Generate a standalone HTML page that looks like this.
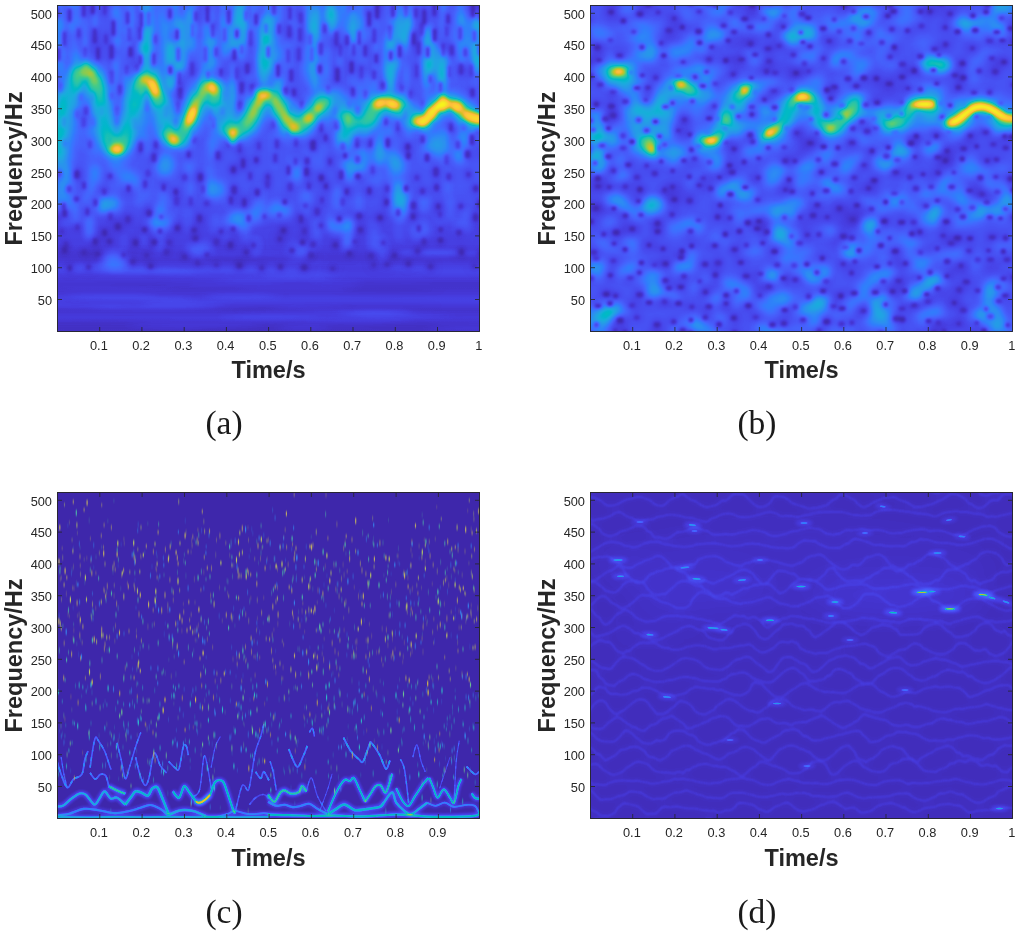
<!DOCTYPE html><html><head><meta charset="utf-8"><title>Time-frequency representations</title>
<style>html,body{margin:0;padding:0;background:#fff}svg{display:block}.tk{font-family:"Liberation Sans",Arial,Helvetica,sans-serif;font-size:12.8px;fill:#262626}.lb{font-family:"Liberation Sans",Arial,Helvetica,sans-serif;font-size:23.5px;font-weight:bold;fill:#262626}.cap{font-family:"Liberation Serif","Times New Roman",serif;font-size:33.5px;fill:#1a1a1a}</style></head><body>
<svg width="1025" height="933" viewBox="0 0 1025 933">
<defs><linearGradient id="gradA" x1="0" y1="0" x2="0" y2="1">
<stop offset="0" stop-color="#fff" stop-opacity="0.02"/><stop offset="0.55" stop-color="#fff" stop-opacity="0.015"/><stop offset="0.6" stop-color="#000" stop-opacity="0.0"/>
<stop offset="0.68" stop-color="#000" stop-opacity="0.3"/><stop offset="0.8" stop-color="#000" stop-opacity="0.45"/><stop offset="1" stop-color="#000" stop-opacity="0.62"/></linearGradient>
<filter id="cma" filterUnits="userSpaceOnUse" x="57.5" y="5.5" width="422" height="326" color-interpolation-filters="sRGB"><feComponentTransfer><feFuncR type="table" tableValues="0.242 0.250 0.258 0.265 0.271 0.275 0.278 0.280 0.281 0.281 0.280 0.276 0.270 0.260 0.244 0.221 0.196 0.183 0.179 0.176 0.169 0.154 0.146 0.138 0.125 0.111 0.095 0.069 0.030 0.004 0.007 0.043 0.096 0.141 0.172 0.194 0.216 0.247 0.291 0.341 0.391 0.446 0.504 0.562 0.617 0.672 0.724 0.774 0.820 0.863 0.903 0.939 0.973 0.996 0.997 0.995 0.989 0.979 0.968 0.961 0.960 0.963 0.969 0.977"/><feFuncG type="table" tableValues="0.150 0.165 0.182 0.198 0.215 0.234 0.256 0.278 0.301 0.323 0.345 0.367 0.389 0.412 0.436 0.460 0.485 0.507 0.529 0.550 0.570 0.590 0.609 0.628 0.646 0.663 0.680 0.695 0.708 0.720 0.731 0.741 0.750 0.758 0.767 0.776 0.784 0.792 0.797 0.801 0.803 0.802 0.799 0.794 0.788 0.779 0.770 0.760 0.750 0.741 0.733 0.729 0.730 0.743 0.766 0.789 0.814 0.839 0.864 0.889 0.913 0.937 0.961 0.984"/><feFuncB type="table" tableValues="0.660 0.708 0.751 0.795 0.836 0.871 0.899 0.922 0.941 0.958 0.972 0.983 0.991 0.995 0.999 0.997 0.989 0.980 0.968 0.952 0.936 0.922 0.908 0.897 0.888 0.876 0.860 0.839 0.816 0.792 0.766 0.739 0.712 0.684 0.655 0.625 0.592 0.557 0.519 0.479 0.435 0.391 0.348 0.304 0.261 0.223 0.191 0.165 0.153 0.160 0.177 0.210 0.239 0.237 0.220 0.203 0.189 0.177 0.164 0.154 0.142 0.127 0.106 0.081"/></feComponentTransfer></filter>
<filter id="cmb" filterUnits="userSpaceOnUse" x="590.5" y="5.5" width="422" height="326" color-interpolation-filters="sRGB"><feComponentTransfer><feFuncR type="table" tableValues="0.242 0.250 0.258 0.265 0.271 0.275 0.278 0.280 0.281 0.281 0.280 0.276 0.270 0.260 0.244 0.221 0.196 0.183 0.179 0.176 0.169 0.154 0.146 0.138 0.125 0.111 0.095 0.069 0.030 0.004 0.007 0.043 0.096 0.141 0.172 0.194 0.216 0.247 0.291 0.341 0.391 0.446 0.504 0.562 0.617 0.672 0.724 0.774 0.820 0.863 0.903 0.939 0.973 0.996 0.997 0.995 0.989 0.979 0.968 0.961 0.960 0.963 0.969 0.977"/><feFuncG type="table" tableValues="0.150 0.165 0.182 0.198 0.215 0.234 0.256 0.278 0.301 0.323 0.345 0.367 0.389 0.412 0.436 0.460 0.485 0.507 0.529 0.550 0.570 0.590 0.609 0.628 0.646 0.663 0.680 0.695 0.708 0.720 0.731 0.741 0.750 0.758 0.767 0.776 0.784 0.792 0.797 0.801 0.803 0.802 0.799 0.794 0.788 0.779 0.770 0.760 0.750 0.741 0.733 0.729 0.730 0.743 0.766 0.789 0.814 0.839 0.864 0.889 0.913 0.937 0.961 0.984"/><feFuncB type="table" tableValues="0.660 0.708 0.751 0.795 0.836 0.871 0.899 0.922 0.941 0.958 0.972 0.983 0.991 0.995 0.999 0.997 0.989 0.980 0.968 0.952 0.936 0.922 0.908 0.897 0.888 0.876 0.860 0.839 0.816 0.792 0.766 0.739 0.712 0.684 0.655 0.625 0.592 0.557 0.519 0.479 0.435 0.391 0.348 0.304 0.261 0.223 0.191 0.165 0.153 0.160 0.177 0.210 0.239 0.237 0.220 0.203 0.189 0.177 0.164 0.154 0.142 0.127 0.106 0.081"/></feComponentTransfer></filter>
<filter id="cmc" filterUnits="userSpaceOnUse" x="57.5" y="492.5" width="422" height="326" color-interpolation-filters="sRGB"><feComponentTransfer><feFuncR type="table" tableValues="0.242 0.250 0.258 0.265 0.271 0.275 0.278 0.280 0.281 0.281 0.280 0.276 0.270 0.260 0.244 0.221 0.196 0.183 0.179 0.176 0.169 0.154 0.146 0.138 0.125 0.111 0.095 0.069 0.030 0.004 0.007 0.043 0.096 0.141 0.172 0.194 0.216 0.247 0.291 0.341 0.391 0.446 0.504 0.562 0.617 0.672 0.724 0.774 0.820 0.863 0.903 0.939 0.973 0.996 0.997 0.995 0.989 0.979 0.968 0.961 0.960 0.963 0.969 0.977"/><feFuncG type="table" tableValues="0.150 0.165 0.182 0.198 0.215 0.234 0.256 0.278 0.301 0.323 0.345 0.367 0.389 0.412 0.436 0.460 0.485 0.507 0.529 0.550 0.570 0.590 0.609 0.628 0.646 0.663 0.680 0.695 0.708 0.720 0.731 0.741 0.750 0.758 0.767 0.776 0.784 0.792 0.797 0.801 0.803 0.802 0.799 0.794 0.788 0.779 0.770 0.760 0.750 0.741 0.733 0.729 0.730 0.743 0.766 0.789 0.814 0.839 0.864 0.889 0.913 0.937 0.961 0.984"/><feFuncB type="table" tableValues="0.660 0.708 0.751 0.795 0.836 0.871 0.899 0.922 0.941 0.958 0.972 0.983 0.991 0.995 0.999 0.997 0.989 0.980 0.968 0.952 0.936 0.922 0.908 0.897 0.888 0.876 0.860 0.839 0.816 0.792 0.766 0.739 0.712 0.684 0.655 0.625 0.592 0.557 0.519 0.479 0.435 0.391 0.348 0.304 0.261 0.223 0.191 0.165 0.153 0.160 0.177 0.210 0.239 0.237 0.220 0.203 0.189 0.177 0.164 0.154 0.142 0.127 0.106 0.081"/></feComponentTransfer></filter>
<filter id="cmd" filterUnits="userSpaceOnUse" x="590.5" y="492.5" width="422" height="326" color-interpolation-filters="sRGB"><feComponentTransfer><feFuncR type="table" tableValues="0.242 0.250 0.258 0.265 0.271 0.275 0.278 0.280 0.281 0.281 0.280 0.276 0.270 0.260 0.244 0.221 0.196 0.183 0.179 0.176 0.169 0.154 0.146 0.138 0.125 0.111 0.095 0.069 0.030 0.004 0.007 0.043 0.096 0.141 0.172 0.194 0.216 0.247 0.291 0.341 0.391 0.446 0.504 0.562 0.617 0.672 0.724 0.774 0.820 0.863 0.903 0.939 0.973 0.996 0.997 0.995 0.989 0.979 0.968 0.961 0.960 0.963 0.969 0.977"/><feFuncG type="table" tableValues="0.150 0.165 0.182 0.198 0.215 0.234 0.256 0.278 0.301 0.323 0.345 0.367 0.389 0.412 0.436 0.460 0.485 0.507 0.529 0.550 0.570 0.590 0.609 0.628 0.646 0.663 0.680 0.695 0.708 0.720 0.731 0.741 0.750 0.758 0.767 0.776 0.784 0.792 0.797 0.801 0.803 0.802 0.799 0.794 0.788 0.779 0.770 0.760 0.750 0.741 0.733 0.729 0.730 0.743 0.766 0.789 0.814 0.839 0.864 0.889 0.913 0.937 0.961 0.984"/><feFuncB type="table" tableValues="0.660 0.708 0.751 0.795 0.836 0.871 0.899 0.922 0.941 0.958 0.972 0.983 0.991 0.995 0.999 0.997 0.989 0.980 0.968 0.952 0.936 0.922 0.908 0.897 0.888 0.876 0.860 0.839 0.816 0.792 0.766 0.739 0.712 0.684 0.655 0.625 0.592 0.557 0.519 0.479 0.435 0.391 0.348 0.304 0.261 0.223 0.191 0.165 0.153 0.160 0.177 0.210 0.239 0.237 0.220 0.203 0.189 0.177 0.164 0.154 0.142 0.127 0.106 0.081"/></feComponentTransfer></filter>
<filter id="b0p7" filterUnits="userSpaceOnUse" x="0" y="0" width="1025" height="933" color-interpolation-filters="sRGB"><feGaussianBlur stdDeviation="0.7"/></filter>
<filter id="b1" filterUnits="userSpaceOnUse" x="0" y="0" width="1025" height="933" color-interpolation-filters="sRGB"><feGaussianBlur stdDeviation="1"/></filter>
<filter id="b1p5" filterUnits="userSpaceOnUse" x="0" y="0" width="1025" height="933" color-interpolation-filters="sRGB"><feGaussianBlur stdDeviation="1.5"/></filter>
<filter id="b2" filterUnits="userSpaceOnUse" x="0" y="0" width="1025" height="933" color-interpolation-filters="sRGB"><feGaussianBlur stdDeviation="2"/></filter>
<filter id="b3" filterUnits="userSpaceOnUse" x="0" y="0" width="1025" height="933" color-interpolation-filters="sRGB"><feGaussianBlur stdDeviation="3"/></filter>
<filter id="b4" filterUnits="userSpaceOnUse" x="0" y="0" width="1025" height="933" color-interpolation-filters="sRGB"><feGaussianBlur stdDeviation="4"/></filter>
<filter id="b5" filterUnits="userSpaceOnUse" x="0" y="0" width="1025" height="933" color-interpolation-filters="sRGB"><feGaussianBlur stdDeviation="5"/></filter>
<filter id="b6" filterUnits="userSpaceOnUse" x="0" y="0" width="1025" height="933" color-interpolation-filters="sRGB"><feGaussianBlur stdDeviation="6"/></filter>
<filter id="b8" filterUnits="userSpaceOnUse" x="0" y="0" width="1025" height="933" color-interpolation-filters="sRGB"><feGaussianBlur stdDeviation="8"/></filter>
<filter id="b10" filterUnits="userSpaceOnUse" x="0" y="0" width="1025" height="933" color-interpolation-filters="sRGB"><feGaussianBlur stdDeviation="10"/></filter>
<filter id="b12" filterUnits="userSpaceOnUse" x="0" y="0" width="1025" height="933" color-interpolation-filters="sRGB"><feGaussianBlur stdDeviation="12"/></filter>
<filter id="b16" filterUnits="userSpaceOnUse" x="0" y="0" width="1025" height="933" color-interpolation-filters="sRGB"><feGaussianBlur stdDeviation="16"/></filter>
<filter id="b3_1" filterUnits="userSpaceOnUse" x="0" y="0" width="1025" height="933" color-interpolation-filters="sRGB"><feGaussianBlur stdDeviation="3 1"/></filter>
<filter id="b6_2" filterUnits="userSpaceOnUse" x="0" y="0" width="1025" height="933" color-interpolation-filters="sRGB"><feGaussianBlur stdDeviation="6 2"/></filter>
<filter id="b10_2" filterUnits="userSpaceOnUse" x="0" y="0" width="1025" height="933" color-interpolation-filters="sRGB"><feGaussianBlur stdDeviation="10 2"/></filter>
<filter id="b2_5" filterUnits="userSpaceOnUse" x="0" y="0" width="1025" height="933" color-interpolation-filters="sRGB"><feGaussianBlur stdDeviation="2 5"/></filter>
<filter id="b3_8" filterUnits="userSpaceOnUse" x="0" y="0" width="1025" height="933" color-interpolation-filters="sRGB"><feGaussianBlur stdDeviation="3 8"/></filter>
<filter id="b1_3" filterUnits="userSpaceOnUse" x="0" y="0" width="1025" height="933" color-interpolation-filters="sRGB"><feGaussianBlur stdDeviation="1 3"/></filter>
<filter id="b0p5_1p5" filterUnits="userSpaceOnUse" x="0" y="0" width="1025" height="933" color-interpolation-filters="sRGB"><feGaussianBlur stdDeviation="0.5 1.5"/></filter>
<filter id="b0p4_1" filterUnits="userSpaceOnUse" x="0" y="0" width="1025" height="933" color-interpolation-filters="sRGB"><feGaussianBlur stdDeviation="0.4 1"/></filter>
<clipPath id="clipa"><rect x="57.5" y="5.5" width="422" height="326"/></clipPath>
<clipPath id="clipb"><rect x="590.5" y="5.5" width="422" height="326"/></clipPath>
<clipPath id="clipc"><rect x="57.5" y="492.5" width="422" height="326"/></clipPath>
<clipPath id="clipd"><rect x="590.5" y="492.5" width="422" height="326"/></clipPath>
</defs>
<rect width="1025" height="933" fill="#fff"/>
<g id="panel-a">
<g filter="url(#cma)">
<rect x="55.5" y="3.5" width="426" height="330" fill="#252525"/><rect x="55.5" y="3.5" width="426" height="330" fill="url(#gradA)"/><g filter="url(#b3)"><path d="M124 237v15.8M175.8 8.7v24.7M349.2 95v17.3M346.9 197v9.4M369.3 175.8v18.3M177.1 58.7v24.4M443.9 21.6v18.1M84.5 95.5v34.9" stroke="#fff" stroke-width="6" stroke-opacity="0.04" stroke-linecap="round" fill="none"/><path d="M141.6 122.3v16.9M319 211.9v21.5M380.4 133.2v29.5M143.4 227.6v16.2M377.8 16.7v26.8M475.4 74.7v21.6M92.3 168.9v25.6M359.3 145.8v27.2" stroke="#fff" stroke-width="6" stroke-opacity="0.06" stroke-linecap="round" fill="none"/><path d="M190.5 184.1v15.1M441.6 52.3v45M65.6 206.3v17.2M353.4 36v47.4M390.6 127.8v34.7" stroke="#fff" stroke-width="6" stroke-opacity="0.08" stroke-linecap="round" fill="none"/><path d="M223.9 17.6v38.2M471.9 129.6v13.6M283.7 109.3v29M446.1 132.2v20.6M461.4 120v17.9" stroke="#fff" stroke-width="6" stroke-opacity="0.10" stroke-linecap="round" fill="none"/><path d="M329.1 212.3v14.9M62.3 161.5v24.9M429 141.3v23.9M174.3 198.5v16.3M401.7 9.1v32.2M114 177.2v24.1M290.3 107.1v27.6M117.8 146.6v26.5M308.5 187.4v11.4" stroke="#fff" stroke-width="7.5" stroke-opacity="0.04" stroke-linecap="round" fill="none"/><path d="M147.5 171.9v25.2M198.9 43.3v19.7M447.2 172v19.8M139.4 181v22.5M408.7 128.4v31.3M450 200.4v17.2M242.3 37.2v24.4M451.9 14.8v23.8M210.8 140.6v19.9M167.4 5v47M188.9 166.5v10" stroke="#fff" stroke-width="7.5" stroke-opacity="0.06" stroke-linecap="round" fill="none"/><path d="M88.5 217.5v17.4M405.1 90.1v21.2M245.6 229.6v8.1M232.2 80v26.9M75 57.3v31.1M358.9 198.1v12.2M232 109.3v16M155.4 -5.6v39.9M183.6 47.7v17.1M372.2 77.4v20.4M103.4 197v11.8M145.4 100.4v26.9" stroke="#fff" stroke-width="7.5" stroke-opacity="0.08" stroke-linecap="round" fill="none"/><path d="M324.7 51.7v20.2M277.6 45.7v26.5" stroke="#fff" stroke-width="7.5" stroke-opacity="0.10" stroke-linecap="round" fill="none"/><path d="M458.5 12v35.6M321.2 142.7v22.1M374.1 233.8v14.9M416.5 -8.5v33.9M254.6 110.3v21M228.5 195.7v9.1M236.9 87.1v13.8M393.9 97.9v33.2M119.2 42.3v45M395.7 142.5v21.3M214.3 32.9v36.1M326.3 -10.3v25.2" stroke="#fff" stroke-width="9" stroke-opacity="0.04" stroke-linecap="round" fill="none"/><path d="M248.4 91.3v36.9M248.9 74v39M458 223v8.5M275.3 135.1v28.4M163.2 190.8v17.6M315.4 222.8v22.6M402.1 92.2v13.3M339.4 127.9v15.4M278.6 53.6v37.8" stroke="#fff" stroke-width="9" stroke-opacity="0.06" stroke-linecap="round" fill="none"/><path d="M159.6 234.9v12.6M214.4 118.9v34.5M277.1 79.2v34M428.6 28.7v44.6M326.9 100.7v33.1M353.3 29.1v20.1M209.1 170.2v22.1M88.9 208.7v20.5M333.3 -10.3v27.2M90.6 220.3v15.5" stroke="#fff" stroke-width="9" stroke-opacity="0.08" stroke-linecap="round" fill="none"/><path d="M57.7 183.5v26.1M349.1 224.8v15M75.6 198.9v21.8M278.4 -4.3v40.9" stroke="#fff" stroke-width="9" stroke-opacity="0.10" stroke-linecap="round" fill="none"/><path d="M225.2 223.1v14.7M94.3 151.5v29.3M161.5 221.6v3.8M293.5 131.4v12.4M73.8 -1.5v22.6M367.7 93.9v21.2M439.9 216.3v21.4M69.5 41.1v13.6M318.3 10.3v17.6M399.1 222.6v14.3M92 161.7v23.1M368.5 17.3v16.5M187.7 212.1v16.1" stroke="#fff" stroke-width="10.5" stroke-opacity="0.04" stroke-linecap="round" fill="none"/><path d="M276.6 77.2v25.3M327.3 -21.1v46.6M157.7 211.1v5.1M391.2 155.6v27.1M92.4 128.4v21.6M365.1 77.7v24.9M466.2 213.3v13.4M83.6 -2.4v30.1M309.8 151v14M94 67v27.8M147.5 136.7v13.4M377.2 162.1v18.3M123.7 163.2v11.3M255.3 -5.4v34.1" stroke="#fff" stroke-width="10.5" stroke-opacity="0.06" stroke-linecap="round" fill="none"/><path d="M305.4 194.9v15.8M97.2 169.7v7.3M75.2 -19.9v49.8M174.9 -24v50.3M86.5 183.7v16.5M288 45.9v39.8M425.1 131.8v26.8M144 50.9v37.3M434.4 32.5v34.4M166.5 3v39.1M228.7 4.2v44M255.4 241.5v9M158.1 209.8v21.1M259.5 190.4v11.9M287.1 89.3v37.2M341.2 114.8v22.8M443.6 132.4v28.7M382.6 240.2v16.1" stroke="#fff" stroke-width="10.5" stroke-opacity="0.08" stroke-linecap="round" fill="none"/><path d="M392.3 8.7v25.9M338.5 192.8v13.3M267 20.4v41.1M346.7 241.2v6" stroke="#fff" stroke-width="10.5" stroke-opacity="0.10" stroke-linecap="round" fill="none"/><path d="M467.2 38.8v21M162.8 192v19M261 57.7v19.5M352.2 113.4v23.8M189 140.6v27M143.6 17.9v44.7M373.3 226.1v20.1M439.6 133v18.2M143.7 136.6v13.3M83.8 123.8v22.1" stroke="#fff" stroke-width="12" stroke-opacity="0.04" stroke-linecap="round" fill="none"/><path d="M439.7 73.6v22.6M147.5 2.4v45.9M362.8 23.1v34.4M155.7 46.9v36M216 220.7v7" stroke="#fff" stroke-width="12" stroke-opacity="0.06" stroke-linecap="round" fill="none"/><path d="M226.5 26.6v24.2M423.2 200.1v6.3M113 145.2v27.1M323.3 69.5v33.2M228.2 88.6v22.6M297.9 107.5v17.8M271.8 -7.7v32.9M385.8 99.4v35.2M397.6 21.3v40.9" stroke="#fff" stroke-width="12" stroke-opacity="0.08" stroke-linecap="round" fill="none"/><path d="M190.4 10v19.4M356.8 90.3v34.2" stroke="#fff" stroke-width="12" stroke-opacity="0.10" stroke-linecap="round" fill="none"/></g><g filter="url(#b6_2)"><ellipse cx="252.4" cy="254.4" rx="62.3" ry="2.4" fill="#fff" fill-opacity="0.03"/><ellipse cx="357.1" cy="312.4" rx="50.4" ry="2" fill="#fff" fill-opacity="0.05"/><ellipse cx="394.9" cy="314.9" rx="52.7" ry="1.7" fill="#fff" fill-opacity="0.04"/><ellipse cx="183.3" cy="304.5" rx="42.6" ry="2.4" fill="#fff" fill-opacity="0.03"/><ellipse cx="366.2" cy="305.1" rx="67.5" ry="2.2" fill="#000" fill-opacity="0.17"/><ellipse cx="406.4" cy="324" rx="31.3" ry="1.4" fill="#000" fill-opacity="0.24"/><ellipse cx="133.4" cy="299.3" rx="62.7" ry="2.3" fill="#fff" fill-opacity="0.03"/><ellipse cx="123.8" cy="321.4" rx="43.3" ry="1.3" fill="#000" fill-opacity="0.19"/><ellipse cx="273.4" cy="279.8" rx="59.5" ry="2.7" fill="#fff" fill-opacity="0.03"/><ellipse cx="231.4" cy="330.1" rx="43" ry="2.5" fill="#000" fill-opacity="0.26"/><ellipse cx="336.1" cy="282.9" rx="25.8" ry="1.8" fill="#fff" fill-opacity="0.04"/><ellipse cx="102.3" cy="301.3" rx="47.9" ry="2.6" fill="#000" fill-opacity="0.22"/><ellipse cx="124.3" cy="270.4" rx="65.6" ry="2.2" fill="#fff" fill-opacity="0.04"/><ellipse cx="117.3" cy="274.6" rx="69.4" ry="2.1" fill="#000" fill-opacity="0.27"/><ellipse cx="140.7" cy="256.2" rx="53.2" ry="1.6" fill="#fff" fill-opacity="0.03"/><ellipse cx="300.8" cy="275.9" rx="39.8" ry="2.9" fill="#fff" fill-opacity="0.03"/><ellipse cx="109.8" cy="253.9" rx="31.1" ry="2.8" fill="#000" fill-opacity="0.21"/><ellipse cx="294" cy="310.3" rx="65.9" ry="3" fill="#000" fill-opacity="0.22"/><ellipse cx="109.3" cy="265.7" rx="38" ry="2.8" fill="#fff" fill-opacity="0.04"/><ellipse cx="408.1" cy="316.5" rx="49.7" ry="1.3" fill="#fff" fill-opacity="0.03"/><ellipse cx="474" cy="256.6" rx="54.6" ry="1.8" fill="#000" fill-opacity="0.25"/><ellipse cx="218.6" cy="284.2" rx="61.2" ry="1.2" fill="#fff" fill-opacity="0.03"/><ellipse cx="117.8" cy="300.6" rx="50.6" ry="1.5" fill="#000" fill-opacity="0.15"/><ellipse cx="297.2" cy="304.9" rx="53.9" ry="1.3" fill="#000" fill-opacity="0.13"/><ellipse cx="462.3" cy="283.6" rx="46.1" ry="1.9" fill="#000" fill-opacity="0.24"/><ellipse cx="377.4" cy="271.5" rx="46.9" ry="3" fill="#000" fill-opacity="0.27"/><ellipse cx="230.1" cy="296.8" rx="50.5" ry="2.8" fill="#000" fill-opacity="0.21"/><ellipse cx="239.9" cy="259.4" rx="39.4" ry="1.3" fill="#000" fill-opacity="0.28"/><ellipse cx="366.4" cy="283.8" rx="58.8" ry="1.7" fill="#000" fill-opacity="0.11"/><ellipse cx="110" cy="295.8" rx="47.6" ry="1.9" fill="#fff" fill-opacity="0.04"/><ellipse cx="279.6" cy="312.3" rx="38.8" ry="1.9" fill="#fff" fill-opacity="0.02"/><ellipse cx="442.1" cy="254.5" rx="55" ry="2.8" fill="#fff" fill-opacity="0.04"/><ellipse cx="151.1" cy="271.9" rx="50.5" ry="2.8" fill="#fff" fill-opacity="0.04"/><ellipse cx="109.7" cy="288.6" rx="67.8" ry="1.2" fill="#fff" fill-opacity="0.03"/><ellipse cx="194.6" cy="326.3" rx="65.3" ry="2.7" fill="#fff" fill-opacity="0.03"/><ellipse cx="304.6" cy="327.7" rx="26.4" ry="2.8" fill="#fff" fill-opacity="0.03"/><ellipse cx="451.6" cy="253.6" rx="46.3" ry="1.6" fill="#fff" fill-opacity="0.05"/><ellipse cx="435.9" cy="315.8" rx="62.7" ry="1.8" fill="#000" fill-opacity="0.13"/><ellipse cx="428.7" cy="252.2" rx="34.1" ry="2.3" fill="#fff" fill-opacity="0.05"/><ellipse cx="78.6" cy="322.9" rx="57.7" ry="1.8" fill="#000" fill-opacity="0.27"/><ellipse cx="358.4" cy="320.6" rx="56.3" ry="2.9" fill="#fff" fill-opacity="0.02"/><ellipse cx="151.7" cy="306.9" rx="57" ry="1.6" fill="#fff" fill-opacity="0.03"/><ellipse cx="338" cy="268.5" rx="41.8" ry="2.4" fill="#000" fill-opacity="0.22"/><ellipse cx="154.1" cy="307.4" rx="66.7" ry="2.4" fill="#fff" fill-opacity="0.04"/><ellipse cx="95.5" cy="253.1" rx="44.8" ry="2.2" fill="#000" fill-opacity="0.11"/><ellipse cx="310.6" cy="308.7" rx="36.3" ry="2.6" fill="#fff" fill-opacity="0.03"/><ellipse cx="376.4" cy="311.8" rx="37.6" ry="2.2" fill="#fff" fill-opacity="0.05"/><ellipse cx="474.3" cy="328.6" rx="45.8" ry="2.6" fill="#fff" fill-opacity="0.05"/><ellipse cx="268.5" cy="317" rx="50" ry="2.4" fill="#fff" fill-opacity="0.04"/><ellipse cx="387.9" cy="290.2" rx="47.8" ry="2.7" fill="#000" fill-opacity="0.20"/><ellipse cx="459" cy="317.5" rx="60.1" ry="1.5" fill="#000" fill-opacity="0.15"/><ellipse cx="243.4" cy="269.8" rx="60.4" ry="2.6" fill="#fff" fill-opacity="0.03"/><ellipse cx="150.9" cy="285.2" rx="47.5" ry="1.3" fill="#000" fill-opacity="0.24"/><ellipse cx="299.2" cy="261.9" rx="33.1" ry="1.5" fill="#fff" fill-opacity="0.03"/><ellipse cx="240.9" cy="296.2" rx="36.8" ry="2.6" fill="#fff" fill-opacity="0.05"/><ellipse cx="297.6" cy="288.1" rx="60.6" ry="1.6" fill="#fff" fill-opacity="0.03"/><ellipse cx="75.4" cy="306.3" rx="53" ry="2.1" fill="#fff" fill-opacity="0.04"/><ellipse cx="94.8" cy="266.1" rx="32.7" ry="1.7" fill="#fff" fill-opacity="0.04"/><ellipse cx="408.2" cy="268.8" rx="27.8" ry="1.9" fill="#fff" fill-opacity="0.03"/><ellipse cx="467.1" cy="328" rx="47" ry="2.6" fill="#000" fill-opacity="0.13"/></g><g filter="url(#b3)"><rect x="47.5" y="251.9" width="442" height="10" fill="#000" fill-opacity="0.22"/><rect x="47.5" y="280.8" width="442" height="12" fill="#000" fill-opacity="0.2"/><rect x="47.5" y="304" width="442" height="10" fill="#000" fill-opacity="0.2"/><rect x="47.5" y="323.8" width="442" height="10" fill="#000" fill-opacity="0.25"/><rect x="47.5" y="266.5" width="442" height="10" fill="#fff" fill-opacity="0.035"/><rect x="47.5" y="297.3" width="442" height="7" fill="#fff" fill-opacity="0.045"/><rect x="47.5" y="314.3" width="442" height="6" fill="#fff" fill-opacity="0.03"/></g><g filter="url(#b3)"><ellipse cx="59" cy="40" rx="5" ry="40" fill="#fff" fill-opacity="0.22"/><ellipse cx="60" cy="120" rx="6" ry="40" fill="#fff" fill-opacity="0.22"/><ellipse cx="116" cy="26" rx="5" ry="22" fill="#fff" fill-opacity="0.16"/><ellipse cx="128" cy="20" rx="5" ry="16" fill="#fff" fill-opacity="0.14"/><ellipse cx="146" cy="38" rx="6" ry="36" fill="#fff" fill-opacity="0.32"/><ellipse cx="171" cy="66" rx="7" ry="25" fill="#fff" fill-opacity="0.32"/><ellipse cx="180" cy="45" rx="5" ry="28" fill="#fff" fill-opacity="0.19"/><ellipse cx="189" cy="30" rx="5" ry="20" fill="#fff" fill-opacity="0.14"/><ellipse cx="209" cy="38" rx="5" ry="34" fill="#fff" fill-opacity="0.20"/><ellipse cx="239" cy="30" rx="7" ry="28" fill="#fff" fill-opacity="0.32"/><ellipse cx="264" cy="52" rx="6" ry="36" fill="#fff" fill-opacity="0.24"/><ellipse cx="270" cy="40" rx="5" ry="36" fill="#fff" fill-opacity="0.19"/><ellipse cx="314" cy="48" rx="6" ry="44" fill="#fff" fill-opacity="0.20"/><ellipse cx="332" cy="20" rx="6" ry="15" fill="#fff" fill-opacity="0.27"/><ellipse cx="353" cy="28" rx="6" ry="18" fill="#fff" fill-opacity="0.24"/><ellipse cx="390" cy="62" rx="6" ry="30" fill="#fff" fill-opacity="0.30"/><ellipse cx="404" cy="25" rx="7" ry="20" fill="#fff" fill-opacity="0.16"/><ellipse cx="428" cy="56" rx="6" ry="31" fill="#fff" fill-opacity="0.27"/><ellipse cx="442" cy="70" rx="5" ry="22" fill="#fff" fill-opacity="0.27"/><ellipse cx="462" cy="40" rx="6" ry="26" fill="#fff" fill-opacity="0.16"/><ellipse cx="477" cy="42" rx="5" ry="32" fill="#fff" fill-opacity="0.41"/></g><g filter="url(#b4)"><ellipse cx="66" cy="190" rx="7" ry="23" fill="#fff" fill-opacity="0.21"/><ellipse cx="107" cy="205" rx="13" ry="8" fill="#fff" fill-opacity="0.24"/><ellipse cx="115" cy="260" rx="13" ry="8" fill="#fff" fill-opacity="0.18"/><ellipse cx="160" cy="222" rx="13" ry="8" fill="#fff" fill-opacity="0.18"/><ellipse cx="165" cy="165" rx="9" ry="11" fill="#fff" fill-opacity="0.21"/><ellipse cx="215" cy="190" rx="11" ry="9" fill="#fff" fill-opacity="0.18"/><ellipse cx="240" cy="220" rx="13" ry="9" fill="#fff" fill-opacity="0.24"/><ellipse cx="258" cy="214" rx="11" ry="8" fill="#fff" fill-opacity="0.18"/><ellipse cx="280" cy="210" rx="11" ry="8" fill="#fff" fill-opacity="0.21"/><ellipse cx="295" cy="170" rx="9" ry="11" fill="#fff" fill-opacity="0.18"/><ellipse cx="345" cy="140" rx="7" ry="13" fill="#fff" fill-opacity="0.30"/><ellipse cx="350" cy="168" rx="8" ry="13" fill="#fff" fill-opacity="0.24"/><ellipse cx="340" cy="225" rx="13" ry="8" fill="#fff" fill-opacity="0.21"/><ellipse cx="362" cy="160" rx="7" ry="13" fill="#fff" fill-opacity="0.21"/><ellipse cx="380" cy="150" rx="7" ry="13" fill="#fff" fill-opacity="0.24"/><ellipse cx="400" cy="200" rx="8" ry="19" fill="#fff" fill-opacity="0.33"/><ellipse cx="398" cy="165" rx="7" ry="11" fill="#fff" fill-opacity="0.21"/><ellipse cx="435" cy="145" rx="7" ry="11" fill="#fff" fill-opacity="0.21"/><ellipse cx="460" cy="150" rx="7" ry="13" fill="#fff" fill-opacity="0.24"/><ellipse cx="468" cy="138" rx="6" ry="9" fill="#fff" fill-opacity="0.21"/><ellipse cx="300" cy="250" rx="13" ry="7" fill="#fff" fill-opacity="0.12"/><ellipse cx="200" cy="250" rx="13" ry="7" fill="#fff" fill-opacity="0.12"/><ellipse cx="130" cy="180" rx="9" ry="9" fill="#fff" fill-opacity="0.15"/><ellipse cx="420" cy="230" rx="9" ry="9" fill="#fff" fill-opacity="0.15"/></g><g filter="url(#b2_5)"><path d="M455 61.1v18.5" stroke="#fff" stroke-width="4.8" stroke-opacity="0.04" stroke-linecap="round" fill="none"/><path d="M436.1 41v24.1" stroke="#fff" stroke-width="4.8" stroke-opacity="0.06" stroke-linecap="round" fill="none"/><path d="M223.5 1.3v30.5" stroke="#fff" stroke-width="4.8" stroke-opacity="0.08" stroke-linecap="round" fill="none"/><path d="M219.8 65.8v31.5M95 -10.8v42.4" stroke="#fff" stroke-width="4.8" stroke-opacity="0.10" stroke-linecap="round" fill="none"/><path d="M182.4 58.9v18.5M317.5 14.1v29.7M84 65.2v26.7M450.3 63.2v14.8M315.1 49.1v36.4" stroke="#fff" stroke-width="5.4" stroke-opacity="0.04" stroke-linecap="round" fill="none"/><path d="M186.4 37.5v31.4M307 50.4v30.5M390.5 70.7v22.1" stroke="#fff" stroke-width="5.4" stroke-opacity="0.06" stroke-linecap="round" fill="none"/><path d="M339.9 54.3v22.8M406.6 32.8v15.5M398.2 1.8v15M253.3 8.7v34.9M243.7 -5.5v29.8" stroke="#fff" stroke-width="5.4" stroke-opacity="0.08" stroke-linecap="round" fill="none"/><path d="M233.3 64.6v40.8M85.1 33.8v26.4M132.3 9.5v29" stroke="#fff" stroke-width="5.4" stroke-opacity="0.10" stroke-linecap="round" fill="none"/><path d="M476.3 36.4v33.5M263.6 26.7v29.2M205 8.9v19.2M429.9 -11.3v31.5M166.1 21.3v17.2" stroke="#fff" stroke-width="6" stroke-opacity="0.04" stroke-linecap="round" fill="none"/><path d="M153 68.7v39.2M265.8 30.6v40.5M243.8 -3.5v37.2M303.2 44.8v29.8" stroke="#fff" stroke-width="6" stroke-opacity="0.06" stroke-linecap="round" fill="none"/><path d="M361.8 7.1v35.6M206.7 72.2v19.6M406.4 67.9v18.1M390.5 28.2v17.8M343.8 -13v40.7M342.3 4.3v40.9" stroke="#fff" stroke-width="6" stroke-opacity="0.08" stroke-linecap="round" fill="none"/><path d="M232 30v22.2M409 13.2v18.6M441.5 75.8v15.3M77.8 52.5v37.3M376 44.4v40M127.7 33.2v18.6" stroke="#fff" stroke-width="6" stroke-opacity="0.10" stroke-linecap="round" fill="none"/><path d="M369.5 -2.1v26" stroke="#fff" stroke-width="6.6" stroke-opacity="0.04" stroke-linecap="round" fill="none"/><path d="M443.9 -2.9v14.8M181.2 23.5v26.2M310.8 16.7v30.7M468.8 15.4v34.9M246.7 21.7v18.2" stroke="#fff" stroke-width="6.6" stroke-opacity="0.06" stroke-linecap="round" fill="none"/><path d="M402.9 36.6v14.4M260.8 55.7v15.8M396.6 25.3v16.8M343.1 -7v17.6M174.1 -3.5v31.3M409.7 -20.5v39.4M139.1 73.1v18.2M460.1 -21.6v41.4M317.4 0.2v34.5" stroke="#fff" stroke-width="6.6" stroke-opacity="0.08" stroke-linecap="round" fill="none"/><path d="M296.8 23.6v17M126.4 69.8v30.6M115.3 61.7v31.2M157.1 59v38.5M290.8 5.4v22.3" stroke="#fff" stroke-width="6.6" stroke-opacity="0.10" stroke-linecap="round" fill="none"/><path d="M308.5 2.6v14.3M328.4 0.4v19.1M325.1 24.7v28.7" stroke="#fff" stroke-width="7.2" stroke-opacity="0.04" stroke-linecap="round" fill="none"/><path d="M359.1 -7.4v19.2M442.4 -4.9v35.1M214.7 33.3v32.9" stroke="#fff" stroke-width="7.2" stroke-opacity="0.06" stroke-linecap="round" fill="none"/><path d="M307.9 -9.2v40.4M204.9 46.3v34.1M446.4 58.8v15M426.5 75.3v19.4M69.5 -8.2v35.6M313.1 24.3v28.6" stroke="#fff" stroke-width="7.2" stroke-opacity="0.08" stroke-linecap="round" fill="none"/><path d="M210.8 74.2v30M280 82.3v14.3M203.2 71.4v26M313.5 52.9v19.9" stroke="#fff" stroke-width="7.2" stroke-opacity="0.10" stroke-linecap="round" fill="none"/><path d="M272.9 53.4v22.8M74 25.5v31.2M464.1 6v28.5" stroke="#fff" stroke-width="7.8" stroke-opacity="0.04" stroke-linecap="round" fill="none"/><path d="M373.1 -4.7v33.7M406.6 19.4v27.9M161.5 16.4v33.2" stroke="#fff" stroke-width="7.8" stroke-opacity="0.06" stroke-linecap="round" fill="none"/><path d="M396 49.5v17.5M212.3 35.7v27.8" stroke="#fff" stroke-width="7.8" stroke-opacity="0.08" stroke-linecap="round" fill="none"/><path d="M192.5 8.3v40M89.4 72.6v15.7M429.3 45.3v16.8M179.7 30.1v39.5" stroke="#fff" stroke-width="7.8" stroke-opacity="0.10" stroke-linecap="round" fill="none"/></g><g filter="url(#b3)"><path d="M236.6 68.4v10M361.4 66.9v10.9M416.5 65.2v11.3M449.4 66.2v10.6M85.2 48.1v8.3M288.2 50.1v11.6M311.8 48.2v12.3M340.3 45.4v10.2M479.1 44.7v9.5M155.3 35.5v7.3M192.4 24.6v11.3M224.6 28.7v11.7M266.1 24.6v8M310.4 35.2v9M446.7 27v8.5M245.6 11.5v8.5" stroke="#000" stroke-width="8.4" stroke-opacity="0.20" stroke-linecap="round" fill="none"/><path d="M270.7 99.4v9.5M404.8 108.7v9.2M481.6 102.8v10.3M110.6 93.7v5.4M410.4 91.6v6.4M440.6 83.3v9.2M137.1 65.2v7.4M179.3 72.7v11.4M208.1 73.1v7.1M430.1 75.9v6M153.9 54.1v10.3M216 48.1v7.5M268.2 47.2v9.4M353.8 44.5v10.2M365.3 46.3v9.1M52.8 25.3v11.9M64.4 32.5v12.6M78.7 29.3v7.1M359.2 31.9v12.1M460.2 28.2v10.7M484 32.9v7.3M57.7 8.7v8.7M104.8 2.3v11.6M228.8 10.8v11.9M256 14.7v9.2M290 7.5v11.4M416 8.9v7.8" stroke="#000" stroke-width="8.4" stroke-opacity="0.30" stroke-linecap="round" fill="none"/><path d="M422.9 102.3v9.7M93.6 92.3v7.5M98.1 69.6v6.2M98 48.3v10.6M234.4 50.3v8.7M376.2 54.8v7.5M427.8 47.9v8.5M413.8 33.9v9.8M141.3 13.4v12.8M169.9 9.6v8.2M377.2 3.4v14M424.3 10.8v12.3" stroke="#000" stroke-width="8.4" stroke-opacity="0.40" stroke-linecap="round" fill="none"/><path d="M211.1 110.2v8.4M440.2 102.4v9.5M146.9 90.6v6M209.7 86.4v9.5M365.6 91.9v5.6M401.7 86.8v4.6M86.2 70.5v8M111.5 71.8v10.7M126.7 66.7v6.8M192.2 63.6v11.1M471.5 65.4v9.8M490.7 73.6v6M50.8 47.1v12.1M205.4 47.8v12.8M241.6 45.9v6.9M299.1 49.1v10.5M443.3 44.6v10.5M465.3 49.4v5.8M105.9 35.7v6.9M129.4 29v10.8M250.6 32v12.7M374.3 29.8v12.1M390.1 26.6v12.4M421.7 24.3v9.7M148.6 12.8v12M300.7 14v7.8M406 5.4v10.2" stroke="#000" stroke-width="9.6" stroke-opacity="0.20" stroke-linecap="round" fill="none"/><path d="M101.8 107.3v6.8M116.8 108.3v6.1M165.6 106.9v9M178.1 103.1v9.1M257.4 103.9v5.5M289.7 108.2v6.9M302 102.3v5.6M335.5 108.8v4M348.4 102.8v6M357.6 108.3v4.6M52 84.2v5.6M61.2 84.6v5.5M120 86.5v6.3M137.1 90v6.4M196.6 88v7.2M222.3 92.9v7.6M241.8 83.5v8.7M293.9 90.2v5M328.4 87.7v5.6M352.8 88.8v6.6M382.9 83.8v5.4M472.4 90.1v5.6M54.9 70.7v10.9M220.9 69.5v6.4M247.3 64.8v7.8M291.2 70.7v9.7M374.2 72v6.2M461 65.4v7.3M58.4 49.5v9.9M111.5 46.2v11.5M130.4 48.3v7.1M140.4 56.1v7.5M178.3 48.9v11.2M320.7 44.2v9.5M399.7 46.6v9.9M418.7 43.1v10.6M451.9 46.7v7.3M94.8 29.9v11.9M140 28.4v11M177.1 30.3v8.4M212.8 25.1v11.2M279.1 25.2v7.6M289.5 26.7v9.2M299.8 29v11.2M324.8 25.4v6.3M336.3 32.5v12.1M347.1 36.4v7.5M474.5 31.6v9.1M69.6 10.2v10.4M83.8 5.3v10.4M92.8 5.7v7.1M127.6 12.9v10.2M195.8 12.5v7.6M273.9 1.4v12M392.9 6.4v9.7M434.4 2.3v12.6M448.1 15.4v7.1M480.4 5.2v13.4" stroke="#000" stroke-width="9.6" stroke-opacity="0.30" stroke-linecap="round" fill="none"/><path d="M76.2 110.5v5.6M312.9 104.5v7.2M80.2 94.3v4.5M486.4 82.9v7M170.3 67.5v5.3M278.1 65.7v10.1M319.8 66.2v5.7M337.5 69.2v11.1M351.6 62.8v9.1M390.7 52v7.2M113.4 21.5v13M236.9 30.5v6.4M434.7 30.1v9.9M207.5 7.2v14M369.2 12.5v12.7M473 3.1v12.7" stroke="#000" stroke-width="9.6" stroke-opacity="0.40" stroke-linecap="round" fill="none"/><path d="M52.9 101.2v6.4M86.2 107.9v4.8M147 101.1v7.9M240.5 102.9v5.8M451.9 106.5v6.8M180.4 89.4v8.4M264.1 90.9v7" stroke="#000" stroke-width="10.8" stroke-opacity="0.30" stroke-linecap="round" fill="none"/><path d="M221.9 108.2v4.3M252.3 86v10M285.5 89.2v4.3" stroke="#000" stroke-width="10.8" stroke-opacity="0.40" stroke-linecap="round" fill="none"/></g><g filter="url(#b1p5)"><path d="M192.4 25.1v10.3M245.6 12v7.5" stroke="#000" stroke-width="3" stroke-opacity="0.50" stroke-linecap="round" fill="none"/><path d="M104.8 2.8v10.6" stroke="#000" stroke-width="3" stroke-opacity="0.60" stroke-linecap="round" fill="none"/><path d="M57.7 9.2v7.7" stroke="#000" stroke-width="3" stroke-opacity="0.80" stroke-linecap="round" fill="none"/><path d="M236.6 68.9v9M361.4 67.4v9.9M416.5 65.7v10.3M449.4 66.7v9.6M85.2 48.6v7.3M288.2 50.6v10.6M340.3 45.9v9.2M155.3 36v6.3M224.6 29.2v10.7M266.1 25.1v7M446.7 27.5v7.5" stroke="#000" stroke-width="3.6" stroke-opacity="0.50" stroke-linecap="round" fill="none"/><path d="M410.4 92.1v5.4M137.1 65.7v6.4M179.3 73.2v10.4M430.1 76.4v5M216 48.6v6.5M353.8 45v9.2M78.7 29.8v6.1M484 33.4v6.3M416 9.4v6.8" stroke="#000" stroke-width="3.6" stroke-opacity="0.60" stroke-linecap="round" fill="none"/><path d="M110.6 94.2v4.4M208.1 73.6v6.1M153.9 54.6v9.3M268.2 47.7v8.4M64.4 33v11.6M359.2 32.4v11.1M290 8v10.4" stroke="#000" stroke-width="3.6" stroke-opacity="0.70" stroke-linecap="round" fill="none"/><path d="M422.9 102.8v8.7M93.6 92.8v6.5M98.1 70.1v5.2M98 48.8v9.6M376.2 55.3v6.5M52.8 25.8v10.9M413.8 34.4v8.8M141.3 13.9v11.8M169.9 10.1v7.2M256 15.2v8.2M424.3 11.3v11.3" stroke="#000" stroke-width="3.6" stroke-opacity="0.80" stroke-linecap="round" fill="none"/><path d="M440.2 102.9v8.5M126.7 67.2v5.8M471.5 65.9v8.8M205.4 48.3v11.8M241.6 46.4v5.9M311.8 48.7v11.3M479.1 45.2v8.5M105.9 36.2v5.9M310.4 35.7v8M148.6 13.3v11M406 5.9v9.2" stroke="#000" stroke-width="4.2" stroke-opacity="0.50" stroke-linecap="round" fill="none"/><path d="M270.7 99.9v8.5M348.4 103.3v5M481.6 103.3v9.3M137.1 90.5v5.4M178.3 49.4v10.2M418.7 43.6v9.6M443.3 45.1v9.5M212.8 25.6v10.2M279.1 25.7v6.6M299.8 29.5v10.2M336.3 33v11.1M374.3 30.3v11.1M460.2 28.7v9.7M474.5 32.1v8.1M195.8 13v6.6" stroke="#000" stroke-width="4.2" stroke-opacity="0.60" stroke-linecap="round" fill="none"/><path d="M178.1 103.6v8.1M404.8 109.2v8.2M196.6 88.5v6.2M440.6 83.8v8.2M54.9 71.2v9.9M220.9 70v5.4M140.4 56.6v6.5M365.3 46.8v8.1M140 28.9v10M83.8 5.8v9.4M127.6 13.4v9.2M228.8 11.3v10.9M392.9 6.9v8.7M434.4 2.8v11.6M448.1 15.9v6.1M480.4 5.7v12.4" stroke="#000" stroke-width="4.2" stroke-opacity="0.70" stroke-linecap="round" fill="none"/><path d="M76.2 111v4.6M486.4 83.4v6M278.1 66.2v9.1M234.4 50.8v7.7M390.7 52.5v6.2M399.7 47.1v8.9M427.8 48.4v7.5M113.4 22v12M177.1 30.8v7.4M236.9 31v5.4M69.6 10.7v9.4M207.5 7.7v13M369.2 13v11.7M377.2 3.9v13" stroke="#000" stroke-width="4.2" stroke-opacity="0.80" stroke-linecap="round" fill="none"/><path d="M146.9 91.1v5M209.7 86.9v8.5M365.6 92.4v4.6M401.7 87.3v3.6M86.2 71v7M111.5 72.3v9.7M192.2 64.1v10.1M490.7 74.1v5M50.8 47.6v11.1M299.1 49.6v9.5M129.4 29.5v9.8M250.6 32.5v11.7M390.1 27.1v11.4M421.7 24.8v8.7M300.7 14.5v6.8" stroke="#000" stroke-width="4.8" stroke-opacity="0.50" stroke-linecap="round" fill="none"/><path d="M101.8 107.8v5.8M211.1 110.7v7.4M289.7 108.7v5.9M357.6 108.8v3.6M52 84.7v4.6M120 87v5.3M328.4 88.2v4.6M374.2 72.5v5.2M320.7 44.7v8.5M451.9 47.2v6.3M465.3 49.9v4.8M289.5 27.2v8.2M324.8 25.9v5.3M273.9 1.9v11" stroke="#000" stroke-width="4.8" stroke-opacity="0.60" stroke-linecap="round" fill="none"/><path d="M165.6 107.4v8M257.4 104.4v4.5M241.8 84v7.7M293.9 90.7v4M352.8 89.3v5.6M382.9 84.3v4.4M247.3 65.3v6.8M291.2 71.2v8.7M58.4 50v8.9M111.5 46.7v10.5M94.8 30.4v10.9M347.1 36.9v6.5" stroke="#000" stroke-width="4.8" stroke-opacity="0.70" stroke-linecap="round" fill="none"/><path d="M302 102.8v4.6M312.9 105v6.2M80.2 94.8v3.5M170.3 68v4.3M319.8 66.7v4.7M337.5 69.7v10.1M351.6 63.3v8.1M130.4 48.8v6.1M434.7 30.6v8.9M92.8 6.2v6.1M473 3.6v11.7" stroke="#000" stroke-width="4.8" stroke-opacity="0.80" stroke-linecap="round" fill="none"/><path d="M116.8 108.8v5.1M147 101.6v6.9M335.5 109.3v3M61.2 85.1v4.5M222.3 93.4v6.6M461 65.9v6.3" stroke="#000" stroke-width="5.4" stroke-opacity="0.60" stroke-linecap="round" fill="none"/><path d="M52.9 101.7v5.4M240.5 103.4v4.8M451.9 107v5.8M180.4 89.9v7.4M264.1 91.4v6M472.4 90.6v4.6" stroke="#000" stroke-width="5.4" stroke-opacity="0.70" stroke-linecap="round" fill="none"/><path d="M86.2 108.4v3.8M221.9 108.7v3.3M252.3 86.5v9M285.5 89.7v3.3" stroke="#000" stroke-width="5.4" stroke-opacity="0.80" stroke-linecap="round" fill="none"/></g><g filter="url(#b3)"><path d="M250.2 173.8v4.4M446.5 156.3v6.7M90.1 142v4.4M228.6 141.9v3.7M258.8 143.7v4.4" stroke="#000" stroke-width="9.6" stroke-opacity="0.20" stroke-linecap="round" fill="none"/><path d="M64.1 118.8v6.4M288.1 128.1v5.2M451 124.2v5.5" stroke="#000" stroke-width="9.6" stroke-opacity="0.30" stroke-linecap="round" fill="none"/><path d="M128.5 186.8v3.3M188.6 152.6v3.2M243.2 160.3v6" stroke="#000" stroke-width="9.6" stroke-opacity="0.40" stroke-linecap="round" fill="none"/><path d="M216.4 264.8v0M332.7 268.5v0M373.7 264.9v0.3M474.6 266.2v0M66.1 243.8v2M354.7 241.6v0.1M61.8 231.1v0.9M77.4 226.2v1.6M304.4 230.2v1.9M440 213.6v1.9M190.7 198.7v4.8M322 198.9v2.4M342.7 200.1v3.7M460.8 206v0.5M203.2 187.3v3.9M148 171.9v2.5M372.7 167.8v4.6M162.1 126v2.9M240.3 126.1v5.1M464.2 122v5.6M477.5 129.6v2.6" stroke="#000" stroke-width="10.8" stroke-opacity="0.20" stroke-linecap="round" fill="none"/><path d="M69.7 267.1v1.9M387.1 264.4v0.1M408.4 263.3v0.8M123.6 254.9v0.5M146.6 255.2v0.4M207 254.8v0M246.3 252v0.7M47.8 243.4v0M279.9 238.6v0.8M383.3 242.7v0.4M424 240.7v1.7M160 230.7v0.8M221.1 231.2v0.6M233.1 228.6v0.6M321 225.2v0.5M418.8 226.9v3.1M440.7 229.4v0.3M87.4 209.9v4.1M161.1 216.7v0.7M199.6 217v3M264.5 215.5v2M301 217v3.9M398.2 211v2.9M63.7 205v1.8M95.5 201.1v3.2M231 198.4v4M284.8 201.8v0.5M52.2 183.7v2.2M69.1 187.9v2.1M84 183.5v3.9M104.3 190.8v2.1M145.1 182.5v3.6M163.7 186v3.1M175.9 190.9v2.1M308.9 184.7v2.8M387.2 186.9v3.4M436.5 186.4v2.2M267.8 176v2.2M448.8 175.4v2.5M468.5 173.8v1.4M489.2 171.6v3.2M153.9 155.6v4.2M218 153.5v3.8M256.3 159.2v1.9M275.3 155.7v5.1M295.6 159.9v3.4M307.1 159.8v2.4M329.9 159.8v3.4M345.1 154.8v1.9M483.1 152.8v3M64.6 141.8v2.9M110.1 139.4v5.8M156.2 142.7v3.3M239.7 144.3v6.4M276.9 141.4v5.2M296.1 139.5v5M325.6 136.2v3.5M357.2 138.8v6.8M370.3 140.1v5.4M422.6 136.6v4.4M52.6 121.6v3.1M116.9 119.8v3.2M133.8 120.2v6.9M175.6 121.8v5.9M214.1 118v8.3M273.6 121.7v4.2M336.9 121.9v5.1M385.8 119.4v3.7M398 122.4v6.9M419.9 122.5v4.7" stroke="#000" stroke-width="10.8" stroke-opacity="0.30" stroke-linecap="round" fill="none"/><path d="M64.6 249.5v1.2M349.4 253.5v0.1M95.3 240.4v2.5M135.5 241.9v1.7M230.5 244.1v1.6M177.4 227.6v0.6M413.1 215.7v1.8M244.3 200.4v4.6M386.5 200.8v2.8M438.3 205.4v2M480.5 202.5v2.7M325.9 185.3v2M346.8 190.4v2.6M369.3 189.4v3M59.3 172.1v1.9M76.9 172.7v3.3M288.4 167.4v5.8M306.6 169.6v4.1M140.3 143.9v6.1M193.8 137.7v3.2M387.8 140.1v5.3M191.9 126.6v5.8M320.8 124.5v5.6" stroke="#000" stroke-width="10.8" stroke-opacity="0.40" stroke-linecap="round" fill="none"/><path d="M197.7 262.4v0.8M166.5 251.8v0.6M371.1 255.5v0M169.2 242.4v0M216.4 241.7v1.1M110.4 214.9v2.9M279.4 215.1v0M176.6 199.3v3.8M206.7 203.3v0M305.5 205.4v0.4M267.5 183.2v2.7M290.2 185v3.6M184.7 176.7v1.3M416.9 177.3v0.9M342.9 144.9v2.5M83.6 119.4v5.4M94.7 119.5v3.7M433 120.5v2.3" stroke="#000" stroke-width="12" stroke-opacity="0.20" stroke-linecap="round" fill="none"/><path d="M88.6 266.9v0M132.7 261.8v0M150.6 266.2v0.1M261.7 268.1v0M280.5 266.3v1M430.6 266.7v0M97.5 254.1v0M184.7 256.7v0M292.1 250.4v0M311 255v0.4M394.5 255.2v0.4M481.2 253.6v0M109.4 241.4v0M195.3 238.2v0M253.6 244.9v0.3M302.5 242.2v0.2M313.1 244.4v0M335.4 245.1v0M104.6 231.8v1.9M194.1 230.3v0M360.4 229.9v0M458.9 232.4v0.4M483.9 230.3v2.7M127.9 218.2v2.4M248.7 217v2.6M317.3 210.8v2.3M359.3 215.9v0.1M475.7 216.2v2.2M76.4 199.1v0M413.4 204.2v2.3M234.1 188.3v3.2M406.1 187.5v1.9M422.5 190.7v1.2M475.9 188v1M110.1 175.7v0.9M321.3 177v1.7M341.2 172.5v4.8M435.9 170.1v4M357.6 158.2v2.3M408.3 154.4v2.7M427.1 156v3.4M458 142.9v3.9" stroke="#000" stroke-width="12" stroke-opacity="0.30" stroke-linecap="round" fill="none"/><path d="M461.4 251.6v1.1M154.2 241.9v0.5M440.5 240.3v0M117.9 225.9v1.4M144.5 229.7v0M283.5 230.4v0M54.1 216.7v0M64.7 211.7v3.1M149.2 212.4v1.3M339.3 218.4v0.9M380.2 217.7v0M257.3 191.1v2.5M200.4 175.7v3M233.4 168.6v2.1M357.9 175.9v0.6M467.6 152.9v2.5M313 142.7v5.4M407.9 145.6v2.5M472 136.2v6.6" stroke="#000" stroke-width="12" stroke-opacity="0.40" stroke-linecap="round" fill="none"/><path d="M84.1 252.2v0.2" stroke="#000" stroke-width="13.2" stroke-opacity="0.20" stroke-linecap="round" fill="none"/><path d="M43.3 267v0M304.2 267.6v0M417.6 251.2v0" stroke="#000" stroke-width="13.2" stroke-opacity="0.30" stroke-linecap="round" fill="none"/><path d="M239.4 265.5v0" stroke="#000" stroke-width="13.2" stroke-opacity="0.40" stroke-linecap="round" fill="none"/></g><g filter="url(#b1p5)"><path d="M64.1 118.8v6.4" stroke="#000" stroke-width="3.6" stroke-opacity="0.60" stroke-linecap="round" fill="none"/><path d="M61.8 231.1v0.9M372.7 167.8v4.6M446.5 156.3v6.7M90.1 142v4.4M228.6 141.9v3.7M258.8 143.7v4.4M162.1 126v2.9" stroke="#000" stroke-width="4.2" stroke-opacity="0.50" stroke-linecap="round" fill="none"/><path d="M264.5 215.5v2M387.2 186.9v3.4M250.2 173.8v4.4M489.2 171.6v3.2M295.6 159.9v3.4M329.9 159.8v3.4M239.7 144.3v6.4" stroke="#000" stroke-width="4.2" stroke-opacity="0.60" stroke-linecap="round" fill="none"/><path d="M87.4 209.9v4.1M84 183.5v3.9M483.1 152.8v3M325.6 136.2v3.5M370.3 140.1v5.4M214.1 118v8.3M273.6 121.7v4.2M288.1 128.1v5.2M398 122.4v6.9M451 124.2v5.5" stroke="#000" stroke-width="4.2" stroke-opacity="0.70" stroke-linecap="round" fill="none"/><path d="M244.3 200.4v4.6M438.3 205.4v2M128.5 186.8v3.3M325.9 185.3v2M346.8 190.4v2.6M288.4 167.4v5.8M188.6 152.6v3.2M243.2 160.3v6M320.8 124.5v5.6" stroke="#000" stroke-width="4.2" stroke-opacity="0.80" stroke-linecap="round" fill="none"/><path d="M216.4 264.8v0M373.7 264.9v0.3M474.6 266.2v0M66.1 243.8v2M77.4 226.2v1.6M440 213.6v1.9M190.7 198.7v4.8M322 198.9v2.4M203.2 187.3v3.9M240.3 126.1v5.1M477.5 129.6v2.6" stroke="#000" stroke-width="4.8" stroke-opacity="0.50" stroke-linecap="round" fill="none"/><path d="M387.1 264.4v0.1M123.6 254.9v0.5M146.6 255.2v0.4M383.3 242.7v0.4M221.1 231.2v0.6M321 225.2v0.5M161.1 216.7v0.7M104.3 190.8v2.1M145.1 182.5v3.6M308.9 184.7v2.8M267.8 176v2.2M468.5 173.8v1.4M275.3 155.7v5.1M64.6 141.8v2.9M276.9 141.4v5.2M296.1 139.5v5" stroke="#000" stroke-width="4.8" stroke-opacity="0.60" stroke-linecap="round" fill="none"/><path d="M246.3 252v0.7M279.9 238.6v0.8M418.8 226.9v3.1M301 217v3.9M63.7 205v1.8M95.5 201.1v3.2M231 198.4v4M52.2 183.7v2.2M163.7 186v3.1M110.1 139.4v5.8M357.2 138.8v6.8M422.6 136.6v4.4M116.9 119.8v3.2" stroke="#000" stroke-width="4.8" stroke-opacity="0.70" stroke-linecap="round" fill="none"/><path d="M69.7 267.1v1.9M95.3 240.4v2.5M413.1 215.7v1.8M386.5 200.8v2.8M175.9 190.9v2.1M369.3 189.4v3M59.3 172.1v1.9M256.3 159.2v1.9M345.1 154.8v1.9M140.3 143.9v6.1M156.2 142.7v3.3M193.8 137.7v3.2M387.8 140.1v5.3M191.9 126.6v5.8M385.8 119.4v3.7" stroke="#000" stroke-width="4.8" stroke-opacity="0.80" stroke-linecap="round" fill="none"/><path d="M197.7 262.4v0.8M332.7 268.5v0M354.7 241.6v0.1M304.4 230.2v1.9M110.4 214.9v2.9M305.5 205.4v0.4M342.7 200.1v3.7M267.5 183.2v2.7M148 171.9v2.5M416.9 177.3v0.9M83.6 119.4v5.4M94.7 119.5v3.7M433 120.5v2.3M464.2 122v5.6" stroke="#000" stroke-width="5.4" stroke-opacity="0.50" stroke-linecap="round" fill="none"/><path d="M97.5 254.1v0M184.7 256.7v0M207 254.8v0M253.6 244.9v0.3M424 240.7v1.7M127.9 218.2v2.4M460.8 206v0.5M69.1 187.9v2.1M422.5 190.7v1.2M110.1 175.7v0.9M448.8 175.4v2.5M458 142.9v3.9M419.9 122.5v4.7" stroke="#000" stroke-width="5.4" stroke-opacity="0.60" stroke-linecap="round" fill="none"/><path d="M280.5 266.3v1M408.4 263.3v0.8M394.5 255.2v0.4M47.8 243.4v0M160 230.7v0.8M233.1 228.6v0.6M440.7 229.4v0.3M483.9 230.3v2.7M199.6 217v3M248.7 217v2.6M398.2 211v2.9M436.5 186.4v2.2M341.2 172.5v4.8M153.9 155.6v4.2M218 153.5v3.8M307.1 159.8v2.4M133.8 120.2v6.9M175.6 121.8v5.9M336.9 121.9v5.1" stroke="#000" stroke-width="5.4" stroke-opacity="0.70" stroke-linecap="round" fill="none"/><path d="M64.6 249.5v1.2M349.4 253.5v0.1M135.5 241.9v1.7M230.5 244.1v1.6M104.6 231.8v1.9M177.4 227.6v0.6M64.7 211.7v3.1M339.3 218.4v0.9M284.8 201.8v0.5M480.5 202.5v2.7M257.3 191.1v2.5M406.1 187.5v1.9M76.9 172.7v3.3M200.4 175.7v3M233.4 168.6v2.1M306.6 169.6v4.1M408.3 154.4v2.7M427.1 156v3.4M407.9 145.6v2.5M472 136.2v6.6M52.6 121.6v3.1" stroke="#000" stroke-width="5.4" stroke-opacity="0.80" stroke-linecap="round" fill="none"/><path d="M166.5 251.8v0.6M371.1 255.5v0M169.2 242.4v0M279.4 215.1v0M176.6 199.3v3.8M206.7 203.3v0M290.2 185v3.6M184.7 176.7v1.3M342.9 144.9v2.5" stroke="#000" stroke-width="6" stroke-opacity="0.50" stroke-linecap="round" fill="none"/><path d="M88.6 266.9v0M132.7 261.8v0M261.7 268.1v0M430.6 266.7v0M481.2 253.6v0M317.3 210.8v2.3M357.6 158.2v2.3" stroke="#000" stroke-width="6" stroke-opacity="0.60" stroke-linecap="round" fill="none"/><path d="M150.6 266.2v0.1M292.1 250.4v0M109.4 241.4v0M335.4 245.1v0M194.1 230.3v0M360.4 229.9v0M458.9 232.4v0.4M475.7 216.2v2.2M76.4 199.1v0M413.4 204.2v2.3M234.1 188.3v3.2M475.9 188v1M435.9 170.1v4" stroke="#000" stroke-width="6" stroke-opacity="0.70" stroke-linecap="round" fill="none"/><path d="M461.4 251.6v1.1M154.2 241.9v0.5M302.5 242.2v0.2M440.5 240.3v0M117.9 225.9v1.4M144.5 229.7v0M283.5 230.4v0M54.1 216.7v0M149.2 212.4v1.3M380.2 217.7v0M321.3 177v1.7M357.9 175.9v0.6M467.6 152.9v2.5M313 142.7v5.4" stroke="#000" stroke-width="6" stroke-opacity="0.80" stroke-linecap="round" fill="none"/><path d="M84.1 252.2v0.2M216.4 241.7v1.1" stroke="#000" stroke-width="6.6" stroke-opacity="0.50" stroke-linecap="round" fill="none"/><path d="M43.3 267v0M311 255v0.4M417.6 251.2v0M313.1 244.4v0" stroke="#000" stroke-width="6.6" stroke-opacity="0.60" stroke-linecap="round" fill="none"/><path d="M195.3 238.2v0M359.3 215.9v0.1" stroke="#000" stroke-width="6.6" stroke-opacity="0.70" stroke-linecap="round" fill="none"/><path d="M239.4 265.5v0M304.2 267.6v0" stroke="#000" stroke-width="6.6" stroke-opacity="0.80" stroke-linecap="round" fill="none"/></g><g filter="url(#b5)" fill="none" stroke-linecap="butt"><path d="M56 172.2L56.3 170.4M56.2 170.8L56.5 168.6M56.4 169.1L56.8 166.5M56.7 167.1L57.2 164.1M57.1 164.8L57.6 161.6M57.5 162.3L58 158.9M57.9 159.7L58.4 156.1M58.3 156.9L58.8 153.2M58.7 154L59.3 150.3M59.2 151.2L59.7 147.5M59.6 148.3L60.2 144.7M60.1 145.5L60.6 142.1M60.5 142.9L61.1 139.6M60.9 140.4L61.5 137M61.4 137.8L62 134.5M61.8 135.2L62.5 131.9M62.3 132.6L62.9 129.3M62.8 130.1L63.4 126.8M63.3 127.5L63.9 124.2M63.7 125L64.4 121.7M64.2 122.5L64.9 119.3M64.7 120L65.4 116.8M65.3 117.5L66 114.4M65.8 115.1L66.5 112M66.3 112.7L67.1 109.6M66.9 110.4L67.8 107.1M67.6 107.8L68.5 104.5M68.2 105.3L69.2 101.9M69 102.7L69.9 99.4M69.7 100.1L70.7 96.9M70.5 97.6L71.4 94.4M71.2 95.1L72.2 92M72 92.7L73 89.8M72.7 90.4L73.7 87.6M73.5 88.2L74.4 85.6M74.2 86.2L75.1 83.7M74.8 84.5L76.4 80.3M76.1 81.2L77.6 77.4M77.3 78.2L78.8 74.9M78.5 75.6L79.9 72.7M79.6 73.3L81 71M80.7 71.5L81.9 69.8M81.5 70L84.3 70.2M83.7 69.9L86.3 72.3M85.6 72.1L88.9 70.9M88.1 71.1L91.4 71M90.8 70.8L92.2 72.7M91.9 72.1L93.3 75M93 74.3L94.2 77.7M93.9 76.9L95.1 80.4M94.9 79.7L95.8 82.4M95.6 81.8L96.5 84.5M96.3 83.8L97.1 86.8M96.9 86.1L97.8 89.4M97.6 88.6L98.5 92.4M98.3 91.7L99 94.5M98.8 93.8L99.5 96.9M99.3 96.1L100 99.4M99.8 98.7L100.5 102.1M100.3 101.3L101 104.8M100.9 104L101.5 107.6M101.4 106.8L102.1 110.3M101.9 109.5L102.6 112.9M102.4 112.1L103.1 115.5M102.9 114.7L103.5 118.2M103.4 117.4L104 120.8M103.9 120L104.5 123.5M104.3 122.7L105 126.1M104.8 125.4L105.5 128.7M105.3 127.9L106.1 131.1M105.9 130.4L106.7 133.3M106.5 132.6L107.7 136.4M107.4 135.5L108.7 139.2M108.4 138.4L109.9 141.8M109.5 141.1L111 144.2M110.6 143.6L112 146.3M111.7 145.7L112.9 148M112.5 147.3L115.4 150.9M114.7 150.4L117.3 150.8M116.7 151.1L119.3 148.9M118.7 149.6L121.3 145.5M120.8 146.2L122.2 144.2M121.9 144.7L123.2 142.4M122.9 143L124.2 140.2M123.9 141L125.5 136.9M125.2 137.7L126 135.4M125.8 135.9L126.6 133.4M126.4 134L127.3 131.1M127.1 131.8L128 128.8M127.8 129.5L128.7 126.3M128.5 127.1L129.5 123.8M129.3 124.6L130.2 121.3M130 122.1L130.9 118.8M130.7 119.5L131.6 116.3M131.4 117.1L132.3 113.8M132.1 114.6L133 111.2M132.8 112L133.8 108.5M133.5 109.3L134.5 105.8M134.3 106.7L135.2 103.2M135 104L135.9 100.6M135.7 101.3L136.6 98.1M136.4 98.8L137.2 95.7M137 96.4L137.8 93.6M137.6 94.4L138.7 90.4M138.4 91.3L139.4 87.6M139.2 88.4L140.1 85M139.9 85.8L140.8 82.7M140.6 83.4L141.3 80.8M141.2 81.3L141.9 79.3M141.5 79.8L144.2 77.1M143.6 77.3L146.1 77.8M145.5 77.6L148.3 79.2M147.7 78.7L150.4 81.2M149.8 80.5L152.4 84M152 83.3L153 85.8M152.8 85.2L153.7 88M153.5 87.4L154.4 90.3M154.2 89.7L155.1 92.3M154.8 91.7L156.2 94.4M155.9 93.8L157.3 96.1M156.9 95.5L158.5 98.4M158.1 97.8L159.5 100.5M159.1 99.9L160.6 102.9M160.2 102.1L161.6 105.6M161.3 104.7L162.7 108.9M162.4 108.1L163.1 111M163 110.2L163.7 113.6M163.5 112.8L164.2 116.4M164 115.6L164.7 119.2M164.5 118.4L165.2 121.9M165 121.1L165.6 124.3M165.5 123.7L166.1 126.3M165.9 125.5L167.1 129.7M166.8 128.9L167.9 131.6M167.6 131L168.8 133.5M168.5 132.9L169.9 135.7M169.6 135.1L171.1 137.7M170.7 137.1L172.2 139.2M171.8 138.7L173.6 141.1M173.2 140.7L175.1 141.6M174.6 141.7L177.2 140M176.5 140.5L179.3 137.7M178.8 138.2L180.5 136.6M180.1 137L181.8 135.2M181.4 135.7L183.4 132.9M183.1 133.5L184.3 131.3M184 131.8L185.4 129.2M185.1 129.8L186.5 126.9M186.2 127.6L187.7 124.6M187.3 125.2L188.7 122.4M188.4 123L189.5 120.5M189.3 121.1L190.5 118.2M190.2 118.8L191.1 116.4M190.9 116.9L191.8 114.5M191.5 115.1L192.6 112.2M192.4 112.8L193.5 109.9M193.2 110.6L194.4 107.5M194.1 108.2L195.4 104.9M195.1 105.6L196.5 102.3M196.2 103L197.8 99.7M197.4 100.4L199 97.6M198.6 98.3L200.4 95.2M200 95.9L201.9 92.9M201.5 93.6L203.4 90.7M203 91.3L204.8 88.9M204.4 89.4L206.1 87.5M205.5 88L208.6 85.7M207.9 86L210.7 85.3M210.1 85.3L212.4 85.7M211.9 85.5L213.6 87.2M213.3 86.7L214.6 89.6M214.3 88.8L215.3 92.3M215.2 91.6L215.6 94.4M215.5 93.7L215.6 96.8M215.6 96L215.8 99.5M215.7 98.7L216.4 102.7M216.2 101.9L216.9 104.5M216.8 103.9L217.7 106.8M217.4 106.1L218.5 109.3M218.2 108.5L219.4 111.7M219.1 111L220.3 114.1M220 113.4L221.2 116.3M220.9 115.7L222.1 118.3M221.8 117.6L223.6 120.8M223.2 120.1L225.1 123M224.7 122.4L226.7 124.9M226.2 124.4L228.1 126.7M227.7 126.2L229.2 128.2M228.8 127.5L230.7 131.9M230.3 131.1L232 133.5M231.4 133.3L234.6 132.6M233.8 132.9L237.4 130.7M236.7 131.1L239.2 129.9M238.6 130.2L241.2 128.7M240.5 129.1L243.4 126.7M242.9 127.2L244.9 125.2M244.4 125.7L246.6 123.3M246 123.9L248.3 121.1M247.8 121.8L250 118.8M249.5 119.5L251.6 116.3M251.2 117L252.9 114.1M252.5 114.8L254.2 111.6M253.8 112.3L255.4 108.9M255.1 109.7L256.6 106.3M256.3 107.1L257.8 103.9M257.5 104.6L258.9 101.9M258.5 102.6L260.4 99M260 99.8L261.6 96.6M261.3 97.3L262.8 94.8M262.5 95.3L264 93.7M263.5 93.9L266.2 94.2M265.6 93.9L268.3 96.3M267.8 95.8L269.8 97.3M269.3 96.9L271.5 98.6M271 98.2L273.3 100.2M272.7 99.7L275 102.2M274.5 101.6L276.8 104.4M276.3 103.8L278.6 106.6M278.1 106L280.1 108.8M279.6 108.1L281.6 111M281.1 110.3L283.2 113.3M282.8 112.7L284.6 115.1M284.1 114.6L286 117.1M285.6 116.5L287.5 119.1M287.1 118.5L288.9 121.1M288.5 120.5L290.2 123.5M289.8 122.7L291.5 126M291.1 125.3L292.7 128.1M292.3 127.6L294.1 129.3M293.6 129.1L296.2 129M295.6 129.2L298.2 127.4M297.6 127.9L300.3 125.8M299.7 126.2L302.4 124.3M301.8 124.7L304.6 122.5M303.9 123L306.6 120.5M306.1 121L308 118.9M307.6 119.4L309.5 117.2M309 117.7L310.9 115.4M310.5 115.9L312.2 113.8M311.8 114.3L313.8 111.8M313.4 112.3L315.3 110M314.8 110.6L316.8 108.1M316.3 108.7L318.7 105.9M318.1 106.6L320.6 103.6M320 104.3L322.3 101.7M321.8 102.4L323.9 98.9M323.3 99.5L326.2 97.9M325.7 98L327.8 98.7M327.2 98.5L329.8 99.8M329.2 99.4L332.1 101.1M331.4 100.7L334.3 102.7M333.6 102.2L336.3 104.2M335.7 103.7L338.3 105.9M337.7 105.4L340.3 107.9M339.7 107.3L342.3 109.9M341.7 109.4L343.9 111.8M343.5 111.3L345.2 113.2M344.8 112.7L346.3 115.3M346 114.8L346.7 117M346.4 116.4L347.8 118.9M347.5 118.3L349.2 121.2M348.7 120.5L351 123.2M350.5 122.7L352.5 124.6M352 124.2L354.4 126.2M353.9 125.8L356.4 127.4M355.8 127.1L358.3 128.1M357.6 128L360.9 127.9M360.2 128L363.4 126.9M362.7 127.2L365.3 125.8M364.8 126.1L366.4 125M366 125.4L367.5 122.6M367.2 123.1L368.2 121.1M368 121.6L369.2 119M368.9 119.6L370.3 116.7M370 117.4L371.5 114.3M371.1 115L372.6 112.1M372.3 112.7L373.7 110.2M373.3 110.9L375.3 107.6M374.8 108.3L376.8 105.2M376.4 105.9L378.4 103.3M377.9 103.8L379.9 102M379.4 102.3L382.1 101.4M381.5 101.5L384.2 101.7M383.6 101.6L386.3 102.1M385.5 101.9L389.5 102.5M388.6 102.3L392.6 103.3M391.8 103.1L394.5 104.2M393.9 103.9L396.7 105.3M396 105L398.6 106.5M397.9 106L401.1 108.2M400.4 107.7L403.3 110.3M402.8 109.7L404.7 112.1M404.3 111.5L406.3 114.3M405.7 113.7L408.3 116.3M407.7 115.8L410.5 117.6M409.7 117.2L413.1 119M412.3 118.6L415.5 120.2M414.9 119.8L417.3 121.2M416.7 120.7L419.3 123.2M418.7 122.9L421.1 122.7M420.5 122.9L423.3 121.9M422.7 122.2L425.3 120.7M424.7 121.2L427.6 118.5M427.1 119.1L428.9 116.8M428.4 117.4L430.4 114.5M429.9 115.2L432 112.2M431.5 112.9L433.8 110.2M433.2 110.8L435.7 108.4M435.1 108.9L437.9 106.6M437.3 107.1L440.1 105.2M439.4 105.5L442 104.1M441.4 104.4L444.2 103.6M443.6 103.7L446.1 103.7M445.5 103.6L448.3 104M447.6 103.9L451.1 104.6M450.3 104.4L454.1 105.5M453.3 105.2L456.6 106.4M455.8 106L459.1 108.3M458.4 107.7L461.3 110.3M460.7 109.8L463 111.7M462.4 111.2L464.8 113.3M464.2 112.8L466.9 114.8M466.3 114.4L468.7 115.9M468.2 115.6L470.8 117.1M470.2 116.8L473 118.1M472.4 117.8L475.1 118.9M474.3 118.7L478.3 119.6M477.4 119.4L481.3 119.8M480.6 119.8L483.3 120" stroke="#fff" stroke-width="25" stroke-opacity="0.20"/></g><g filter="url(#b3)" fill="none" stroke-linecap="butt"><path d="M57.9 159.7L58.4 156.1M58.3 156.9L58.8 153.2M58.7 154L59.3 150.3M59.2 151.2L59.7 147.5M59.6 148.3L60.2 144.7M60.1 145.5L60.6 142.1M60.5 142.9L61.1 139.6M60.9 140.4L61.5 137M61.4 137.8L62 134.5M61.8 135.2L62.5 131.9M62.3 132.6L62.9 129.3M220 113.4L221.2 116.3M221.8 117.6L223.6 120.8M331.4 100.7L334.3 102.7M337.7 105.4L340.3 107.9M355.8 127.1L358.3 128.1M357.6 128L360.9 127.9M405.7 113.7L408.3 116.3M407.7 115.8L410.5 117.6" stroke="#fff" stroke-width="14.5" stroke-opacity="0.04"/><path d="M62.8 130.1L63.4 126.8M63.3 127.5L63.9 124.2M63.7 125L64.4 121.7M64.2 122.5L64.9 119.3M64.7 120L65.4 116.8M65.3 117.5L66 114.4M65.8 115.1L66.5 112M66.3 112.7L67.1 109.6M66.9 110.4L67.8 107.1M219.1 111L220.3 114.1M223.2 120.1L225.1 123M329.2 99.4L332.1 101.1M339.7 107.3L342.3 109.9M360.2 128L363.4 126.9M404.3 111.5L406.3 114.3" stroke="#fff" stroke-width="14.5" stroke-opacity="0.08"/><path d="M67.6 107.8L68.5 104.5M68.2 105.3L69.2 101.9M69 102.7L69.9 99.4M69.7 100.1L70.7 96.9M70.5 97.6L71.4 94.4M218.2 108.5L219.4 111.7M327.2 98.5L329.8 99.8M341.7 109.4L343.9 111.8M353.9 125.8L356.4 127.4M402.8 109.7L404.7 112.1" stroke="#fff" stroke-width="14.5" stroke-opacity="0.12"/><path d="M71.2 95.1L72.2 92M72 92.7L73 89.8M72.7 90.4L73.7 87.6M73.5 88.2L74.4 85.6M74.2 86.2L75.1 83.7M161.3 104.7L162.7 108.9M162.4 108.1L163.1 111M163 110.2L163.7 113.6M163.5 112.8L164.2 116.4M164 115.6L164.7 119.2M164.5 118.4L165.2 121.9M165 121.1L165.6 124.3M165.5 123.7L166.1 126.3M216.8 103.9L217.7 106.8M217.4 106.1L218.5 109.3M224.7 122.4L226.7 124.9M325.7 98L327.8 98.7M343.5 111.3L345.2 113.2M352 124.2L354.4 126.2M362.7 127.2L365.3 125.8M409.7 117.2L413.1 119" stroke="#fff" stroke-width="14.5" stroke-opacity="0.16"/><path d="M74.8 84.5L76.4 80.3M100.9 104L101.5 107.6M101.4 106.8L102.1 110.3M101.9 109.5L102.6 112.9M102.4 112.1L103.1 115.5M102.9 114.7L103.5 118.2M103.4 117.4L104 120.8M103.9 120L104.5 123.5M104.3 122.7L105 126.1M104.8 125.4L105.5 128.7M105.3 127.9L106.1 131.1M128.5 127.1L129.5 123.8M129.3 124.6L130.2 121.3M130 122.1L130.9 118.8M130.7 119.5L131.6 116.3M131.4 117.1L132.3 113.8M132.1 114.6L133 111.2M132.8 112L133.8 108.5M133.5 109.3L134.5 105.8M165.9 125.5L167.1 129.7M216.2 101.9L216.9 104.5M226.2 124.4L228.1 126.7M323.3 99.5L326.2 97.9M344.8 112.7L346.3 115.3M364.8 126.1L366.4 125" stroke="#fff" stroke-width="14.5" stroke-opacity="0.20"/><path d="M76.1 81.2L77.6 77.4M99.8 98.7L100.5 102.1M100.3 101.3L101 104.8M105.9 130.4L106.7 133.3M106.5 132.6L107.7 136.4M125.8 135.9L126.6 133.4M126.4 134L127.3 131.1M127.1 131.8L128 128.8M127.8 129.5L128.7 126.3M134.3 106.7L135.2 103.2M135 104L135.9 100.6M135.7 101.3L136.6 98.1M136.4 98.8L137.2 95.7M160.2 102.1L161.6 105.6M350.5 122.7L352.5 124.6M400.4 107.7L403.3 110.3" stroke="#fff" stroke-width="14.5" stroke-opacity="0.24"/><path d="M77.3 78.2L78.8 74.9M98.3 91.7L99 94.5M98.8 93.8L99.5 96.9M99.3 96.1L100 99.4M107.4 135.5L108.7 139.2M123.9 141L125.5 136.9M125.2 137.7L126 135.4M137 96.4L137.8 93.6M137.6 94.4L138.7 90.4M159.1 99.9L160.6 102.9M215.7 98.7L216.4 102.7M227.7 126.2L229.2 128.2M321.8 102.4L323.9 98.9M346 114.8L346.7 117M346.4 116.4L347.8 118.9M347.5 118.3L349.2 121.2M348.7 120.5L351 123.2M366 125.4L367.5 122.6M412.3 118.6L415.5 120.2" stroke="#fff" stroke-width="14.5" stroke-opacity="0.28"/><path d="M97.6 88.6L98.5 92.4M108.4 138.4L109.9 141.8M138.4 91.3L139.4 87.6M166.8 128.9L167.9 131.6M178.8 138.2L180.5 136.6M180.1 137L181.8 135.2M181.4 135.7L183.4 132.9M183.1 133.5L184.3 131.3M297.6 127.9L300.3 125.8M299.7 126.2L302.4 124.3M320 104.3L322.3 101.7M367.2 123.1L368.2 121.1M368 121.6L369.2 119M368.9 119.6L370.3 116.7" stroke="#fff" stroke-width="14.5" stroke-opacity="0.32"/><path d="M78.5 75.6L79.9 72.7M79.6 73.3L81 71M80.7 71.5L81.9 69.8M81.5 70L84.3 70.2M83.7 69.9L86.3 72.3M85.6 72.1L88.9 70.9M88.1 71.1L91.4 71M90.8 70.8L92.2 72.7M91.9 72.1L93.3 75M93 74.3L94.2 77.7M93.9 76.9L95.1 80.4M94.9 79.7L95.8 82.4M95.6 81.8L96.5 84.5M96.3 83.8L97.1 86.8M96.9 86.1L97.8 89.4M109.5 141.1L111 144.2M110.6 143.6L112 146.3M111.7 145.7L112.9 148M112.5 147.3L115.4 150.9M114.7 150.4L117.3 150.8M116.7 151.1L119.3 148.9M118.7 149.6L121.3 145.5M120.8 146.2L122.2 144.2M121.9 144.7L123.2 142.4M122.9 143L124.2 140.2M139.2 88.4L140.1 85M139.9 85.8L140.8 82.7M140.6 83.4L141.3 80.8M141.2 81.3L141.9 79.3M141.5 79.8L144.2 77.1M143.6 77.3L146.1 77.8M145.5 77.6L148.3 79.2M147.7 78.7L150.4 81.2M149.8 80.5L152.4 84M152 83.3L153 85.8M152.8 85.2L153.7 88M153.5 87.4L154.4 90.3M154.2 89.7L155.1 92.3M154.8 91.7L156.2 94.4M155.9 93.8L157.3 96.1M156.9 95.5L158.5 98.4M158.1 97.8L159.5 100.5M167.6 131L168.8 133.5M168.5 132.9L169.9 135.7M169.6 135.1L171.1 137.7M170.7 137.1L172.2 139.2M171.8 138.7L173.6 141.1M173.2 140.7L175.1 141.6M174.6 141.7L177.2 140M176.5 140.5L179.3 137.7M184 131.8L185.4 129.2M185.1 129.8L186.5 126.9M186.2 127.6L187.7 124.6M187.3 125.2L188.7 122.4M188.4 123L189.5 120.5M189.3 121.1L190.5 118.2M190.2 118.8L191.1 116.4M190.9 116.9L191.8 114.5M191.5 115.1L192.6 112.2M192.4 112.8L193.5 109.9M193.2 110.6L194.4 107.5M194.1 108.2L195.4 104.9M195.1 105.6L196.5 102.3M196.2 103L197.8 99.7M197.4 100.4L199 97.6M198.6 98.3L200.4 95.2M200 95.9L201.9 92.9M201.5 93.6L203.4 90.7M203 91.3L204.8 88.9M204.4 89.4L206.1 87.5M205.5 88L208.6 85.7M207.9 86L210.7 85.3M210.1 85.3L212.4 85.7M211.9 85.5L213.6 87.2M213.3 86.7L214.6 89.6M214.3 88.8L215.3 92.3M215.2 91.6L215.6 94.4M215.5 93.7L215.6 96.8M215.6 96L215.8 99.5M228.8 127.5L230.7 131.9M230.3 131.1L232 133.5M231.4 133.3L234.6 132.6M233.8 132.9L237.4 130.7M236.7 131.1L239.2 129.9M238.6 130.2L241.2 128.7M240.5 129.1L243.4 126.7M242.9 127.2L244.9 125.2M244.4 125.7L246.6 123.3M246 123.9L248.3 121.1M247.8 121.8L250 118.8M249.5 119.5L251.6 116.3M251.2 117L252.9 114.1M252.5 114.8L254.2 111.6M253.8 112.3L255.4 108.9M255.1 109.7L256.6 106.3M256.3 107.1L257.8 103.9M257.5 104.6L258.9 101.9M258.5 102.6L260.4 99M260 99.8L261.6 96.6M261.3 97.3L262.8 94.8M262.5 95.3L264 93.7M263.5 93.9L266.2 94.2M265.6 93.9L268.3 96.3M267.8 95.8L269.8 97.3M269.3 96.9L271.5 98.6M271 98.2L273.3 100.2M272.7 99.7L275 102.2M274.5 101.6L276.8 104.4M276.3 103.8L278.6 106.6M278.1 106L280.1 108.8M279.6 108.1L281.6 111M281.1 110.3L283.2 113.3M282.8 112.7L284.6 115.1M284.1 114.6L286 117.1M285.6 116.5L287.5 119.1M287.1 118.5L288.9 121.1M288.5 120.5L290.2 123.5M289.8 122.7L291.5 126M291.1 125.3L292.7 128.1M292.3 127.6L294.1 129.3M293.6 129.1L296.2 129M295.6 129.2L298.2 127.4M301.8 124.7L304.6 122.5M303.9 123L306.6 120.5M306.1 121L308 118.9M307.6 119.4L309.5 117.2M309 117.7L310.9 115.4M310.5 115.9L312.2 113.8M311.8 114.3L313.8 111.8M313.4 112.3L315.3 110M314.8 110.6L316.8 108.1M316.3 108.7L318.7 105.9M318.1 106.6L320.6 103.6M370 117.4L371.5 114.3M371.1 115L372.6 112.1M372.3 112.7L373.7 110.2M373.3 110.9L375.3 107.6M374.8 108.3L376.8 105.2M376.4 105.9L378.4 103.3M377.9 103.8L379.9 102M379.4 102.3L382.1 101.4M381.5 101.5L384.2 101.7M383.6 101.6L386.3 102.1M385.5 101.9L389.5 102.5M388.6 102.3L392.6 103.3M391.8 103.1L394.5 104.2M393.9 103.9L396.7 105.3M396 105L398.6 106.5M397.9 106L401.1 108.2M414.9 119.8L417.3 121.2M416.7 120.7L419.3 123.2M418.7 122.9L421.1 122.7M420.5 122.9L423.3 121.9M422.7 122.2L425.3 120.7M424.7 121.2L427.6 118.5M427.1 119.1L428.9 116.8M428.4 117.4L430.4 114.5M429.9 115.2L432 112.2M431.5 112.9L433.8 110.2M433.2 110.8L435.7 108.4M435.1 108.9L437.9 106.6M437.3 107.1L440.1 105.2M439.4 105.5L442 104.1M441.4 104.4L444.2 103.6M443.6 103.7L446.1 103.7M445.5 103.6L448.3 104M447.6 103.9L451.1 104.6M450.3 104.4L454.1 105.5M453.3 105.2L456.6 106.4M455.8 106L459.1 108.3M458.4 107.7L461.3 110.3M460.7 109.8L463 111.7M462.4 111.2L464.8 113.3M464.2 112.8L466.9 114.8M466.3 114.4L468.7 115.9M468.2 115.6L470.8 117.1M470.2 116.8L473 118.1M472.4 117.8L475.1 118.9M474.3 118.7L478.3 119.6M477.4 119.4L481.3 119.8M480.6 119.8L483.3 120" stroke="#fff" stroke-width="14.5" stroke-opacity="0.36"/></g><g filter="url(#b2)" fill="none" stroke-linecap="butt"><path d="M79.6 73.3L81 71M96.3 83.8L97.1 86.8M121.9 144.7L123.2 142.4M139.9 85.8L140.8 82.7M184 131.8L185.4 129.2M240.5 129.1L243.4 126.7M242.9 127.2L244.9 125.2M301.8 124.7L304.6 122.5" stroke="#fff" stroke-width="8" stroke-opacity="0.04"/><path d="M95.6 81.8L96.5 84.5M110.6 143.6L112 146.3M140.6 83.4L141.3 80.8M167.6 131L168.8 133.5M228.8 127.5L230.7 131.9M244.4 125.7L246.6 123.3M295.6 129.2L298.2 127.4M318.1 106.6L320.6 103.6M373.3 110.9L375.3 107.6M414.9 119.8L417.3 121.2" stroke="#fff" stroke-width="8" stroke-opacity="0.08"/><path d="M80.7 71.5L81.9 69.8M81.5 70L84.3 70.2M120.8 146.2L122.2 144.2M156.9 95.5L158.5 98.4M185.1 129.8L186.5 126.9M215.5 93.7L215.6 96.8M238.6 130.2L241.2 128.7M246 123.9L248.3 121.1M247.8 121.8L250 118.8M303.9 123L306.6 120.5" stroke="#fff" stroke-width="8" stroke-opacity="0.12"/><path d="M88.1 71.1L91.4 71M94.9 79.7L95.8 82.4M111.7 145.7L112.9 148M141.2 81.3L141.9 79.3M236.7 131.1L239.2 129.9M249.5 119.5L251.6 116.3M397.9 106L401.1 108.2" stroke="#fff" stroke-width="8" stroke-opacity="0.16"/><path d="M93 74.3L94.2 77.7M93.9 76.9L95.1 80.4M141.5 79.8L144.2 77.1M145.5 77.6L148.3 79.2M197.4 100.4L199 97.6M198.6 98.3L200.4 95.2M200 95.9L201.9 92.9M201.5 93.6L203.4 90.7M203 91.3L204.8 88.9M204.4 89.4L206.1 87.5M251.2 117L252.9 114.1M274.5 101.6L276.8 104.4M276.3 103.8L278.6 106.6M278.1 106L280.1 108.8M279.6 108.1L281.6 111M281.1 110.3L283.2 113.3M282.8 112.7L284.6 115.1M293.6 129.1L296.2 129M306.1 121L308 118.9M307.6 119.4L309.5 117.2M316.3 108.7L318.7 105.9" stroke="#fff" stroke-width="8" stroke-opacity="0.20"/><path d="M90.8 70.8L92.2 72.7M91.9 72.1L93.3 75M143.6 77.3L146.1 77.8M168.5 132.9L169.9 135.7M174.6 141.7L177.2 140M186.2 127.6L187.7 124.6M196.2 103L197.8 99.7M205.5 88L208.6 85.7M252.5 114.8L254.2 111.6M267.8 95.8L269.8 97.3M269.3 96.9L271.5 98.6M271 98.2L273.3 100.2M272.7 99.7L275 102.2M284.1 114.6L286 117.1M292.3 127.6L294.1 129.3M309 117.7L310.9 115.4M310.5 115.9L312.2 113.8M311.8 114.3L313.8 111.8M313.4 112.3L315.3 110M314.8 110.6L316.8 108.1M374.8 108.3L376.8 105.2" stroke="#fff" stroke-width="8" stroke-opacity="0.24"/><path d="M147.7 78.7L150.4 81.2M155.9 93.8L157.3 96.1M215.2 91.6L215.6 94.4M253.8 112.3L255.4 108.9M285.6 116.5L287.5 119.1M291.1 125.3L292.7 128.1" stroke="#fff" stroke-width="8" stroke-opacity="0.28"/><path d="M112.5 147.3L115.4 150.9M118.7 149.6L121.3 145.5M169.6 135.1L171.1 137.7M187.3 125.2L188.7 122.4M195.1 105.6L196.5 102.3M207.9 86L210.7 85.3M233.8 132.9L237.4 130.7M255.1 109.7L256.6 106.3M265.6 93.9L268.3 96.3M287.1 118.5L288.9 121.1M288.5 120.5L290.2 123.5M289.8 122.7L291.5 126" stroke="#fff" stroke-width="8" stroke-opacity="0.32"/><path d="M173.2 140.7L175.1 141.6M214.3 88.8L215.3 92.3M256.3 107.1L257.8 103.9M376.4 105.9L378.4 103.3" stroke="#fff" stroke-width="8" stroke-opacity="0.36"/><path d="M154.8 91.7L156.2 94.4M194.1 108.2L195.4 104.9M213.3 86.7L214.6 89.6M257.5 104.6L258.9 101.9M396 105L398.6 106.5" stroke="#fff" stroke-width="8" stroke-opacity="0.40"/><path d="M170.7 137.1L172.2 139.2M171.8 138.7L173.6 141.1M188.4 123L189.5 120.5M210.1 85.3L212.4 85.7M230.3 131.1L232 133.5M258.5 102.6L260.4 99M260 99.8L261.6 96.6M263.5 93.9L266.2 94.2" stroke="#fff" stroke-width="8" stroke-opacity="0.44"/><path d="M149.8 80.5L152.4 84M211.9 85.5L213.6 87.2M261.3 97.3L262.8 94.8M262.5 95.3L264 93.7M377.9 103.8L379.9 102M393.9 103.9L396.7 105.3M416.7 120.7L419.3 123.2" stroke="#fff" stroke-width="8" stroke-opacity="0.48"/><path d="M152.8 85.2L153.7 88M153.5 87.4L154.4 90.3M154.2 89.7L155.1 92.3M189.3 121.1L190.5 118.2M193.2 110.6L194.4 107.5M231.4 133.3L234.6 132.6M458.4 107.7L461.3 110.3M460.7 109.8L463 111.7M462.4 111.2L464.8 113.3M480.6 119.8L483.3 120" stroke="#fff" stroke-width="8" stroke-opacity="0.52"/><path d="M114.7 150.4L117.3 150.8M116.7 151.1L119.3 148.9M152 83.3L153 85.8M190.2 118.8L191.1 116.4M379.4 102.3L382.1 101.4M381.5 101.5L384.2 101.7M383.6 101.6L386.3 102.1M385.5 101.9L389.5 102.5M464.2 112.8L466.9 114.8M466.3 114.4L468.7 115.9M477.4 119.4L481.3 119.8" stroke="#fff" stroke-width="8" stroke-opacity="0.56"/><path d="M190.9 116.9L191.8 114.5M192.4 112.8L193.5 109.9M391.8 103.1L394.5 104.2M455.8 106L459.1 108.3M468.2 115.6L470.8 117.1M470.2 116.8L473 118.1" stroke="#fff" stroke-width="8" stroke-opacity="0.60"/><path d="M191.5 115.1L192.6 112.2M388.6 102.3L392.6 103.3M447.6 103.9L451.1 104.6M450.3 104.4L454.1 105.5M453.3 105.2L456.6 106.4M472.4 117.8L475.1 118.9M474.3 118.7L478.3 119.6" stroke="#fff" stroke-width="8" stroke-opacity="0.64"/><path d="M445.5 103.6L448.3 104" stroke="#fff" stroke-width="8" stroke-opacity="0.72"/><path d="M418.7 122.9L421.1 122.7M424.7 121.2L427.6 118.5M427.1 119.1L428.9 116.8M428.4 117.4L430.4 114.5M429.9 115.2L432 112.2" stroke="#fff" stroke-width="8" stroke-opacity="0.76"/><path d="M420.5 122.9L423.3 121.9M422.7 122.2L425.3 120.7M431.5 112.9L433.8 110.2" stroke="#fff" stroke-width="8" stroke-opacity="0.80"/><path d="M433.2 110.8L435.7 108.4" stroke="#fff" stroke-width="8" stroke-opacity="0.84"/><path d="M443.6 103.7L446.1 103.7" stroke="#fff" stroke-width="8" stroke-opacity="0.92"/><path d="M435.1 108.9L437.9 106.6" stroke="#fff" stroke-width="8" stroke-opacity="0.96"/><path d="M437.3 107.1L440.1 105.2M439.4 105.5L442 104.1M441.4 104.4L444.2 103.6" stroke="#fff" stroke-width="8" stroke-opacity="1.00"/></g><g filter="url(#b2)"><ellipse cx="85.9" cy="71" rx="4.5" ry="8" fill="#fff" fill-opacity="0.31"/><ellipse cx="116.8" cy="149.4" rx="7" ry="4.5" fill="#fff" fill-opacity="0.39"/><ellipse cx="154" cy="87.5" rx="3.8" ry="8.5" fill="#fff" fill-opacity="0.43" transform="rotate(-25 154 87.5)"/><ellipse cx="145.7" cy="79.2" rx="4" ry="5" fill="#fff" fill-opacity="0.27"/><ellipse cx="174.6" cy="141" rx="5" ry="5.5" fill="#fff" fill-opacity="0.39"/><ellipse cx="191" cy="116.4" rx="3.8" ry="9" fill="#fff" fill-opacity="0.47" transform="rotate(25 191 116.4)"/><ellipse cx="211.8" cy="87.5" rx="5" ry="6.5" fill="#fff" fill-opacity="0.39"/><ellipse cx="232.4" cy="137" rx="4" ry="7" fill="#fff" fill-opacity="0.47"/><ellipse cx="263.4" cy="93.7" rx="7" ry="5.5" fill="#fff" fill-opacity="0.39"/><ellipse cx="294.3" cy="128.7" rx="6" ry="4.5" fill="#fff" fill-opacity="0.31"/><ellipse cx="308.8" cy="118.4" rx="5" ry="4.5" fill="#fff" fill-opacity="0.35"/><ellipse cx="319" cy="108" rx="4.5" ry="4.5" fill="#fff" fill-opacity="0.27"/><ellipse cx="348" cy="118.4" rx="3.5" ry="6.5" fill="#fff" fill-opacity="0.23"/><ellipse cx="379" cy="104" rx="6" ry="4.5" fill="#fff" fill-opacity="0.43"/><ellipse cx="393.4" cy="105.2" rx="6" ry="4.5" fill="#fff" fill-opacity="0.43"/><ellipse cx="420.2" cy="120.5" rx="8" ry="5.5" fill="#fff" fill-opacity="0.47"/><ellipse cx="430.5" cy="114.3" rx="6" ry="6" fill="#fff" fill-opacity="0.43"/><ellipse cx="442.9" cy="103" rx="4.5" ry="9" fill="#fff" fill-opacity="0.62"/><ellipse cx="457.3" cy="106" rx="6" ry="5.5" fill="#fff" fill-opacity="0.43"/><ellipse cx="471.8" cy="116.3" rx="8" ry="5.5" fill="#fff" fill-opacity="0.43"/><ellipse cx="479" cy="119" rx="4" ry="5" fill="#fff" fill-opacity="0.39"/></g>
</g>
<rect x="57.5" y="5.5" width="422" height="326" fill="none" stroke="#262626" stroke-width="0.9"/><path d="M99.7 331.5v-4.5 M99.7 5.5v4.5M141.9 331.5v-4.5 M141.9 5.5v4.5M184.2 331.5v-4.5 M184.2 5.5v4.5M226.4 331.5v-4.5 M226.4 5.5v4.5M268.6 331.5v-4.5 M268.6 5.5v4.5M310.8 331.5v-4.5 M310.8 5.5v4.5M353 331.5v-4.5 M353 5.5v4.5M395.3 331.5v-4.5 M395.3 5.5v4.5M437.5 331.5v-4.5 M437.5 5.5v4.5M57.5 299.5h4.5 M479.5 299.5h-4.5M57.5 267.7h4.5 M479.5 267.7h-4.5M57.5 235.9h4.5 M479.5 235.9h-4.5M57.5 204.1h4.5 M479.5 204.1h-4.5M57.5 172.3h4.5 M479.5 172.3h-4.5M57.5 140.5h4.5 M479.5 140.5h-4.5M57.5 108.7h4.5 M479.5 108.7h-4.5M57.5 76.9h4.5 M479.5 76.9h-4.5M57.5 45.1h4.5 M479.5 45.1h-4.5M57.5 13.3h4.5 M479.5 13.3h-4.5" stroke="#262626" stroke-width="0.8" fill="none"/><text x="98.9" y="349.9" text-anchor="middle" class="tk">0.1</text><text x="141.1" y="349.9" text-anchor="middle" class="tk">0.2</text><text x="183.4" y="349.9" text-anchor="middle" class="tk">0.3</text><text x="225.6" y="349.9" text-anchor="middle" class="tk">0.4</text><text x="267.8" y="349.9" text-anchor="middle" class="tk">0.5</text><text x="310" y="349.9" text-anchor="middle" class="tk">0.6</text><text x="352.2" y="349.9" text-anchor="middle" class="tk">0.7</text><text x="394.5" y="349.9" text-anchor="middle" class="tk">0.8</text><text x="436.7" y="349.9" text-anchor="middle" class="tk">0.9</text><text x="478.9" y="349.9" text-anchor="middle" class="tk">1</text><text x="52" y="304.7" text-anchor="end" class="tk">50</text><text x="52" y="272.9" text-anchor="end" class="tk">100</text><text x="52" y="241.1" text-anchor="end" class="tk">150</text><text x="52" y="209.3" text-anchor="end" class="tk">200</text><text x="52" y="177.5" text-anchor="end" class="tk">250</text><text x="52" y="145.7" text-anchor="end" class="tk">300</text><text x="52" y="113.9" text-anchor="end" class="tk">350</text><text x="52" y="82.1" text-anchor="end" class="tk">400</text><text x="52" y="50.3" text-anchor="end" class="tk">450</text><text x="52" y="18.5" text-anchor="end" class="tk">500</text><text x="268.5" y="377.9" text-anchor="middle" class="lb">Time/s</text><text x="22.1" y="168.5" text-anchor="middle" class="lb" transform="rotate(-90 22.1 168.5)">Frequency/Hz</text><text x="224" y="434" text-anchor="middle" class="cap">(a)</text>
</g>
<g id="panel-b">
<g filter="url(#cmb)">
<rect x="588.5" y="3.5" width="426" height="330" fill="#262626"/><g filter="url(#b4)"><ellipse cx="980.8" cy="314.7" rx="16.9" ry="5.4" fill="#fff" fill-opacity="0.14" transform="rotate(-6.1 980.8 314.7)"/><ellipse cx="814.2" cy="48" rx="9.9" ry="7.2" fill="#fff" fill-opacity="0.09" transform="rotate(-3.6 814.2 48)"/><ellipse cx="601" cy="33.5" rx="15.1" ry="7.1" fill="#fff" fill-opacity="0.13" transform="rotate(18.7 601 33.5)"/><ellipse cx="742" cy="24.3" rx="15.8" ry="7.9" fill="#fff" fill-opacity="0.15" transform="rotate(9.7 742 24.3)"/><ellipse cx="1000.2" cy="123.8" rx="15.6" ry="6.8" fill="#fff" fill-opacity="0.14" transform="rotate(12.8 1000.2 123.8)"/><ellipse cx="723.2" cy="33.4" rx="12.7" ry="8.6" fill="#fff" fill-opacity="0.14" transform="rotate(-4.2 723.2 33.4)"/><ellipse cx="861.6" cy="64.8" rx="9.8" ry="6.6" fill="#fff" fill-opacity="0.17" transform="rotate(-24.4 861.6 64.8)"/><ellipse cx="638.7" cy="37.6" rx="8.4" ry="6.4" fill="#fff" fill-opacity="0.14" transform="rotate(25.7 638.7 37.6)"/><ellipse cx="730.1" cy="126" rx="10.9" ry="6.5" fill="#fff" fill-opacity="0.17" transform="rotate(3.9 730.1 126)"/><ellipse cx="699.6" cy="40.4" rx="15.8" ry="8.5" fill="#fff" fill-opacity="0.18" transform="rotate(-21 699.6 40.4)"/><ellipse cx="820.7" cy="305" rx="13.9" ry="9.7" fill="#fff" fill-opacity="0.08" transform="rotate(38 820.7 305)"/><ellipse cx="614.1" cy="141.2" rx="8.2" ry="9" fill="#fff" fill-opacity="0.16" transform="rotate(37.9 614.1 141.2)"/><ellipse cx="930.2" cy="314.8" rx="13.4" ry="9.9" fill="#fff" fill-opacity="0.16" transform="rotate(-12.3 930.2 314.8)"/><ellipse cx="1001.7" cy="128.4" rx="9.9" ry="5.4" fill="#fff" fill-opacity="0.13" transform="rotate(-24.3 1001.7 128.4)"/><ellipse cx="984.5" cy="315.3" rx="10.2" ry="5.5" fill="#fff" fill-opacity="0.13" transform="rotate(-26.4 984.5 315.3)"/><ellipse cx="819.9" cy="270.5" rx="10.5" ry="7.1" fill="#fff" fill-opacity="0.19" transform="rotate(-4.4 819.9 270.5)"/><ellipse cx="735.2" cy="296.4" rx="16.1" ry="9.5" fill="#fff" fill-opacity="0.16" transform="rotate(-7 735.2 296.4)"/><ellipse cx="883" cy="276" rx="14.4" ry="6.2" fill="#fff" fill-opacity="0.10" transform="rotate(-7.2 883 276)"/><ellipse cx="916.1" cy="187.1" rx="13.5" ry="9.1" fill="#fff" fill-opacity="0.08" transform="rotate(10.5 916.1 187.1)"/><ellipse cx="730.8" cy="187.8" rx="16.4" ry="6.2" fill="#fff" fill-opacity="0.19" transform="rotate(-33.7 730.8 187.8)"/><ellipse cx="827.7" cy="182.1" rx="10.4" ry="7.8" fill="#fff" fill-opacity="0.13" transform="rotate(-4 827.7 182.1)"/><ellipse cx="893.7" cy="6.8" rx="11.8" ry="8.9" fill="#fff" fill-opacity="0.08" transform="rotate(29.4 893.7 6.8)"/><ellipse cx="676.4" cy="227.5" rx="9.7" ry="7.2" fill="#fff" fill-opacity="0.12" transform="rotate(-33.5 676.4 227.5)"/><ellipse cx="885.7" cy="162" rx="14.9" ry="7.7" fill="#fff" fill-opacity="0.14" transform="rotate(2.1 885.7 162)"/><ellipse cx="716.2" cy="298.5" rx="8.9" ry="9.4" fill="#fff" fill-opacity="0.18" transform="rotate(-0.2 716.2 298.5)"/><ellipse cx="918.4" cy="225" rx="14.1" ry="6.5" fill="#fff" fill-opacity="0.10" transform="rotate(-12 918.4 225)"/><ellipse cx="718" cy="318.4" rx="11.4" ry="6.9" fill="#fff" fill-opacity="0.12" transform="rotate(25.3 718 318.4)"/><ellipse cx="792.1" cy="186" rx="10.6" ry="6.4" fill="#fff" fill-opacity="0.07" transform="rotate(-22.6 792.1 186)"/><ellipse cx="701.9" cy="283.3" rx="13" ry="5.6" fill="#fff" fill-opacity="0.12" transform="rotate(-30.3 701.9 283.3)"/><ellipse cx="829.4" cy="149.6" rx="16.6" ry="6.3" fill="#fff" fill-opacity="0.18" transform="rotate(-20.2 829.4 149.6)"/><ellipse cx="1005.2" cy="212.2" rx="8.4" ry="9" fill="#fff" fill-opacity="0.10" transform="rotate(-11 1005.2 212.2)"/><ellipse cx="652.4" cy="278.5" rx="8.9" ry="8.7" fill="#fff" fill-opacity="0.12" transform="rotate(14.4 652.4 278.5)"/><ellipse cx="714.2" cy="31" rx="17.2" ry="8.3" fill="#fff" fill-opacity="0.08" transform="rotate(38.1 714.2 31)"/><ellipse cx="975.3" cy="65" rx="8.2" ry="8.1" fill="#fff" fill-opacity="0.08" transform="rotate(18.6 975.3 65)"/><ellipse cx="788.4" cy="236.7" rx="13.7" ry="8.9" fill="#fff" fill-opacity="0.18" transform="rotate(8.2 788.4 236.7)"/><ellipse cx="840.1" cy="112.1" rx="9.3" ry="5.5" fill="#fff" fill-opacity="0.18" transform="rotate(-23.5 840.1 112.1)"/><ellipse cx="770.5" cy="108.8" rx="14.2" ry="7.7" fill="#fff" fill-opacity="0.18" transform="rotate(-5.1 770.5 108.8)"/><ellipse cx="743.2" cy="217.8" rx="15.4" ry="9.6" fill="#fff" fill-opacity="0.10" transform="rotate(30.9 743.2 217.8)"/><ellipse cx="1004.7" cy="325.8" rx="9.3" ry="6.9" fill="#fff" fill-opacity="0.17" transform="rotate(26.5 1004.7 325.8)"/><ellipse cx="607.2" cy="134.3" rx="15.2" ry="8.8" fill="#fff" fill-opacity="0.13" transform="rotate(-23.2 607.2 134.3)"/><ellipse cx="762.2" cy="24.6" rx="11.2" ry="7.1" fill="#fff" fill-opacity="0.18" transform="rotate(7.1 762.2 24.6)"/><ellipse cx="765.4" cy="85.7" rx="11.2" ry="8.4" fill="#fff" fill-opacity="0.12" transform="rotate(-26.2 765.4 85.7)"/><ellipse cx="937.3" cy="193.2" rx="17.7" ry="7.7" fill="#fff" fill-opacity="0.15" transform="rotate(-5.8 937.3 193.2)"/><ellipse cx="847.2" cy="305" rx="17.8" ry="8.3" fill="#fff" fill-opacity="0.12" transform="rotate(-35 847.2 305)"/><ellipse cx="945.1" cy="133.1" rx="11.8" ry="5.3" fill="#fff" fill-opacity="0.06" transform="rotate(-8.8 945.1 133.1)"/><ellipse cx="1001.8" cy="246.9" rx="15.1" ry="8.3" fill="#fff" fill-opacity="0.10" transform="rotate(-26.5 1001.8 246.9)"/><ellipse cx="844.7" cy="26.2" rx="13.9" ry="7.6" fill="#fff" fill-opacity="0.14" transform="rotate(-30.3 844.7 26.2)"/><ellipse cx="619" cy="159.8" rx="9.5" ry="8.2" fill="#fff" fill-opacity="0.10" transform="rotate(9.7 619 159.8)"/><ellipse cx="907.1" cy="203.2" rx="13.3" ry="6" fill="#fff" fill-opacity="0.11" transform="rotate(38.2 907.1 203.2)"/><ellipse cx="703.8" cy="98.2" rx="12.9" ry="7.7" fill="#fff" fill-opacity="0.17" transform="rotate(-16.4 703.8 98.2)"/><ellipse cx="996.8" cy="12.7" rx="15.9" ry="7.8" fill="#fff" fill-opacity="0.19" transform="rotate(-27.8 996.8 12.7)"/><ellipse cx="881.4" cy="314.3" rx="14.7" ry="5.6" fill="#fff" fill-opacity="0.19" transform="rotate(37.6 881.4 314.3)"/><ellipse cx="637.3" cy="275.2" rx="8.8" ry="5.4" fill="#fff" fill-opacity="0.17" transform="rotate(17.6 637.3 275.2)"/><ellipse cx="994.4" cy="211.5" rx="13.1" ry="6.4" fill="#fff" fill-opacity="0.14" transform="rotate(39.4 994.4 211.5)"/><ellipse cx="863.4" cy="290.9" rx="10" ry="8.7" fill="#fff" fill-opacity="0.16" transform="rotate(-34.3 863.4 290.9)"/><ellipse cx="936.6" cy="62.9" rx="10.2" ry="5.3" fill="#fff" fill-opacity="0.15" transform="rotate(-28.6 936.6 62.9)"/><ellipse cx="1002.2" cy="5.5" rx="16.1" ry="8.8" fill="#fff" fill-opacity="0.14" transform="rotate(5.8 1002.2 5.5)"/><ellipse cx="927.2" cy="213" rx="9.4" ry="9" fill="#fff" fill-opacity="0.11" transform="rotate(6.7 927.2 213)"/><ellipse cx="806.7" cy="300.2" rx="12.1" ry="9.3" fill="#fff" fill-opacity="0.07" transform="rotate(-13.9 806.7 300.2)"/><ellipse cx="873.5" cy="205" rx="16.3" ry="6" fill="#fff" fill-opacity="0.17" transform="rotate(23.6 873.5 205)"/><ellipse cx="650.8" cy="51.1" rx="13.8" ry="9.9" fill="#fff" fill-opacity="0.15" transform="rotate(-5.8 650.8 51.1)"/><ellipse cx="804.4" cy="269.4" rx="13.2" ry="7.7" fill="#fff" fill-opacity="0.14" transform="rotate(34.6 804.4 269.4)"/><ellipse cx="928.3" cy="279.1" rx="10.7" ry="8" fill="#fff" fill-opacity="0.18" transform="rotate(17.5 928.3 279.1)"/><ellipse cx="992.2" cy="303.9" rx="9.3" ry="7.5" fill="#fff" fill-opacity="0.11" transform="rotate(-23.6 992.2 303.9)"/><ellipse cx="801.8" cy="326.2" rx="15.7" ry="5.5" fill="#fff" fill-opacity="0.09" transform="rotate(-10.4 801.8 326.2)"/><ellipse cx="964" cy="155.3" rx="9.6" ry="7.8" fill="#fff" fill-opacity="0.09" transform="rotate(-36.9 964 155.3)"/><ellipse cx="840.6" cy="328.5" rx="15.8" ry="8.7" fill="#fff" fill-opacity="0.08" transform="rotate(4.9 840.6 328.5)"/><ellipse cx="859.3" cy="253" rx="12.5" ry="5.3" fill="#fff" fill-opacity="0.19" transform="rotate(-18.8 859.3 253)"/><ellipse cx="902.1" cy="156.8" rx="15.8" ry="6.7" fill="#fff" fill-opacity="0.07" transform="rotate(-5.8 902.1 156.8)"/><ellipse cx="793.1" cy="263.9" rx="12" ry="8.3" fill="#fff" fill-opacity="0.11" transform="rotate(18.6 793.1 263.9)"/><ellipse cx="664" cy="292.4" rx="17.4" ry="5.1" fill="#fff" fill-opacity="0.18" transform="rotate(22.2 664 292.4)"/><ellipse cx="882.9" cy="40" rx="15.3" ry="8.9" fill="#fff" fill-opacity="0.15" transform="rotate(37.1 882.9 40)"/><ellipse cx="990.1" cy="212.1" rx="17.3" ry="5.7" fill="#fff" fill-opacity="0.10" transform="rotate(2.4 990.1 212.1)"/><ellipse cx="811.1" cy="316.1" rx="14.4" ry="8.1" fill="#fff" fill-opacity="0.15" transform="rotate(35.6 811.1 316.1)"/><ellipse cx="759.5" cy="246.6" rx="14" ry="7" fill="#fff" fill-opacity="0.11" transform="rotate(-27.7 759.5 246.6)"/><ellipse cx="595.1" cy="115" rx="11" ry="5.4" fill="#fff" fill-opacity="0.13" transform="rotate(-11.9 595.1 115)"/><ellipse cx="981.3" cy="259.9" rx="14.7" ry="9.2" fill="#fff" fill-opacity="0.10" transform="rotate(-30.7 981.3 259.9)"/><ellipse cx="847.8" cy="79.7" rx="17.9" ry="7.1" fill="#fff" fill-opacity="0.18" transform="rotate(-20.3 847.8 79.7)"/><ellipse cx="630.1" cy="209.9" rx="14.9" ry="6.3" fill="#fff" fill-opacity="0.19" transform="rotate(37.9 630.1 209.9)"/><ellipse cx="880.5" cy="325.4" rx="17.8" ry="5.7" fill="#fff" fill-opacity="0.16" transform="rotate(19.7 880.5 325.4)"/><ellipse cx="899.4" cy="116.2" rx="13.4" ry="7.9" fill="#fff" fill-opacity="0.18" transform="rotate(-35.9 899.4 116.2)"/><ellipse cx="748.8" cy="108.1" rx="15.9" ry="5.6" fill="#fff" fill-opacity="0.07" transform="rotate(-30.8 748.8 108.1)"/><ellipse cx="639.5" cy="147.4" rx="16.7" ry="6.8" fill="#fff" fill-opacity="0.07" transform="rotate(13.6 639.5 147.4)"/><ellipse cx="730.9" cy="191.7" rx="15.5" ry="7.3" fill="#fff" fill-opacity="0.16" transform="rotate(9.6 730.9 191.7)"/><ellipse cx="950" cy="254" rx="17" ry="8.7" fill="#fff" fill-opacity="0.10" transform="rotate(0.4 950 254)"/><ellipse cx="916.4" cy="261.3" rx="15.3" ry="9.2" fill="#fff" fill-opacity="0.18" transform="rotate(3.3 916.4 261.3)"/><ellipse cx="860.8" cy="19.8" rx="12.8" ry="8.6" fill="#fff" fill-opacity="0.19" transform="rotate(27.9 860.8 19.8)"/><ellipse cx="775.9" cy="80.4" rx="16.9" ry="8.3" fill="#fff" fill-opacity="0.09" transform="rotate(-37 775.9 80.4)"/><ellipse cx="961" cy="193.5" rx="9.1" ry="9.9" fill="#fff" fill-opacity="0.14" transform="rotate(20.7 961 193.5)"/><ellipse cx="930.8" cy="88.9" rx="13.2" ry="5.9" fill="#fff" fill-opacity="0.15" transform="rotate(-5.2 930.8 88.9)"/><ellipse cx="923.9" cy="43.3" rx="10.1" ry="6.9" fill="#fff" fill-opacity="0.06" transform="rotate(-7.5 923.9 43.3)"/><ellipse cx="996.7" cy="287.7" rx="9.8" ry="9.2" fill="#fff" fill-opacity="0.09" transform="rotate(-20.8 996.7 287.7)"/><ellipse cx="859.6" cy="101.4" rx="10" ry="5.4" fill="#fff" fill-opacity="0.08" transform="rotate(-24.6 859.6 101.4)"/><ellipse cx="975.3" cy="19.2" rx="13.4" ry="6.1" fill="#fff" fill-opacity="0.16" transform="rotate(-39.8 975.3 19.2)"/><ellipse cx="747.2" cy="246" rx="8.3" ry="7.1" fill="#fff" fill-opacity="0.11" transform="rotate(-1.3 747.2 246)"/><ellipse cx="855.8" cy="31.6" rx="16.7" ry="6.4" fill="#fff" fill-opacity="0.17" transform="rotate(-29.4 855.8 31.6)"/><ellipse cx="630.1" cy="68.6" rx="8.8" ry="6.2" fill="#fff" fill-opacity="0.08" transform="rotate(-33.1 630.1 68.6)"/><ellipse cx="950" cy="177.8" rx="13" ry="7.5" fill="#fff" fill-opacity="0.17" transform="rotate(-36.3 950 177.8)"/><ellipse cx="609.6" cy="222.7" rx="8.1" ry="7.5" fill="#fff" fill-opacity="0.15" transform="rotate(28 609.6 222.7)"/><ellipse cx="590.8" cy="136.5" rx="11.1" ry="7.9" fill="#fff" fill-opacity="0.06" transform="rotate(20.3 590.8 136.5)"/><ellipse cx="994.3" cy="184.4" rx="14.7" ry="9.2" fill="#fff" fill-opacity="0.18" transform="rotate(25.5 994.3 184.4)"/><ellipse cx="796.1" cy="34.1" rx="15.9" ry="9.2" fill="#fff" fill-opacity="0.16" transform="rotate(-14.8 796.1 34.1)"/><ellipse cx="1001.9" cy="208.5" rx="11.1" ry="8.9" fill="#fff" fill-opacity="0.09" transform="rotate(-20.7 1001.9 208.5)"/><ellipse cx="972.5" cy="23.5" rx="16.7" ry="7" fill="#fff" fill-opacity="0.14" transform="rotate(15.3 972.5 23.5)"/><ellipse cx="971.4" cy="77.2" rx="8.9" ry="7.6" fill="#fff" fill-opacity="0.09" transform="rotate(-6.1 971.4 77.2)"/><ellipse cx="637" cy="34.8" rx="13.7" ry="5.3" fill="#fff" fill-opacity="0.10" transform="rotate(-8.9 637 34.8)"/><ellipse cx="630.6" cy="268.1" rx="17" ry="5.2" fill="#fff" fill-opacity="0.17" transform="rotate(-25.9 630.6 268.1)"/><ellipse cx="898.4" cy="25.3" rx="15.5" ry="9.7" fill="#fff" fill-opacity="0.10" transform="rotate(-26.8 898.4 25.3)"/><ellipse cx="734.2" cy="285.8" rx="15.8" ry="5.8" fill="#fff" fill-opacity="0.19" transform="rotate(19.1 734.2 285.8)"/><ellipse cx="994.4" cy="322.6" rx="9.6" ry="8.6" fill="#fff" fill-opacity="0.06" transform="rotate(-24.7 994.4 322.6)"/><ellipse cx="816.9" cy="81.5" rx="10.2" ry="6.8" fill="#fff" fill-opacity="0.12" transform="rotate(33.4 816.9 81.5)"/><ellipse cx="835.8" cy="186.8" rx="15.2" ry="5.9" fill="#fff" fill-opacity="0.17" transform="rotate(21 835.8 186.8)"/><ellipse cx="934.1" cy="152.3" rx="13.4" ry="5.4" fill="#fff" fill-opacity="0.12" transform="rotate(11.5 934.1 152.3)"/><ellipse cx="991.4" cy="297.6" rx="11.4" ry="8.8" fill="#fff" fill-opacity="0.18" transform="rotate(36.9 991.4 297.6)"/><ellipse cx="877.7" cy="112.9" rx="16.7" ry="5.1" fill="#fff" fill-opacity="0.14" transform="rotate(-3.4 877.7 112.9)"/><ellipse cx="963" cy="208" rx="10" ry="5.8" fill="#fff" fill-opacity="0.07" transform="rotate(20.2 963 208)"/><ellipse cx="921" cy="127.2" rx="10.2" ry="7.8" fill="#fff" fill-opacity="0.09" transform="rotate(2.1 921 127.2)"/><ellipse cx="735.5" cy="109.5" rx="14.9" ry="6.2" fill="#fff" fill-opacity="0.11" transform="rotate(5.1 735.5 109.5)"/><ellipse cx="988" cy="54.5" rx="11.1" ry="6.4" fill="#fff" fill-opacity="0.10" transform="rotate(-1 988 54.5)"/><ellipse cx="936.7" cy="64.6" rx="15.2" ry="7.2" fill="#fff" fill-opacity="0.14" transform="rotate(0.2 936.7 64.6)"/><ellipse cx="844.9" cy="64" rx="14.2" ry="7" fill="#fff" fill-opacity="0.17" transform="rotate(7.7 844.9 64)"/><ellipse cx="762.6" cy="327.3" rx="9.8" ry="5.1" fill="#fff" fill-opacity="0.08" transform="rotate(15.2 762.6 327.3)"/><ellipse cx="629.3" cy="245.2" rx="8.9" ry="6.5" fill="#fff" fill-opacity="0.15" transform="rotate(-38.3 629.3 245.2)"/><ellipse cx="773.2" cy="331.3" rx="15.3" ry="6.9" fill="#fff" fill-opacity="0.19" transform="rotate(5.5 773.2 331.3)"/><ellipse cx="932.7" cy="117.6" rx="11.8" ry="8.5" fill="#fff" fill-opacity="0.17" transform="rotate(15.4 932.7 117.6)"/><ellipse cx="653.9" cy="142.9" rx="11.2" ry="6.2" fill="#fff" fill-opacity="0.08" transform="rotate(19.9 653.9 142.9)"/><ellipse cx="650.2" cy="120.8" rx="8.2" ry="8.5" fill="#fff" fill-opacity="0.15" transform="rotate(-33.8 650.2 120.8)"/><ellipse cx="991.5" cy="329.9" rx="15.5" ry="9" fill="#fff" fill-opacity="0.16" transform="rotate(-38.2 991.5 329.9)"/><ellipse cx="705.8" cy="82.7" rx="8.2" ry="8.2" fill="#fff" fill-opacity="0.14" transform="rotate(-11 705.8 82.7)"/><ellipse cx="906.3" cy="81.9" rx="10.8" ry="5.6" fill="#fff" fill-opacity="0.09" transform="rotate(28.1 906.3 81.9)"/><ellipse cx="797.3" cy="245.7" rx="16.7" ry="8.3" fill="#fff" fill-opacity="0.11" transform="rotate(37.4 797.3 245.7)"/><ellipse cx="624.3" cy="140.2" rx="16.9" ry="8.4" fill="#fff" fill-opacity="0.11" transform="rotate(26.2 624.3 140.2)"/><ellipse cx="910.3" cy="241.3" rx="10.7" ry="8.4" fill="#fff" fill-opacity="0.15" transform="rotate(27.2 910.3 241.3)"/><ellipse cx="806.9" cy="308.5" rx="15.2" ry="6" fill="#fff" fill-opacity="0.14" transform="rotate(-24.3 806.9 308.5)"/><ellipse cx="851.1" cy="111.7" rx="18" ry="6.7" fill="#fff" fill-opacity="0.17" transform="rotate(26.9 851.1 111.7)"/><ellipse cx="748.1" cy="197.5" rx="10.3" ry="6.9" fill="#fff" fill-opacity="0.12" transform="rotate(16.9 748.1 197.5)"/><ellipse cx="805" cy="57.9" rx="14.5" ry="7.6" fill="#fff" fill-opacity="0.13" transform="rotate(-4.4 805 57.9)"/><ellipse cx="956.3" cy="218.8" rx="14.6" ry="7.5" fill="#fff" fill-opacity="0.12" transform="rotate(-5.8 956.3 218.8)"/><ellipse cx="877" cy="148.3" rx="8.7" ry="6.1" fill="#fff" fill-opacity="0.07" transform="rotate(-36.1 877 148.3)"/><ellipse cx="742.1" cy="128.7" rx="12.6" ry="6" fill="#fff" fill-opacity="0.09" transform="rotate(-4.2 742.1 128.7)"/><ellipse cx="713.1" cy="90.6" rx="12.9" ry="8.8" fill="#fff" fill-opacity="0.07" transform="rotate(-38.9 713.1 90.6)"/><ellipse cx="779.5" cy="297" rx="14.3" ry="6.8" fill="#fff" fill-opacity="0.20" transform="rotate(14.3 779.5 297)"/><ellipse cx="938.8" cy="280.1" rx="8.4" ry="6" fill="#fff" fill-opacity="0.17" transform="rotate(-8.7 938.8 280.1)"/><ellipse cx="970.4" cy="28.7" rx="17.4" ry="8.1" fill="#fff" fill-opacity="0.12" transform="rotate(26.4 970.4 28.7)"/><ellipse cx="816.5" cy="155.3" rx="9.8" ry="8.9" fill="#fff" fill-opacity="0.08" transform="rotate(-16 816.5 155.3)"/><ellipse cx="627.7" cy="10.6" rx="11" ry="5.2" fill="#fff" fill-opacity="0.13" transform="rotate(-12.2 627.7 10.6)"/><ellipse cx="598.1" cy="156.7" rx="10.9" ry="6.2" fill="#fff" fill-opacity="0.14" transform="rotate(-13.4 598.1 156.7)"/><ellipse cx="613.5" cy="309" rx="17.7" ry="6.2" fill="#fff" fill-opacity="0.15" transform="rotate(6.8 613.5 309)"/><ellipse cx="695.4" cy="181" rx="10.7" ry="6.4" fill="#fff" fill-opacity="0.12" transform="rotate(-36.4 695.4 181)"/><ellipse cx="687.6" cy="326.2" rx="15.7" ry="6.7" fill="#fff" fill-opacity="0.20" transform="rotate(-13.7 687.6 326.2)"/><ellipse cx="949.7" cy="110.6" rx="16.9" ry="7.3" fill="#fff" fill-opacity="0.18" transform="rotate(-29 949.7 110.6)"/><ellipse cx="756.9" cy="117.8" rx="15.8" ry="9.3" fill="#fff" fill-opacity="0.08" transform="rotate(-7.2 756.9 117.8)"/><ellipse cx="663.3" cy="27" rx="9.3" ry="5.4" fill="#fff" fill-opacity="0.10" transform="rotate(-5.5 663.3 27)"/><ellipse cx="972.2" cy="218" rx="15.6" ry="6.7" fill="#fff" fill-opacity="0.11" transform="rotate(-7 972.2 218)"/><ellipse cx="688.7" cy="12" rx="10.8" ry="9.6" fill="#fff" fill-opacity="0.07" transform="rotate(0.3 688.7 12)"/><ellipse cx="688.4" cy="254.1" rx="8.4" ry="7.6" fill="#fff" fill-opacity="0.16" transform="rotate(-3 688.4 254.1)"/><ellipse cx="651.1" cy="295.3" rx="8.2" ry="9.6" fill="#fff" fill-opacity="0.17" transform="rotate(30.7 651.1 295.3)"/><ellipse cx="955.7" cy="126" rx="14.3" ry="7.4" fill="#fff" fill-opacity="0.14" transform="rotate(-9.6 955.7 126)"/><ellipse cx="951.2" cy="105.9" rx="13.6" ry="5.3" fill="#fff" fill-opacity="0.07" transform="rotate(30.8 951.2 105.9)"/><ellipse cx="741" cy="127.6" rx="17.9" ry="8.6" fill="#fff" fill-opacity="0.08" transform="rotate(3.4 741 127.6)"/><ellipse cx="794.4" cy="202.6" rx="10.7" ry="6.4" fill="#fff" fill-opacity="0.19" transform="rotate(7.7 794.4 202.6)"/><ellipse cx="822.9" cy="231" rx="15.5" ry="5.9" fill="#fff" fill-opacity="0.17" transform="rotate(-1.4 822.9 231)"/><ellipse cx="654" cy="108.7" rx="17.9" ry="9.2" fill="#fff" fill-opacity="0.19" transform="rotate(0 654 108.7)"/><ellipse cx="859" cy="134.7" rx="15.3" ry="7.7" fill="#fff" fill-opacity="0.11" transform="rotate(38.2 859 134.7)"/><ellipse cx="801.9" cy="18.7" rx="16.1" ry="5.5" fill="#fff" fill-opacity="0.10" transform="rotate(-3.8 801.9 18.7)"/><ellipse cx="679.8" cy="152" rx="12.4" ry="7.7" fill="#fff" fill-opacity="0.15" transform="rotate(14.8 679.8 152)"/><ellipse cx="611.8" cy="82.8" rx="9.2" ry="6.7" fill="#fff" fill-opacity="0.12" transform="rotate(28.1 611.8 82.8)"/><ellipse cx="596.5" cy="269.6" rx="9.6" ry="8.7" fill="#fff" fill-opacity="0.18" transform="rotate(38.9 596.5 269.6)"/><ellipse cx="833.4" cy="23.6" rx="10.9" ry="7.2" fill="#fff" fill-opacity="0.15" transform="rotate(37.5 833.4 23.6)"/><ellipse cx="960.4" cy="26.1" rx="9.3" ry="8.3" fill="#fff" fill-opacity="0.09" transform="rotate(6.7 960.4 26.1)"/><ellipse cx="805.4" cy="183.2" rx="11.5" ry="9.6" fill="#fff" fill-opacity="0.10" transform="rotate(-11.1 805.4 183.2)"/><ellipse cx="658.7" cy="100" rx="9.3" ry="8.2" fill="#fff" fill-opacity="0.06" transform="rotate(-20.6 658.7 100)"/><ellipse cx="931.5" cy="283.2" rx="11.4" ry="8.7" fill="#fff" fill-opacity="0.17" transform="rotate(12 931.5 283.2)"/><ellipse cx="852.6" cy="251.2" rx="11.2" ry="6.7" fill="#fff" fill-opacity="0.10" transform="rotate(-21.5 852.6 251.2)"/><ellipse cx="807.1" cy="181.3" rx="9.9" ry="5.4" fill="#fff" fill-opacity="0.06" transform="rotate(-22.9 807.1 181.3)"/><ellipse cx="656.4" cy="208" rx="16.1" ry="7.7" fill="#fff" fill-opacity="0.15" transform="rotate(-6.3 656.4 208)"/><ellipse cx="621.9" cy="249.1" rx="15.7" ry="5.7" fill="#fff" fill-opacity="0.10" transform="rotate(14.6 621.9 249.1)"/><ellipse cx="888.3" cy="59" rx="11.9" ry="6.9" fill="#fff" fill-opacity="0.14" transform="rotate(25.6 888.3 59)"/><ellipse cx="652.3" cy="128.1" rx="17.2" ry="5.9" fill="#fff" fill-opacity="0.08" transform="rotate(22.9 652.3 128.1)"/><ellipse cx="853.8" cy="160.7" rx="12.6" ry="5.3" fill="#fff" fill-opacity="0.15" transform="rotate(-18.8 853.8 160.7)"/><ellipse cx="776.8" cy="308.3" rx="13" ry="7" fill="#fff" fill-opacity="0.11" transform="rotate(-17.2 776.8 308.3)"/><ellipse cx="851.3" cy="239" rx="9.2" ry="5" fill="#fff" fill-opacity="0.12" transform="rotate(-26.8 851.3 239)"/><ellipse cx="843.2" cy="58" rx="13" ry="7.4" fill="#fff" fill-opacity="0.20" transform="rotate(-14.4 843.2 58)"/><ellipse cx="701.1" cy="115.5" rx="14.6" ry="6.2" fill="#fff" fill-opacity="0.09" transform="rotate(16.9 701.1 115.5)"/><ellipse cx="814" cy="28.8" rx="16.5" ry="5.6" fill="#fff" fill-opacity="0.10" transform="rotate(3.7 814 28.8)"/><ellipse cx="783.2" cy="255.1" rx="9.5" ry="8.3" fill="#fff" fill-opacity="0.09" transform="rotate(-30.7 783.2 255.1)"/><ellipse cx="885.4" cy="258.5" rx="9.1" ry="5.2" fill="#fff" fill-opacity="0.09" transform="rotate(6 885.4 258.5)"/><ellipse cx="603.9" cy="315.4" rx="8.2" ry="8.7" fill="#fff" fill-opacity="0.17" transform="rotate(-9.3 603.9 315.4)"/><ellipse cx="934.4" cy="62.7" rx="15.7" ry="7.9" fill="#fff" fill-opacity="0.18" transform="rotate(23.5 934.4 62.7)"/><ellipse cx="922.6" cy="287.1" rx="10.5" ry="5.2" fill="#fff" fill-opacity="0.08" transform="rotate(19.8 922.6 287.1)"/><ellipse cx="809" cy="166.4" rx="12.7" ry="5.1" fill="#fff" fill-opacity="0.19" transform="rotate(5.5 809 166.4)"/><ellipse cx="837.5" cy="166.6" rx="16.8" ry="7.4" fill="#fff" fill-opacity="0.14" transform="rotate(23.9 837.5 166.6)"/><ellipse cx="653.1" cy="274.7" rx="14.2" ry="6.7" fill="#fff" fill-opacity="0.08" transform="rotate(1.2 653.1 274.7)"/><ellipse cx="714.4" cy="6.1" rx="16.2" ry="8.7" fill="#fff" fill-opacity="0.19" transform="rotate(21 714.4 6.1)"/><ellipse cx="761.8" cy="303.5" rx="10.4" ry="6.3" fill="#fff" fill-opacity="0.13" transform="rotate(14.2 761.8 303.5)"/><ellipse cx="632.4" cy="24.3" rx="17.3" ry="5.1" fill="#fff" fill-opacity="0.16" transform="rotate(-2.5 632.4 24.3)"/><ellipse cx="995.6" cy="285.6" rx="12.6" ry="7.7" fill="#fff" fill-opacity="0.16" transform="rotate(-19.1 995.6 285.6)"/><ellipse cx="598.7" cy="328.6" rx="13.4" ry="9" fill="#fff" fill-opacity="0.14" transform="rotate(-33.9 598.7 328.6)"/><ellipse cx="633.9" cy="82" rx="17.7" ry="9.1" fill="#fff" fill-opacity="0.10" transform="rotate(-4.3 633.9 82)"/><ellipse cx="999.1" cy="170.3" rx="11.2" ry="7.6" fill="#fff" fill-opacity="0.08" transform="rotate(5.6 999.1 170.3)"/><ellipse cx="620.8" cy="175.1" rx="9.1" ry="5.2" fill="#fff" fill-opacity="0.17" transform="rotate(0.4 620.8 175.1)"/><ellipse cx="657.9" cy="135.5" rx="16.9" ry="6.8" fill="#fff" fill-opacity="0.10" transform="rotate(-1.6 657.9 135.5)"/><ellipse cx="968.3" cy="206.3" rx="12.7" ry="8.1" fill="#fff" fill-opacity="0.11" transform="rotate(34.8 968.3 206.3)"/><ellipse cx="705.4" cy="76.8" rx="12.9" ry="9" fill="#fff" fill-opacity="0.17" transform="rotate(12.8 705.4 76.8)"/><ellipse cx="591.4" cy="266.1" rx="17.1" ry="5.6" fill="#fff" fill-opacity="0.09" transform="rotate(-22.5 591.4 266.1)"/><ellipse cx="645.4" cy="53" rx="13" ry="8.5" fill="#fff" fill-opacity="0.13" transform="rotate(3.2 645.4 53)"/><ellipse cx="880.4" cy="274.4" rx="17.7" ry="8.5" fill="#fff" fill-opacity="0.13" transform="rotate(-35.5 880.4 274.4)"/><ellipse cx="714.7" cy="68.3" rx="17.6" ry="8.6" fill="#fff" fill-opacity="0.08" transform="rotate(-13 714.7 68.3)"/><ellipse cx="768.5" cy="210.3" rx="17.7" ry="6.7" fill="#fff" fill-opacity="0.16" transform="rotate(-7 768.5 210.3)"/><ellipse cx="972.1" cy="168.9" rx="15.7" ry="7.9" fill="#fff" fill-opacity="0.16" transform="rotate(20.4 972.1 168.9)"/><ellipse cx="755.2" cy="151" rx="14.2" ry="8.6" fill="#fff" fill-opacity="0.14" transform="rotate(-11.2 755.2 151)"/><ellipse cx="796.8" cy="171.7" rx="11.8" ry="6.6" fill="#fff" fill-opacity="0.07" transform="rotate(-34.7 796.8 171.7)"/><ellipse cx="656.2" cy="34" rx="11.7" ry="9.8" fill="#fff" fill-opacity="0.12" transform="rotate(33 656.2 34)"/><ellipse cx="881.1" cy="308.9" rx="14.5" ry="9.8" fill="#fff" fill-opacity="0.17" transform="rotate(-33.7 881.1 308.9)"/><ellipse cx="591.6" cy="318.9" rx="11.4" ry="8.3" fill="#fff" fill-opacity="0.19" transform="rotate(38.9 591.6 318.9)"/><ellipse cx="812" cy="112.6" rx="13.9" ry="8.5" fill="#fff" fill-opacity="0.07" transform="rotate(24.3 812 112.6)"/><ellipse cx="592.1" cy="132" rx="16.4" ry="9.4" fill="#fff" fill-opacity="0.18" transform="rotate(29.2 592.1 132)"/><ellipse cx="782.5" cy="144" rx="12.8" ry="7.6" fill="#fff" fill-opacity="0.09" transform="rotate(-10.3 782.5 144)"/><ellipse cx="792.7" cy="11.6" rx="13.7" ry="5.3" fill="#fff" fill-opacity="0.14" transform="rotate(-35.3 792.7 11.6)"/><ellipse cx="668.5" cy="154.8" rx="15.6" ry="9.9" fill="#fff" fill-opacity="0.17" transform="rotate(25.5 668.5 154.8)"/><ellipse cx="774.2" cy="174.3" rx="13.5" ry="9.8" fill="#fff" fill-opacity="0.18" transform="rotate(-39 774.2 174.3)"/><ellipse cx="881.7" cy="240.1" rx="16.9" ry="9.7" fill="#fff" fill-opacity="0.12" transform="rotate(-6.8 881.7 240.1)"/><ellipse cx="689.9" cy="68.2" rx="16.8" ry="8.7" fill="#fff" fill-opacity="0.18" transform="rotate(-14.1 689.9 68.2)"/><ellipse cx="912.8" cy="10.8" rx="13" ry="6.6" fill="#fff" fill-opacity="0.10" transform="rotate(39.1 912.8 10.8)"/><ellipse cx="591.8" cy="316.8" rx="14.7" ry="10" fill="#fff" fill-opacity="0.12" transform="rotate(32 591.8 316.8)"/><ellipse cx="823.3" cy="193.3" rx="14.3" ry="6.3" fill="#fff" fill-opacity="0.14" transform="rotate(-25.9 823.3 193.3)"/><ellipse cx="604.2" cy="240.6" rx="8.3" ry="9.6" fill="#fff" fill-opacity="0.09" transform="rotate(32.9 604.2 240.6)"/><ellipse cx="720.3" cy="238.8" rx="11.4" ry="8.5" fill="#fff" fill-opacity="0.09" transform="rotate(-21.7 720.3 238.8)"/><ellipse cx="703.1" cy="325.8" rx="17" ry="6.9" fill="#fff" fill-opacity="0.19" transform="rotate(34.8 703.1 325.8)"/><ellipse cx="650.6" cy="207.2" rx="10.1" ry="6.7" fill="#fff" fill-opacity="0.10" transform="rotate(-22.1 650.6 207.2)"/></g><g filter="url(#b5)"><ellipse cx="838" cy="76.3" rx="11.3" ry="6.6" fill="#000" fill-opacity="0.22" transform="rotate(16.5 838 76.3)"/><ellipse cx="711.6" cy="321.5" rx="9.1" ry="6.1" fill="#000" fill-opacity="0.21" transform="rotate(0.9 711.6 321.5)"/><ellipse cx="721.5" cy="136" rx="15.5" ry="8.7" fill="#000" fill-opacity="0.21" transform="rotate(22.8 721.5 136)"/><ellipse cx="742.7" cy="191.6" rx="11.6" ry="9" fill="#000" fill-opacity="0.29" transform="rotate(-0.1 742.7 191.6)"/><ellipse cx="663.3" cy="30.6" rx="10.6" ry="9.4" fill="#000" fill-opacity="0.38" transform="rotate(-5.7 663.3 30.6)"/><ellipse cx="621.1" cy="70.3" rx="17.4" ry="6.5" fill="#000" fill-opacity="0.25" transform="rotate(-25.7 621.1 70.3)"/><ellipse cx="799.9" cy="117.9" rx="17.8" ry="9.9" fill="#000" fill-opacity="0.28" transform="rotate(20.1 799.9 117.9)"/><ellipse cx="874.9" cy="156.3" rx="15.7" ry="6.1" fill="#000" fill-opacity="0.19" transform="rotate(19.5 874.9 156.3)"/><ellipse cx="808.9" cy="228.3" rx="14" ry="9.4" fill="#000" fill-opacity="0.21" transform="rotate(-19.4 808.9 228.3)"/><ellipse cx="712.5" cy="288.5" rx="13" ry="9.1" fill="#000" fill-opacity="0.34" transform="rotate(-9.4 712.5 288.5)"/><ellipse cx="901.5" cy="262.1" rx="13.1" ry="8.1" fill="#000" fill-opacity="0.27" transform="rotate(-2.7 901.5 262.1)"/><ellipse cx="679.4" cy="192.5" rx="16.6" ry="7" fill="#000" fill-opacity="0.25" transform="rotate(-7.6 679.4 192.5)"/><ellipse cx="715.5" cy="307.5" rx="15.3" ry="6.3" fill="#000" fill-opacity="0.28" transform="rotate(-9 715.5 307.5)"/><ellipse cx="744.7" cy="41.5" rx="14" ry="7.4" fill="#000" fill-opacity="0.32" transform="rotate(-22.8 744.7 41.5)"/><ellipse cx="809" cy="150.1" rx="14.4" ry="6.3" fill="#000" fill-opacity="0.35" transform="rotate(1.5 809 150.1)"/><ellipse cx="696.7" cy="59.9" rx="16.1" ry="6.1" fill="#000" fill-opacity="0.30" transform="rotate(-11.6 696.7 59.9)"/><ellipse cx="735.3" cy="320.5" rx="9.4" ry="6.7" fill="#000" fill-opacity="0.15" transform="rotate(-8.1 735.3 320.5)"/><ellipse cx="622.5" cy="19.9" rx="14.8" ry="9.8" fill="#000" fill-opacity="0.19" transform="rotate(6.1 622.5 19.9)"/><ellipse cx="997" cy="63.2" rx="9.5" ry="8" fill="#000" fill-opacity="0.16" transform="rotate(4.8 997 63.2)"/><ellipse cx="942.4" cy="292.4" rx="9.1" ry="8.2" fill="#000" fill-opacity="0.28" transform="rotate(-2.9 942.4 292.4)"/><ellipse cx="668.1" cy="203" rx="9.5" ry="8.7" fill="#000" fill-opacity="0.17" transform="rotate(-29.9 668.1 203)"/><ellipse cx="951.3" cy="115.3" rx="12.1" ry="8.1" fill="#000" fill-opacity="0.27" transform="rotate(-28.9 951.3 115.3)"/><ellipse cx="936" cy="324.4" rx="11" ry="7.1" fill="#000" fill-opacity="0.22" transform="rotate(9.6 936 324.4)"/><ellipse cx="813" cy="187.7" rx="14.1" ry="7" fill="#000" fill-opacity="0.28" transform="rotate(1.9 813 187.7)"/><ellipse cx="854.7" cy="214.1" rx="17.8" ry="6.5" fill="#000" fill-opacity="0.28" transform="rotate(5.6 854.7 214.1)"/><ellipse cx="658.5" cy="126.3" rx="10.5" ry="8.2" fill="#000" fill-opacity="0.33" transform="rotate(-14.1 658.5 126.3)"/><ellipse cx="785.7" cy="72.9" rx="12.1" ry="10" fill="#000" fill-opacity="0.37" transform="rotate(-8.3 785.7 72.9)"/><ellipse cx="734.3" cy="64.8" rx="16.8" ry="9.7" fill="#000" fill-opacity="0.16" transform="rotate(-3.1 734.3 64.8)"/><ellipse cx="759.3" cy="83.5" rx="14.6" ry="9.3" fill="#000" fill-opacity="0.24" transform="rotate(28.9 759.3 83.5)"/><ellipse cx="847.4" cy="84.4" rx="14.8" ry="6.5" fill="#000" fill-opacity="0.25" transform="rotate(4.8 847.4 84.4)"/><ellipse cx="668.4" cy="40.3" rx="11.8" ry="9.4" fill="#000" fill-opacity="0.20" transform="rotate(-1.7 668.4 40.3)"/><ellipse cx="848" cy="66.1" rx="11.7" ry="9.5" fill="#000" fill-opacity="0.35" transform="rotate(3.5 848 66.1)"/><ellipse cx="854.8" cy="7.6" rx="10.4" ry="7.4" fill="#000" fill-opacity="0.16" transform="rotate(-3 854.8 7.6)"/><ellipse cx="849.4" cy="222.4" rx="14.1" ry="8" fill="#000" fill-opacity="0.36" transform="rotate(-15.5 849.4 222.4)"/><ellipse cx="716.1" cy="83" rx="11" ry="9.5" fill="#000" fill-opacity="0.26" transform="rotate(24.7 716.1 83)"/><ellipse cx="795.5" cy="131.8" rx="14.2" ry="6.1" fill="#000" fill-opacity="0.27" transform="rotate(-8.9 795.5 131.8)"/><ellipse cx="794.4" cy="138.2" rx="14.6" ry="8.6" fill="#000" fill-opacity="0.15" transform="rotate(1.4 794.4 138.2)"/><ellipse cx="765.8" cy="126.8" rx="9.9" ry="9.2" fill="#000" fill-opacity="0.19" transform="rotate(-14.5 765.8 126.8)"/><ellipse cx="728.6" cy="303.2" rx="12.8" ry="6.6" fill="#000" fill-opacity="0.20" transform="rotate(-11.6 728.6 303.2)"/><ellipse cx="937.4" cy="6.7" rx="10.4" ry="8.9" fill="#000" fill-opacity="0.17" transform="rotate(5.1 937.4 6.7)"/><ellipse cx="944.6" cy="155.5" rx="15" ry="8.2" fill="#000" fill-opacity="0.37" transform="rotate(28.2 944.6 155.5)"/><ellipse cx="840.3" cy="241.5" rx="15" ry="9.3" fill="#000" fill-opacity="0.25" transform="rotate(8.9 840.3 241.5)"/><ellipse cx="765.5" cy="285" rx="16.2" ry="7.3" fill="#000" fill-opacity="0.29" transform="rotate(29.2 765.5 285)"/><ellipse cx="900.3" cy="78.3" rx="12.8" ry="6.3" fill="#000" fill-opacity="0.22" transform="rotate(18.3 900.3 78.3)"/><ellipse cx="665.8" cy="206.2" rx="15.6" ry="9.8" fill="#000" fill-opacity="0.26" transform="rotate(-26.6 665.8 206.2)"/><ellipse cx="768.3" cy="217.8" rx="15.6" ry="9.4" fill="#000" fill-opacity="0.17" transform="rotate(-4 768.3 217.8)"/><ellipse cx="898.5" cy="94.4" rx="16.1" ry="9.9" fill="#000" fill-opacity="0.23" transform="rotate(6.5 898.5 94.4)"/><ellipse cx="610.2" cy="224" rx="17.5" ry="9.1" fill="#000" fill-opacity="0.23" transform="rotate(25.6 610.2 224)"/><ellipse cx="591.8" cy="189" rx="8.6" ry="7.6" fill="#000" fill-opacity="0.22" transform="rotate(-22.5 591.8 189)"/><ellipse cx="960.7" cy="270.3" rx="13.3" ry="6.7" fill="#000" fill-opacity="0.28" transform="rotate(-16.5 960.7 270.3)"/><ellipse cx="822" cy="224.8" rx="17.4" ry="7" fill="#000" fill-opacity="0.22" transform="rotate(-18.8 822 224.8)"/><ellipse cx="988.6" cy="267.4" rx="11.5" ry="7.7" fill="#000" fill-opacity="0.36" transform="rotate(5 988.6 267.4)"/><ellipse cx="838.3" cy="138.9" rx="13.9" ry="6" fill="#000" fill-opacity="0.19" transform="rotate(20.4 838.3 138.9)"/><ellipse cx="980" cy="188.6" rx="14.6" ry="7.7" fill="#000" fill-opacity="0.24" transform="rotate(5 980 188.6)"/><ellipse cx="920.3" cy="301.6" rx="10.5" ry="7.8" fill="#000" fill-opacity="0.26" transform="rotate(14.9 920.3 301.6)"/><ellipse cx="958.5" cy="322.6" rx="14.7" ry="8.4" fill="#000" fill-opacity="0.18" transform="rotate(-26.4 958.5 322.6)"/><ellipse cx="599.6" cy="207.6" rx="13.8" ry="6.2" fill="#000" fill-opacity="0.37" transform="rotate(11.4 599.6 207.6)"/><ellipse cx="881.1" cy="86.5" rx="11" ry="8.2" fill="#000" fill-opacity="0.23" transform="rotate(2.5 881.1 86.5)"/><ellipse cx="866.3" cy="201.3" rx="11.2" ry="10" fill="#000" fill-opacity="0.21" transform="rotate(3.5 866.3 201.3)"/><ellipse cx="751.9" cy="17.3" rx="11.5" ry="8.6" fill="#000" fill-opacity="0.37" transform="rotate(-6.2 751.9 17.3)"/></g><g filter="url(#b4)"><ellipse cx="596" cy="129" rx="8" ry="15" fill="#fff" fill-opacity="0.27"/><ellipse cx="597" cy="160" rx="9" ry="13" fill="#fff" fill-opacity="0.35"/><ellipse cx="652" cy="204" rx="11" ry="7" fill="#fff" fill-opacity="0.27"/><ellipse cx="693" cy="226" rx="10" ry="7" fill="#fff" fill-opacity="0.24"/><ellipse cx="743" cy="191" rx="12" ry="7" fill="#fff" fill-opacity="0.27"/><ellipse cx="784" cy="214" rx="13" ry="7" fill="#fff" fill-opacity="0.27"/><ellipse cx="778" cy="232" rx="8" ry="9" fill="#fff" fill-opacity="0.24"/><ellipse cx="714" cy="162" rx="9" ry="8" fill="#fff" fill-opacity="0.24"/><ellipse cx="772" cy="276" rx="11" ry="7" fill="#fff" fill-opacity="0.27"/><ellipse cx="817" cy="276" rx="11" ry="7" fill="#fff" fill-opacity="0.27"/><ellipse cx="850" cy="249" rx="9" ry="8" fill="#fff" fill-opacity="0.27"/><ellipse cx="871" cy="226" rx="9" ry="8" fill="#fff" fill-opacity="0.32"/><ellipse cx="893" cy="200" rx="11" ry="7" fill="#fff" fill-opacity="0.27"/><ellipse cx="935" cy="212" rx="7" ry="13" fill="#fff" fill-opacity="0.27"/><ellipse cx="887" cy="160" rx="10" ry="10" fill="#fff" fill-opacity="0.20"/><ellipse cx="916" cy="294" rx="11" ry="7" fill="#fff" fill-opacity="0.30"/><ellipse cx="609" cy="309" rx="9" ry="11" fill="#fff" fill-opacity="0.30"/><ellipse cx="990" cy="315" rx="11" ry="9" fill="#fff" fill-opacity="0.30"/><ellipse cx="978" cy="208" rx="9" ry="7" fill="#fff" fill-opacity="0.24"/><ellipse cx="615" cy="200" rx="9" ry="7" fill="#fff" fill-opacity="0.22"/><ellipse cx="683" cy="266" rx="11" ry="7" fill="#fff" fill-opacity="0.22"/><ellipse cx="821" cy="303" rx="9" ry="7" fill="#fff" fill-opacity="0.24"/><ellipse cx="879" cy="299" rx="9" ry="7" fill="#fff" fill-opacity="0.24"/><ellipse cx="1007" cy="200" rx="7" ry="9" fill="#fff" fill-opacity="0.24"/><ellipse cx="772" cy="11" rx="11" ry="7" fill="#fff" fill-opacity="0.30"/><ellipse cx="797" cy="36" rx="11" ry="8" fill="#fff" fill-opacity="0.30"/><ellipse cx="677" cy="53" rx="15" ry="8" fill="#fff" fill-opacity="0.19"/><ellipse cx="706" cy="48" rx="9" ry="7" fill="#fff" fill-opacity="0.16"/><ellipse cx="753" cy="57" rx="9" ry="7" fill="#fff" fill-opacity="0.16"/><ellipse cx="865" cy="14" rx="13" ry="7" fill="#fff" fill-opacity="0.27"/><ellipse cx="807" cy="35" rx="9" ry="7" fill="#fff" fill-opacity="0.27"/><ellipse cx="999" cy="29" rx="9" ry="9" fill="#fff" fill-opacity="0.32"/><ellipse cx="935" cy="65" rx="15" ry="7" fill="#fff" fill-opacity="0.27"/><ellipse cx="859" cy="42" rx="9" ry="7" fill="#fff" fill-opacity="0.16"/><ellipse cx="900" cy="150" rx="13" ry="8" fill="#fff" fill-opacity="0.27"/><ellipse cx="933" cy="146" rx="9" ry="7" fill="#fff" fill-opacity="0.22"/><ellipse cx="693" cy="152" rx="9" ry="7" fill="#fff" fill-opacity="0.19"/><ellipse cx="636" cy="110" rx="7" ry="21" fill="#fff" fill-opacity="0.16"/><ellipse cx="664" cy="115" rx="7" ry="21" fill="#fff" fill-opacity="0.14"/><ellipse cx="600" cy="70" rx="7" ry="9" fill="#fff" fill-opacity="0.14"/></g><g filter="url(#b6)" fill="none" stroke-linecap="butt"><path d="M603.6 74.1L606.8 73.2M605.9 73.4L610.5 72.4M609.7 72.5L612.4 72.2M611.7 72.2L614.7 71.9M614 72L617.1 71.7M616.4 71.7L619.3 71.6M618.6 71.6L622.2 71.6M621.4 71.6L624.8 71.7M624.1 71.7L627.4 72M626.6 71.9L630.1 72.7M629.3 72.5L632.6 73.5M632 73.3L634.3 74.1" stroke="#fff" stroke-width="26" stroke-opacity="0.24"/><path d="M629.6 84.1L630.5 87.7M630.3 86.9L631.1 90.4M630.9 89.7L631.4 92.5M631.3 91.8L631.7 94.6M631.6 93.9L631.9 96.8M631.8 96.1L632.2 99.1M632.1 98.4L632.6 101.6M632.4 100.8L633.1 104.4M632.9 103.7L633.5 106.4" stroke="#fff" stroke-width="26" stroke-opacity="0.12"/><path d="M627.9 77.8L628.5 79.8M628.3 79.3L629.1 82.2M628.9 81.4L629.8 84.9M633.3 105.7L634 108.7M633.8 108L634.5 111.1M634.3 110.4L635 113.7M634.9 112.9L635.6 116.2M635.5 115.5L636.2 118.7M636.1 118L636.9 121.1M636.7 120.4L637.5 123.3M637.3 122.7L638.1 125.3M637.9 124.6L639.1 128.1" stroke="#fff" stroke-width="26" stroke-opacity="0.16"/><path d="M638.8 127.3L640.1 130.5" stroke="#fff" stroke-width="26" stroke-opacity="0.20"/><path d="M639.8 129.8L641.2 132.6M640.8 132L642.2 134.6M641.9 134.1L643.2 136.5M642.9 135.9L644.1 138.3M643.8 137.6L645.6 140.8M645.2 140.1L646.9 142.9M646.5 142.3L648.1 144.7M647.8 144.2L649.2 146.2M648.8 145.6L650.8 148.8M650.3 148.2L652.2 150.2M651.7 149.9L654.5 150.9M653.9 150.7L656.3 151" stroke="#fff" stroke-width="26" stroke-opacity="0.24"/><path d="M658.9 128.6L659.8 125.3M659.6 126.1L660.6 122.7M660.4 123.5L661.3 120.1M661.1 120.9L662.1 117.6M661.9 118.3L662.8 115.4M662.6 116.1L663.6 113.1M663.3 113.8L664.3 110.7M664.1 111.4L665.1 108.3M664.9 109L665.9 106M665.7 106.7L666.7 103.8M666.4 104.4L667.4 101.6M667.2 102.3L668.1 99.7" stroke="#fff" stroke-width="26" stroke-opacity="0.16"/><path d="M656.9 135.3L657.8 132.6M657.6 133.2L658.4 130.3M658.2 131L659.1 127.8M667.8 100.4L669.2 96.7" stroke="#fff" stroke-width="26" stroke-opacity="0.20"/><path d="M652.9 146.2L653.6 144.4M653.4 144.9L654.4 142.4M654.1 143L655.3 140M655 140.7L656.2 137.4M655.9 138.2L657.1 134.6M668.9 97.5L670.1 94M669.8 94.8L671 91.6M670.8 92.3L672 89.5M671.7 90.1L673.2 87.7M672.7 88.4L675.5 85.3M674.8 85.9L678 83.9M677.2 84.2L680.4 83.5M679.6 83.5L682.7 84.5M682 84.1L685.1 86.4M684.4 85.9L687.3 88.3M686.7 87.8L689.5 89.9M688.9 89.4L691.6 91.6M691 91.1L693.7 93.1M693 92.7L696.2 94.7M695.5 94.3L698.6 96.2M698 95.8L700.3 97.2" stroke="#fff" stroke-width="26" stroke-opacity="0.24"/><path d="M694.8 147.2L696.9 145.6M696.3 146.1L699.4 143.8M698.7 144.3L702.1 142M701.3 142.4L704.3 140.8M703.6 141.1L706.9 140.4M706.1 140.5L709.1 140.5M708.4 140.5L711.3 140.5M710.6 140.5L713.8 140.4M713.1 140.5L716.3 140.2M715.6 140.4L718.3 138.8M717.9 139.2L719.1 137.1M718.9 137.7L720 134.8M719.7 135.5L720.7 132.3M720.5 133L721.4 129.8M721.2 130.5L722.1 127.7M721.9 128.3L723 125.5M722.7 126.1L723.8 123.5M723.5 124.1L724.6 121.6M724.3 122.2L725.7 119.5M725.3 120.1L726.9 117.2M726.5 117.9L728.3 114.8M727.9 115.5L729.8 112.3M729.3 113L731.2 109.6M730.8 110.3L732.3 107.3M732 108.1L733.5 104.8M733.1 105.6L734.7 102.3M734.3 103L735.9 99.8M735.5 100.5L737.2 97.7M736.8 98.4L738.9 95.1M738.4 95.8L740.6 92.8M740.1 93.4L742.4 90.9M741.9 91.4L744.3 89.6M743.6 89.9L747.1 89.1M746.2 89.1L749.9 89.5M749.1 89.4L752.4 90.1M751.6 89.9L754.7 90.7M754 90.5L756.8 91.5M756.3 91.3L758.2 92.1" stroke="#fff" stroke-width="26" stroke-opacity="0.24"/><path d="M757.6 135.1L761.1 134.5M760.2 134.6L764.5 133.9M763.6 134L766.8 133.8M766.1 133.9L769.4 133.1M768.7 133.3L771.5 132M770.8 132.4L773.8 130.6M773.1 131.1L776.4 128.7M775.8 129.2L777.9 127.5M777.4 127.9L779.7 125.9M779.1 126.4L781.4 124.2M780.9 124.7L783.1 122.4M782.6 123L784.6 120.5M784.2 121.1L785.9 118.5M785.5 119.1L787 116.3M786.7 117L788.1 114.1M787.8 114.7L789.1 111.8M788.8 112.5L790.2 109.7M789.8 110.4L791.5 106.9M791.1 107.7L792.7 104.1M792.3 104.9L793.9 101.6M793.5 102.3L795.2 99.7M794.7 100.2L797.2 98.1M796.6 98.5L799.2 97.4M798.6 97.6L801.3 96.9M800.6 97.1L803.7 96.4M803 96.5L806.1 96.3M805.4 96.3L808.3 97.1M807.7 96.8L810.1 98.8M809.6 98.2L811.7 101.3M811.2 100.5L813.2 104.5M812.9 103.7L814.1 106.6M813.8 105.8L814.9 109.2M814.7 108.4L815.8 112M815.5 111.2L816.7 114.7M816.4 113.9L817.6 117.1M817.3 116.3L818.9 119.8M818.6 119L820.2 122.3M819.8 121.6L821.6 124.5M821.2 123.9L823.2 126.3M822.6 125.7L825.9 128M825.1 127.6L828.7 128.9M827.9 128.7L831.4 129M830.6 129.1L833.7 128.3M833 128.6L836 126.8M835.3 127.3L838.4 124.7M837.8 125.2L839.7 123.2M839.3 123.7L841.3 121.3M840.8 121.9L842.9 119.2M842.4 119.8L844.3 117.1M843.9 117.7L845.7 115.3M845.3 115.9L847.2 113.2M846.8 113.8L848.6 111.3M848.2 111.9L849.8 109.5M849.4 110L851.2 107.7M850.7 108.3L853.2 105.4M852.6 106.1L855.1 103.4M854.5 104L857.1 101.7M856.5 102.2L859.4 100.5M858.7 100.8L861.7 99.5M861.1 99.8L863.2 98.9" stroke="#fff" stroke-width="26" stroke-opacity="0.24"/><path d="M871.8 111.8L873.6 113.7M873.1 113.2L875.7 116M875.1 115.3L877.9 118.3M877.3 117.6L879.9 120.1M879.3 119.5L882.2 121.9M881.5 121.4L884.3 123.2M883.6 122.8L886.3 124.2M885.6 123.9L889.4 125M888.5 124.9L892.5 125M891.7 125L894.7 124.6M894 124.8L897.1 123.9M896.4 124.2L899.3 122.8M898.7 123.2L901.3 121.5M900.7 121.9L903.1 119.8M902.6 120.3L904.6 117.7M904.3 118.3L905.5 115.9M905.3 116.5L906.3 113.7M906 114.3L907.1 111.5M906.8 112.1L908.2 109.7M907.7 110.3L910 107.6M909.4 108.2L912.1 106M911.4 106.4L914.3 104.8M913.6 105.1L916.9 104.3M916.1 104.4L919.7 104.3M918.8 104.3L922.4 104.3M921.6 104.3L925.2 104.2M924.3 104.2L927.9 104.3M927.2 104.3L930.4 104.3M929.6 104.3L933.3 104.2M932.5 104.2L935.8 104.3M934.9 104.2L939 104.7M938.2 104.6L941.4 105.1" stroke="#fff" stroke-width="26" stroke-opacity="0.24"/><path d="M943.7 125.1L946.5 124.3M945.8 124.5L949.4 123.4M948.6 123.6L951.9 122.7M951.1 122.9L954.4 121.8M953.6 122.1L956.8 120.4M956.1 120.9L959.4 118.8M958.8 119.2L960.9 117.5M960.4 117.9L962.6 116M962.1 116.5L964.7 114.4M964.1 114.8L966.6 112.9M966 113.3L968.7 111.1M968 111.6L970.9 109.5M970.2 109.9L973 108.2M972.3 108.6L976 107.1M975.2 107.4L978.9 106.5M978.1 106.7L981.4 106.2M980.6 106.3L984.1 106.4M983.3 106.3L986.3 107.1M985.6 106.8L989.1 108.2M988.3 107.9L991.7 109.6M991 109.2L994 110.8M993.3 110.4L996.4 112.2M995.7 111.8L998 113.4M997.5 113L999.9 114.7M999.3 114.4L1001.9 115.9M1001.3 115.6L1003.9 116.8M1003.3 116.5L1006 117.5M1005.4 117.3L1008.3 118.1M1007.6 117.9L1011.3 118.5M1010.4 118.4L1014.3 118.8M1013.5 118.8L1016.3 119" stroke="#fff" stroke-width="26" stroke-opacity="0.24"/></g><g filter="url(#b3)"><path d="M738.3 3.1h2.2M655.9 12.4h4.7M849.8 11.5h7.7M884.8 15.9h5.9M608 40.2h4.8M747.7 78.1h7M670.1 103h4.9M652.3 121.6h6.2M600.7 145.6h2.4M585.3 172.2h3.7M652.8 173.6h3.9M811 193.5h2.9M1012 190.1h3.3M612.5 208.6h2.6M900.2 202.2h3.2M973.9 259.8h7.6M589.4 278.3h3.8M901.5 319.6h2.1" stroke="#000" stroke-width="10" stroke-opacity="0.20" stroke-linecap="round" fill="none"/><path d="M888.9 5.6h1.6M741.9 18.9h5.6M862.3 16.6h7.5M679.6 27.2h5.3M748.9 27.1h2.9M641 47.3h2M747.6 43.7h6M933.6 49.2h1.7M841.5 61.6h4.1M652.7 77.7h6.1M797.6 104.6h3M829.5 98.6h2.6M840 105.9h5.8M750.4 141.7h4.9M767.3 147.8h1.9M604.4 156.6h7.7M691.9 158.8h5.4M894.4 159.9h5.5M635.4 177.2h3M663.5 190.1h2.4M741.4 187.4h7.7M635.1 201.1h6.7M673.3 199.6h2M756.7 199.8h2M826.1 217.1h2.2M998.5 218.4h4.2M602.2 234.2h3.2M754.3 228.7h5.8M968.2 238.5h3.8M611.8 243.6h4.6M933.9 248.5h6.8M737.9 262.6h5.7M666.5 288.1h5M709.1 339.4h6.6M968.2 334.9h5.6" stroke="#000" stroke-width="10" stroke-opacity="0.30" stroke-linecap="round" fill="none"/><path d="M598.2 -1.2h6.9M706.6 3.3h5M621.9 20.9h2.9M984.4 11.9h3.5M766.5 48.7h3.3M722.6 60.5h6.6M888 83.8h2.4M773.7 107.5h2.1M805.7 106.5h5.3M734.5 116.4h7M748.9 114.4h5.8M824.2 115.3h2.8M984.2 132.3h3M655.2 147.8h4.7M872.3 180.5h3.9M913.3 188.4h5.3M877.1 231.5h1.8M711.8 245.7h6.1M916.8 277.7h5.3M944.7 276.1h4.5M723.7 295.3h5.1M607.1 303.4h5.6M616.8 320.5h6.8M935.3 322.7h6" stroke="#000" stroke-width="10" stroke-opacity="0.40" stroke-linecap="round" fill="none"/><path d="M688.8 3h3.6M940.1 2.5h1.7M696 11.6h6.5M918.1 26h6.8M860.7 43.6h1.3M918.8 56.4h3.4M705.1 71.8h3M951.6 75.3h7M599.5 84.7h2M671.2 87.6h1.5M918 89.6h5M603.3 119h3.8M636.6 120.1h4.2M838.1 117.6h6.6M900.1 114h3.5M1009.9 137h5.3M630.9 141.7h2.3M657.8 161.5h6.9M670.9 170.8h3.5M709.3 188.4h3M716.7 205.3h7M868.6 209h5.7M638.7 214.9h4.4M696.9 220.4h2.9M877.6 245.5h6.4M593.2 258.6h5.9M703.8 264.3h2.6M776.6 264.9h1.3M946.4 261.5h1.6M925.4 294.4h2.3M707.9 306.6h2.1M900.9 308.6h2.3M983.6 309h5.1M1016 303.8h4.1M927.6 321.1h1.9M647.6 335.2h4.7" stroke="#000" stroke-width="11" stroke-opacity="0.20" stroke-linecap="round" fill="none"/><path d="M644.9 4.8h7.2M670 2.2h2.6M786.3 1.5h2.1M841.5 5.6h4.9M909 -2.1h1.9M806.6 17.8h3.1M780.8 26.8h5.2M822.5 28.6h1.6M905.9 30.6h3.1M956 31.8h3.1M862.7 78.1h2.4M761.5 99.6h6.1M914.2 107.5h2.1M588.8 120.6h3M810.5 119h1.9M972.7 115.6h6.8M606.4 128.4h4.1M749.7 135.1h1.1M894.1 131.1h1.4M619.7 148h7.1M661.8 144.7h5.3M991.6 144.3h3.6M594.1 162.9h1.8M681 160.7h5.8M708.5 162.2h2.1M1021.2 160.9h1.8M595.4 178.5h4.8M853.3 177.6h1.9M607.2 187.2h4.3M824.6 190.7h3.3M930.3 186.9h1.8M951 187h1.3M856 205.4h1.7M671.3 214.5h1.7M716 217.1h3.2M888.9 238.2h1.5M941.5 235.6h3.3M660.2 248.9h5.6M967.2 250.8h3.4M653.7 265h1.7M791 265.6h6.8M821.3 258.3h2.1M664.9 280.4h1.1M964.5 281.9h3.5M614.8 296h1.5M690.8 306.9h2M745.3 305.8h6.3M883.9 304.5h3.8M910.9 305.4h6.9M925.1 301.7h5.9M583.7 316.2h4.7M732.6 317.9h2.5M754.4 317.3h2.6M689.3 333.4h2.3M818 330.7h2.4M843.9 339.6h1.3" stroke="#000" stroke-width="11" stroke-opacity="0.30" stroke-linecap="round" fill="none"/><path d="M610.3 1.2h5.6M637.9 14h4.1M892.3 11.4h2.7M917.8 11.6h5.1M971.1 15.8h3.8M722.5 25.7h2.6M708.3 59.5h1.7M738.7 59.5h5.7M792.6 54.9h1.6M1002.8 62.1h2.5M693.3 77h3.7M911 70.7h6.2M957.6 87.4h1.6M682.5 119.8h3.8M620.4 135.7h4.9M762.2 131.5h3.6M689 149.7h4.9M836.2 147.7h3.3M850.2 142.7h4M784.1 160.9h2.3M637.8 189.5h4.3M728.3 194.3h4.2M865.6 188.3h6M594.4 208.2h2.9M934 200.6h6.6M1011.8 217.2h4.7M1004.8 238h1.7M681.2 251.3h1.6M985.5 250.5h6.1M956.9 290h4.6M624.3 332.2h1.7" stroke="#000" stroke-width="11" stroke-opacity="0.40" stroke-linecap="round" fill="none"/><path d="M714.6 5.9h1.9M765.7 34.7h5.6M999.8 40.5h5.2M803.2 63.4h2.5M1019.8 69.5h3.1M934.7 83.6h4.2M749.2 106.9h5.2M983.9 105.3h3.2M999.8 104h0.8M886.4 116.9h4.4M926.8 143.3h3M976 146.4h1.3M1004.8 147.9h1.7M818.1 159.7h0.8M995 159.6h3.4M687.4 176.8h3.7M730.6 172.2h3.1M920.8 174.3h4.7M1003 208.9h4.9M841.3 236.6h4.6M874.9 266.7h4.5M1004.9 259.7h4.3M758.5 273.8h4.4M824.5 281.2h2.9M882.4 281.4h1.7M821.8 291h2.7M675.7 303.4h5.8M671.3 321.7h4.9M716.7 324.5h4.7M851.5 322.8h0.9M741.2 337h0.1" stroke="#000" stroke-width="12" stroke-opacity="0.20" stroke-linecap="round" fill="none"/><path d="M859.6 -0.3h2.2M632.6 31.8h2.4M799.4 32.5h2.8M944.3 27.4h1.8M659.7 43.1h3M800.7 42.2h4.4M944 44.5h3.3M754.8 54.7h0.8M766.8 61.3h4.6M822.3 58.4h2.3M589.3 76.3h1.6M675.6 77.2h6M978.2 71h1.9M853.5 86.1h5.4M905.7 88.3h4.5M988.9 92.4h1.5M595 104.2h2.5M622.8 101.5h5.3M690.8 100.7h3.2M864.6 104.7h1M936.7 103.5h3.9M949.8 105.4h0.7M965.2 107.6h2.2M989.1 115.5h3.1M705.4 135.4h6.4M721.7 127.9h5.6M782.5 127.5h5M795.7 132.9h2.2M914.3 136.3h4M1003 136.4h3.6M584.9 149.8h4M945.4 151h3.7M628.3 164.8h0M792.6 161.1h4.8M701 178.2h4.7M755.8 177.8h4.9M909.8 177.3h0.2M893.8 193.5h1.3M956 209.5h3.3M623.5 215.7h3.7M962.7 216.8h0.4M582.2 236h1.1M613.7 232.5h4.9M851.3 238h1.2M593 252.3h1.8M689.5 246h4.3M894 251.3h2.4M1020.2 248.6h1.9M612.9 260.8h0.7M842 264h2.5M889 263.4h1.7M958.4 265.6h5.3M988.6 259.6h3.7M627.9 277.9h5.1M699.4 281.3h0.5M745.5 276.1h1.5M929.9 272.6h0.6M578.6 294.7h2.8M703.4 292.1h4M630.1 305.5h3.9M782.2 310.2h4.8M702.4 317.5h5.8M770.6 324.8h3.5M895.3 318.7h2.4M955.9 323.8h5.6M734.6 333h0M996.3 338.9h0" stroke="#000" stroke-width="12" stroke-opacity="0.30" stroke-linecap="round" fill="none"/><path d="M801.9 -0.4h5M826 -1.7h4.6M672.5 18.6h3.3M838.5 31.5h1.4M889.3 29.2h5.2M595.1 47.5h4.7M709.8 47.2h3.8M732.8 74.3h1M901.6 77.1h1.2M995.1 71.7h0.1M861.2 121.7h1.9M941.7 117.1h1.6M867.1 131.3h0M873.7 127.8h5.3M934.3 135.9h4.2M722.4 142h5.6M871.5 150.9h1.2M908.9 143.3h4.2M885.6 156.2h2M820 172.2h2.7M980.2 177.8h0.7M697.9 185.3h2.6M782.5 189.9h5.9M980 194.1h4M747 222.8h1.6M852.3 219.5h1.1M913.3 222.2h0.6M725.1 234.2h0.6M911.1 233.7h1.7M957.6 238h0M990.7 237.3h3.1M678.2 257.5h5.7M903.1 263.4h4.5M782.2 278.3h2.5M1014.4 277.3h0.1M639.1 294.8h1.6M808 296.4h1.5M838.5 296.1h4.7M853.2 293.1h2.1M874.4 292.4h1.9M937.2 288.5h0.9M647.4 302.6h3.7M661.5 301.7h6.2M832.3 306.3h2.4M656.7 324.7h0.7M880 333.9h2.3" stroke="#000" stroke-width="12" stroke-opacity="0.40" stroke-linecap="round" fill="none"/><path d="M954.8 0.9h5M586.5 19.9h1.7M727.8 12.5h4.8M782.8 15.9h3.2M834.2 19.6h0M902.3 64.2h0.1M641.7 75.3h1.1M773.7 72.8h3M846.6 78.7h2.7M933.1 70.2h0.6M715.2 83.7h0M971.8 92.6h4.7M1013.9 84.8h0.1M665.2 106.9h0.2M717.2 119.1h4.2M782.2 147.3h4.1M646.7 165.7h0M743.8 162h0.5M756.8 158.3h3.7M935.8 157.4h4.1M849.4 191.3h3M984.6 202.4h4.4M989.9 217.3h0M738.9 231.2h1M791.4 236.2h0M843.9 247.5h3.5M1000.6 251.6h5.4M639.8 262.7h3.3M806.7 264.3h0.4M793.3 279.7h4.3M849.7 273h3.8M1005.4 295.7h0M793.2 306.9h4.4M596 324.7h0.9M635.2 317.6h3.3M689.1 320h3.9M976 322.8h1.5M1006.4 325.1h2.9M777.9 338.8h4.6M856.8 338h4.4" stroke="#000" stroke-width="13" stroke-opacity="0.20" stroke-linecap="round" fill="none"/><path d="M584.4 -3h3.4M636.1 0.2h2.5M877.3 0.5h1.6M970 -2.8h1.9M987.6 5.1h0.1M762.7 18.8h2.3M802 14h0M927.8 11.5h4.4M579.7 33.6h4.9M668.3 30.4h1.3M698.4 31.6h0.6M851.3 28.2h4.4M973.4 30.2h3.6M996.7 32.1h0.3M777.5 45.8h3.6M810 46.5h0M826.7 41.2h5.1M848.9 40.9h1.7M970.1 48.3h4.7M989.7 40.9h0M1014.8 42h0M585.5 61.4h3.6M661.8 55.6h3.9M681.8 62h2.8M989.9 58.3h4.2M628.8 72.3h1.7M807 71.3h3.5M876.3 78.5h0.2M581.2 86.7h0M636.8 88h0.6M702.5 86.1h0M752.7 91.6h0M791.7 90.5h1.1M714 106.2h1M773.1 120.1h4.1M1005.7 113.9h2.6M592.8 129.9h0.5M676.3 130.7h4.5M731.6 149h4.8M913.6 156.9h2.7M962.2 159.1h0M985.2 160.8h3.9M834.7 179.5h1.8M597 186.4h2.4M670.6 186.9h3.9M969.4 190.7h0.4M689.1 200.8h1.2M814.9 204.9h4.8M885 202.1h1.4M590.3 221.5h0.8M729.9 217.9h0M901.4 222.3h0.3M656 231.5h3.1M805.9 234.9h3M816.6 234.4h4.5M918.3 252.4h4.4M609.3 275.3h2.1M714.6 275h1.4M1002.3 278.6h2.5M680.9 287.1h0M733.9 291h5.2M904.7 291h0M998.2 287.3h0M596.3 305.8h3.9M842.2 308.5h0M963.3 310.3h0.5M781.7 323.5h4.3M841 323.9h0.9M656.7 335.2h3.8M790.2 339.4h2.7M917.8 337.2h1.7M932.2 332.9h3.4" stroke="#000" stroke-width="13" stroke-opacity="0.30" stroke-linecap="round" fill="none"/><path d="M750.7 5.6h3.2M768.1 3.3h5M610.1 12.2h2M1001.6 18.1h0M1009.5 28.4h2.8M727.7 40.7h0.9M894.3 47.3h0M618.9 55.5h1.5M962.4 63.4h0M794.5 73.1h3.1M961.9 77.8h2.8M647.9 87.7h0M771.5 91h4.8M610.7 115.4h4.9M646.7 130.7h0M850.4 128.5h4.9M947 131h3.3M969.6 135.8h1.4M808.5 143.1h3.7M863.8 165h0.6M944.2 160.6h2.3M613.7 170.8h0M894.8 172.3h1.8M937.7 172.9h1.1M994.2 176.9h3.4M583.6 206.4h2.9M837 208.6h4.9M971.7 207.7h1.4M656.8 223.5h1.5M756.7 221.4h4.6M629.9 229h4.8M690.6 231.2h0.1M734.7 249.6h0M744.1 245.1h4.6M762.4 243.1h0.6M663.6 263.8h3.8M718.2 263h0M638.7 272.7h1.4M896.6 280.9h3.9M605.6 294.3h1.4M769.1 286.7h0M892.1 291.4h1.1M726 303.5h0M861.5 310.9h4.2M997.3 301.1h3.1M825.8 321.7h1.8M681.4 330.3h2.6M758.5 338.4h1.7M981.3 330.9h5.2" stroke="#000" stroke-width="13" stroke-opacity="0.40" stroke-linecap="round" fill="none"/><path d="M937.8 55.1h2.4M739.4 90.5h0M827.1 89.9h0M699 145.7h2.3M717.5 177.3h4M790.3 191.7h3.8M800 217.5h0.2M812 215.4h2.2M854 261.5h1.8M684 276.3h0M977.7 290.6h0M943.3 331.1h1.8" stroke="#000" stroke-width="14" stroke-opacity="0.20" stroke-linecap="round" fill="none"/><path d="M948 13.8h4.1M1018.6 16.2h0M732.3 32h3.4M699.2 42.7h0.8M881.9 42.5h0M765 71.6h3.1M612.1 92.1h2M684.1 88h2.2M611.5 106.3h0M731.7 107h0.8M707.6 118.4h3.5M658.7 136.5h1.2M823.7 146.8h0M887.3 147.4h2.1M729.5 165.5h0M952.7 172.5h2.3M625.3 186.6h0M997.1 191.9h0.7M925.7 206h1.1M784.5 217.5h0M766.8 231.9h0M647.5 245.2h3.3M772.6 251.5h3.9M798.3 243.1h2.6M859 250.6h0M580.5 266.9h3M759.9 295.6h0M801.2 319.9h3.6M588.7 332.9h0M613.6 330.8h3.1M898.4 337.3h4.2" stroke="#000" stroke-width="14" stroke-opacity="0.30" stroke-linecap="round" fill="none"/><path d="M867.9 32.5h1.9M597.6 60h2.9M888 56.9h4M834.4 87.1h0M644.1 99.8h3.4M876.9 102.7h0.8M901.9 102.8h0.9M872.4 119h4M689.8 134.6h0M816.3 132.7h2.4M961.9 148.6h3.6M834.7 164h0M788.5 179.7h1.2M1009.2 178.8h2.7M884.2 221.2h0M944.2 221.7h4.3M919.9 232h0M624.4 249.5h1.3M949.4 243.4h3.4M816.1 272.6h1.6M952.6 302.8h3.2M988.6 316.5h3.3" stroke="#000" stroke-width="14" stroke-opacity="0.40" stroke-linecap="round" fill="none"/></g><g filter="url(#b1p5)"><path d="M763.4 18.8h1M783.9 15.9h1M609.6 40.2h1.6M859.9 43.6h2.9M988.1 40.9h3.1M808.2 71.3h1M714.1 83.7h2.2M772.3 91h3.2M893.1 131.1h3.2M663.3 144.7h2.1M852.1 219.5h1.4M844 247.5h3.3M612.3 260.8h2M654.1 265h0.9M754.7 317.3h2" stroke="#000" stroke-width="4.2" stroke-opacity="0.60" stroke-linecap="round" fill="none"/><path d="M612 1.2h2.3M714.5 5.9h2.1M657.6 12.4h1.2M698.1 11.6h2.2M1017.2 16.2h2.7M633.1 31.8h1.4M684.4 88h1.6M645.4 99.8h0.7M914.2 107.5h2.1M592.2 129.9h1.7M677.9 130.7h1.3M984.5 132.3h2.5M992.3 144.3h2.1M863.4 165h1.4M892.9 193.5h3.1M697.5 220.4h1.7M806.6 234.9h1.6M942.1 235.6h2M967.9 250.8h2M699.2 281.3h1M897.2 280.9h2.8M759.4 295.6h1M832.4 306.3h2.2M900.6 308.6h2.9M958.4 323.8h0.7M711.9 339.4h0.9M757.9 338.4h2.8" stroke="#000" stroke-width="4.2" stroke-opacity="0.70" stroke-linecap="round" fill="none"/><path d="M585.1 -3h1.9M969.8 -2.8h2.3M766.8 48.7h2.6M597.9 60h2.3M618 55.5h3.3M682.4 62h1.5M740.1 59.5h2.9M938.3 55.1h1.3M907.4 88.3h1.1M972.6 92.6h2.9M757.7 158.3h2M953.4 172.5h0.9M995 176.9h1.7M698.4 185.3h1.6M785.1 189.9h0.7M968.2 190.7h2.7M990.8 237.3h3M579.2 294.7h1.6M976.4 322.8h0.7M587.6 332.9h2.2M790.2 339.4h2.9M943.6 331.1h1.1" stroke="#000" stroke-width="4.2" stroke-opacity="0.80" stroke-linecap="round" fill="none"/><path d="M786.4 1.5h1.8M800.3 32.5h1M727.4 40.7h1.5M801.9 42.2h2M1000.9 40.5h3M629.2 72.3h0.8M750.5 78.1h1.5M635.4 88h3.2M887.7 83.8h3.1M935.9 83.6h1.8M737.2 116.4h1.6M811 119h0.9M989.5 115.5h2.3M914.5 156.9h0.8M718.9 177.3h1.1M922.4 174.3h1.3M999.9 218.4h1.3M613.4 243.6h1.3M762 243.1h1.5M988 250.5h1M946.5 276.1h0.9M1003.9 295.7h2.9M725.4 303.5h1.3M624.7 332.2h0.8" stroke="#000" stroke-width="4.2" stroke-opacity="0.90" stroke-linecap="round" fill="none"/><path d="M1001 18.1h1.1M838.6 31.5h1.3M778.7 45.8h1.1M774 72.8h2.3M611.8 92.1h2.6M807.1 106.5h2.6M984.2 105.3h2.5M999.7 104h1M874 119h0.8M796.3 132.9h0.9M948.1 131h1.1M621.9 148h2.5M783.4 147.3h1.6M702.6 178.2h1.3M996.5 191.9h1.9M594.9 258.6h2.5M629.1 277.9h2.5M767.9 286.7h2.3M631.2 305.5h1.7M927.1 301.7h1.7M636 317.6h1.6M938.2 322.7h0.3M995.8 338.9h1" stroke="#000" stroke-width="4.8" stroke-opacity="0.60" stroke-linecap="round" fill="none"/><path d="M670.2 2.2h2.2M803.5 -0.4h1.8M827.3 -1.7h1.9M674 18.6h0.3M853 11.5h1.4M828.6 41.2h1.3M933.5 49.2h2.1M972.3 48.3h0.3M792.7 54.9h1.4M823.3 58.4h0.4M991.2 58.3h1.5M733 74.3h0.5M599.3 84.7h2.4M647.2 87.7h1.4M750.6 106.9h2.4M841.5 105.9h2.8M965.5 107.6h1.6M718.8 119.1h0.9M707.2 135.4h2.7M875.3 127.8h2.1M600.6 145.6h2.7M851 142.7h2.4M646.4 165.7h0.6M586.9 172.2h0.4M853.4 177.6h1.7M894.4 172.3h2.6M597.1 186.4h2.1M609 187.2h0.7M930.3 186.9h1.6M757.2 199.8h1.1M1004.7 208.9h1.5M799.9 217.5h0.5M827.1 217.1h0.2M592.7 252.3h2.4M949.8 243.4h2.5M842.9 264h0.6M889.6 263.4h0.5M989 259.6h3M1005.8 259.7h2.5M759.6 273.8h2.1M691.5 306.9h0.6M862.8 310.9h1.6M913.1 305.4h2.4M997.8 301.1h2.1M585.8 316.2h0.5M615.1 330.8h0.2M818.7 330.7h1.1M932.8 332.9h2.4" stroke="#000" stroke-width="4.8" stroke-opacity="0.70" stroke-linecap="round" fill="none"/><path d="M647.2 4.8h2.5M888.4 5.6h2.7M986.5 5.1h2.2M919.8 11.6h1.2M722.8 25.7h1.8M732.9 32h2.2M748.9 27.1h2.9M783.2 26.8h0.5M711.2 47.2h1M809.3 46.5h1.4M1013.6 42h2.4M754.1 54.7h2.2M641.6 75.3h1.4M705.9 71.8h1.3M953.9 75.3h2.3M1021.1 69.5h0.5M738.7 90.5h1.5M1013.3 84.8h1.3M663.9 106.9h3M902.2 102.8h0.3M589.8 120.6h1.2M763.3 131.5h1.4M784.5 127.5h1.1M969.8 135.8h1M698.7 145.7h2.8M724.3 142h1.7M733.4 149h1.2M767.7 147.8h1M809.2 143.1h2.3M946.7 151h1M1004.7 147.9h2M661 161.5h0.5M683.1 160.7h1.6M794.7 161.1h0.6M936.4 157.4h2.8M986.8 160.8h0.8M995.9 159.6h1.5M672.4 170.8h0.5M791.4 191.7h1.7M868.3 188.3h0.6M950.3 187h2.7M936.6 200.6h1.5M640.2 214.9h1.4M988.8 217.3h2.1M877.8 231.5h0.3M889.5 238.2h0.3M733.7 249.6h1.9M744.9 276.1h2.7M919 277.7h0.9M965 281.9h2.6M1002.6 278.6h1.8M1013.7 277.3h1.4M615 296h1.2M977.1 290.6h1.2M649.3 335.2h1.3M917.7 337.2h1.8" stroke="#000" stroke-width="4.8" stroke-opacity="0.80" stroke-linecap="round" fill="none"/><path d="M600.5 -1.2h2.2M860.5 -0.3h0.5M610.4 12.2h1.4M743.3 18.9h2.7M807.1 17.8h2.3M892.3 11.4h2.5M581.1 33.6h2.1M995.4 32.1h2.9M1009.6 28.4h2.5M1003.3 62.1h1.4M795.4 73.1h1.3M901.1 77.1h2.2M932.4 70.2h2.1M701 86.1h3M830.3 98.6h1.1M876.2 102.7h2.1M949.7 105.4h0.9M708 118.4h2.5M840.2 117.6h2.4M901.7 114h0.3M607.9 128.4h1.1M658.8 136.5h1.2M689.7 134.6h0.3M976.5 146.4h0.3M627.4 164.8h1.9M728.9 165.5h1.3M820.9 172.2h1M873.1 180.5h2.3M744.1 187.4h2.3M584 206.4h2.3M613.3 208.6h1M638.3 201.1h0.3M673.6 199.6h1.6M856.1 205.4h1.6M758.2 221.4h1.6M900.1 222.3h3M756.2 228.7h2.1M956.1 238h3M969.2 238.5h1.8M648.9 245.2h0.4M662.8 248.9h0.5M714.1 245.7h1.5M581.8 266.9h0.4M740 262.6h1.6M876.1 266.7h2M610 275.3h0.7M639.1 272.7h0.6M782.6 278.3h1.8M679.7 287.1h2.4M822 291h2.1M874 292.4h2.6M892 291.4h1.4M925.8 294.4h1.7M596.9 305.8h2.6M648 302.6h2.4M783.6 310.2h2.1M840.7 308.5h2.9M954.1 302.8h0.3M927.7 321.1h1.6M857.6 338h2.8M879.9 333.9h2.4" stroke="#000" stroke-width="4.8" stroke-opacity="0.90" stroke-linecap="round" fill="none"/><path d="M770.6 3.3h0M586.6 19.9h1.5M729.8 12.5h0.9M921.1 26h0.8M708.6 59.5h1.1M768.5 61.3h1.2M655.6 77.7h0.3M714.3 106.2h0.4M938.2 103.5h1M684.1 119.8h0.7M1006.6 113.9h0.7M927.7 143.3h1.2M694.1 158.8h1M709 162.2h1M896.2 159.9h1.9M636.3 177.2h1.3M625.1 186.6h0.5M982 194.1h0.1M901.8 202.2h0M971.6 207.7h1.7M784.3 217.5h0.4M913 222.2h1.3M791.4 236.2h0M920.2 252.4h0.5M717.3 263h1.8M825 281.2h1.9M664.2 301.7h0.7" stroke="#000" stroke-width="5.4" stroke-opacity="0.60" stroke-linecap="round" fill="none"/><path d="M637.4 0.2h0M739.2 3.1h0.4M801 14h1.9M834.2 19.6h0M949.8 13.8h0.6M668.1 30.4h1.7M891.5 29.2h0.8M945.2 27.4h0M661.2 43.1h0M849.2 40.9h1.1M881.4 42.5h1M586.9 61.4h0.7M889.7 56.9h0.6M901.2 64.2h2.2M589.1 76.3h2M978.9 71h0.5M994.5 71.7h1.4M989.3 92.4h0.5M624.5 101.5h1.9M861.5 121.7h1.1M752.5 141.7h0.5M595 162.9h0M784.7 160.9h1M818 159.7h0.9M613.5 170.8h0.2M758.2 177.8h0M835.2 179.5h0.9M938 172.9h0.6M664.7 190.1h0M672.6 186.9h0M595.2 208.2h1.4M871 209h1M925.5 206h1.5M957.1 209.5h1.1M986 202.4h1.6M672.1 214.5h0M729.8 217.9h0.3M1014.1 217.2h0.2M690 231.2h1.1M746.4 245.1h0M798.5 243.1h2.2M937.3 248.5h0M776.6 264.9h1.3M854.6 261.5h0.6M961 265.6h0M591.1 278.3h0.3M683.4 276.3h1.2M794.8 279.7h1.1M882.6 281.4h1.4M997.6 287.3h1.1M962.6 310.3h1.8M986.1 309h0M840.9 323.9h1.2M851.9 322.8h0M658.6 335.2h0M844.2 339.6h0.8M971 334.9h0" stroke="#000" stroke-width="5.4" stroke-opacity="0.70" stroke-linecap="round" fill="none"/><path d="M708.4 3.3h1.4M865.2 16.6h1.6M929.9 11.5h0.3M907.2 30.6h0.6M677.6 77.2h1.9M695.1 77h0M833.5 87.1h1.9M855.5 86.1h1.6M958 87.4h0.8M610.5 106.3h2M672.5 103h0M731.9 107h0.5M764.3 99.6h0.3M773.8 107.5h1.8M798.5 104.6h1.2M864.2 104.7h1.7M775 120.1h0.3M646.1 130.7h1.2M817.3 132.7h0.3M1004.7 136.4h0.1M962.8 148.6h1.7M743.9 162h0.4M833.6 164h2.2M689.1 176.8h0.4M731.3 172.2h1.9M812.4 193.5h0M825.2 190.7h2.3M816.8 204.9h1.1M624.8 215.7h1.1M603.8 234.2h0M631.7 229h1M919.7 232h0.3M664.9 263.8h1.2M905.3 263.4h0.3M664.8 280.4h1.3M851.5 273h0.1M638.8 294.8h2.1M668.4 288.1h1.2M705.2 292.1h0.4M736.3 291h0.4M937.3 288.5h0.6M708 306.6h1.9M885.7 304.5h0M656.1 324.7h1.8M673.4 321.7h0.7M705 317.5h0.6M802.5 319.9h1.2M895.4 318.7h2.2M1007.8 325.1h0M681.8 330.3h1.8M689.6 333.4h1.7M734.2 333h0.7M899.8 337.3h1.4" stroke="#000" stroke-width="5.4" stroke-opacity="0.80" stroke-linecap="round" fill="none"/><path d="M689.9 3h1.4M751.7 5.6h1.3M623.1 20.9h0.5M639.2 14h1.4M887.4 15.9h0.7M972.6 15.8h0.7M985.7 11.9h0.7M682.2 27.2h0M822.3 28.6h1.9M956.8 31.8h1.5M699 42.7h1.2M663.3 55.6h0.9M725.6 60.5h0.6M961.9 63.4h1.1M876.1 78.5h0.6M596 104.2h0.5M692.1 100.7h0.6M654.8 121.6h1.3M751.8 114.4h0M942.1 117.1h0.8M976 115.6h0.2M916.1 136.3h0.5M936.4 135.9h0M1011.4 137h2.2M586.3 149.8h1.3M822.7 146.8h1.9M837.8 147.7h0.2M872 150.9h0.1M888 147.4h0.8M945.2 160.6h0.3M1021 160.9h2.2M789.1 179.7h0M1010 178.8h1.2M729.4 194.3h2M1013.1 190.1h1.1M720.1 205.3h0.3M883.4 221.2h1.7M945.4 221.7h1.8M582.3 236h1M657.2 231.5h0.8M738.9 231.2h1.1M911.4 233.7h0.9M624.9 249.5h0.3M691.5 246h0.3M773.6 251.5h1.9M894.2 251.3h2M640.9 262.7h1M806.4 264.3h0.9M822.3 258.3h0M605.3 294.3h2.1M725.7 295.3h0.9M853.1 293.1h2.2M904.1 291h1.1M677.7 303.4h1.8M747.6 305.8h1.6M1017.6 303.8h1.1M690.8 320h0.4M733.4 317.9h0.9M771.5 324.8h1.8" stroke="#000" stroke-width="5.4" stroke-opacity="0.90" stroke-linecap="round" fill="none"/><path d="M877.9 0.5h0.5M909.7 -2.1h0.5M956.9 0.9h0.7M853.5 28.2h0M804.4 63.4h0M752.2 91.6h1.2M792 90.5h0.3M622.9 135.7h0M724.2 127.9h0.6M793.9 265.6h0.8M977.4 259.8h0.6M959 290h0.4M795.4 306.9h0M989.6 316.5h1.4" stroke="#000" stroke-width="6" stroke-opacity="0.60" stroke-linecap="round" fill="none"/><path d="M844 5.6h0M868.8 32.5h0M750.4 43.7h0.3M945.6 44.5h0M843.4 61.6h0.3M766.6 71.6h0M604.5 119h1.4M612.5 115.4h1.3M638.4 120.1h0.6M888.1 116.9h1M852.5 128.5h0.7M866.3 131.3h1.7M885.7 156.2h1.6M654.3 173.6h0.9M909.8 177.3h0.2M710.6 188.4h0.4M851 191.3h0M915.5 188.4h0.8M689.3 200.8h0.8M839.4 208.6h0.1M818.9 234.4h0M851.3 238h1.3M808.7 296.4h0M596.4 324.7h0M780.2 338.8h0" stroke="#000" stroke-width="6" stroke-opacity="0.70" stroke-linecap="round" fill="none"/><path d="M768.4 34.7h0M596.9 47.5h1.1M642 47.3h0M919.8 56.4h1.5M847.2 78.7h1.6M671.6 87.6h0.7M920.3 89.6h0.4M750 135.1h0.5M691.4 149.7h0M607.7 156.6h1.2M980.1 177.8h0.7M657.5 223.5h0.1M717.6 217.1h0M812.4 215.4h1.4M962.2 216.8h1.4M766.6 231.9h0.5M842.8 236.6h1.6M1005.6 238h0M1021.2 248.6h0M680.5 257.5h1.1M704.7 264.3h0.9M946.6 261.5h1.2M715.2 275h0.2M816.9 272.6h0M930.1 272.6h0M783.4 323.5h1.1M741 337h0.4" stroke="#000" stroke-width="6" stroke-opacity="0.80" stroke-linecap="round" fill="none"/><path d="M940.3 2.5h1.3M697.9 31.6h1.5M974.4 30.2h1.6M894.2 47.3h0.2M863.1 78.1h1.6M914.1 70.7h0M962.8 77.8h0.9M581.2 86.7h0M826.7 89.9h0.7M825.6 115.3h0M631.6 141.7h1M657.5 147.8h0.2M910.2 143.3h1.5M962.2 159.1h0M597.7 178.5h0.4M639.9 189.5h0M885.7 202.1h0M590.7 221.5h0M747.4 222.8h0.9M615.3 232.5h1.7M725.3 234.2h0M682 251.3h0M858.7 250.6h0.5M880.3 245.5h1.1M1003.3 251.6h0M840.7 296.1h0.2M609.7 303.4h0.5M619.5 320.5h1.3M718.9 324.5h0.3M825.8 321.7h1.7M902.2 319.6h0.5M983.6 330.9h0.7" stroke="#000" stroke-width="6" stroke-opacity="0.90" stroke-linecap="round" fill="none"/></g><g filter="url(#b3)" fill="none" stroke-linecap="butt"><path d="M603.6 74.1L606.8 73.2" stroke="#fff" stroke-width="13" stroke-opacity="0.04"/><path d="M629.3 72.5L632.6 73.5" stroke="#fff" stroke-width="13" stroke-opacity="0.16"/><path d="M605.9 73.4L610.5 72.4" stroke="#fff" stroke-width="13" stroke-opacity="0.24"/><path d="M626.6 71.9L630.1 72.7" stroke="#fff" stroke-width="13" stroke-opacity="0.28"/><path d="M609.7 72.5L612.4 72.2M611.7 72.2L614.7 71.9M614 72L617.1 71.7M616.4 71.7L619.3 71.6M618.6 71.6L622.2 71.6M621.4 71.6L624.8 71.7M624.1 71.7L627.4 72" stroke="#fff" stroke-width="13" stroke-opacity="0.36"/><path d="M641.9 134.1L643.2 136.5" stroke="#fff" stroke-width="13" stroke-opacity="0.04"/><path d="M642.9 135.9L644.1 138.3" stroke="#fff" stroke-width="13" stroke-opacity="0.08"/><path d="M643.8 137.6L645.6 140.8" stroke="#fff" stroke-width="13" stroke-opacity="0.16"/><path d="M645.2 140.1L646.9 142.9" stroke="#fff" stroke-width="13" stroke-opacity="0.24"/><path d="M646.5 142.3L648.1 144.7" stroke="#fff" stroke-width="13" stroke-opacity="0.32"/><path d="M647.8 144.2L649.2 146.2M648.8 145.6L650.8 148.8M650.3 148.2L652.2 150.2M651.7 149.9L654.5 150.9M653.9 150.7L656.3 151" stroke="#fff" stroke-width="13" stroke-opacity="0.36"/><path d="M655 140.7L656.2 137.4M669.8 94.8L671 91.6" stroke="#fff" stroke-width="13" stroke-opacity="0.04"/><path d="M654.1 143L655.3 140M670.8 92.3L672 89.5M695.5 94.3L698.6 96.2" stroke="#fff" stroke-width="13" stroke-opacity="0.12"/><path d="M653.4 144.9L654.4 142.4M671.7 90.1L673.2 87.7" stroke="#fff" stroke-width="13" stroke-opacity="0.16"/><path d="M693 92.7L696.2 94.7" stroke="#fff" stroke-width="13" stroke-opacity="0.20"/><path d="M652.9 146.2L653.6 144.4" stroke="#fff" stroke-width="13" stroke-opacity="0.24"/><path d="M672.7 88.4L675.5 85.3" stroke="#fff" stroke-width="13" stroke-opacity="0.28"/><path d="M691 91.1L693.7 93.1" stroke="#fff" stroke-width="13" stroke-opacity="0.32"/><path d="M674.8 85.9L678 83.9M677.2 84.2L680.4 83.5M679.6 83.5L682.7 84.5M682 84.1L685.1 86.4M684.4 85.9L687.3 88.3M686.7 87.8L689.5 89.9M688.9 89.4L691.6 91.6" stroke="#fff" stroke-width="13" stroke-opacity="0.36"/><path d="M696.3 146.1L699.4 143.8M754 90.5L756.8 91.5" stroke="#fff" stroke-width="13" stroke-opacity="0.12"/><path d="M721.2 130.5L722.1 127.7M721.9 128.3L723 125.5M729.3 113L731.2 109.6M730.8 110.3L732.3 107.3M732 108.1L733.5 104.8M733.1 105.6L734.7 102.3M734.3 103L735.9 99.8" stroke="#fff" stroke-width="13" stroke-opacity="0.16"/><path d="M735.5 100.5L737.2 97.7M751.6 89.9L754.7 90.7" stroke="#fff" stroke-width="13" stroke-opacity="0.20"/><path d="M698.7 144.3L702.1 142M720.5 133L721.4 129.8M722.7 126.1L723.8 123.5M727.9 115.5L729.8 112.3M736.8 98.4L738.9 95.1" stroke="#fff" stroke-width="13" stroke-opacity="0.24"/><path d="M719.7 135.5L720.7 132.3" stroke="#fff" stroke-width="13" stroke-opacity="0.32"/><path d="M701.3 142.4L704.3 140.8M703.6 141.1L706.9 140.4M706.1 140.5L709.1 140.5M708.4 140.5L711.3 140.5M710.6 140.5L713.8 140.4M713.1 140.5L716.3 140.2M715.6 140.4L718.3 138.8M717.9 139.2L719.1 137.1M718.9 137.7L720 134.8M723.5 124.1L724.6 121.6M724.3 122.2L725.7 119.5M725.3 120.1L726.9 117.2M726.5 117.9L728.3 114.8M738.4 95.8L740.6 92.8M740.1 93.4L742.4 90.9M741.9 91.4L744.3 89.6M743.6 89.9L747.1 89.1M746.2 89.1L749.9 89.5M749.1 89.4L752.4 90.1" stroke="#fff" stroke-width="13" stroke-opacity="0.36"/><path d="M757.6 135.1L761.1 134.5M858.7 100.8L861.7 99.5" stroke="#fff" stroke-width="13" stroke-opacity="0.12"/><path d="M787.8 114.7L789.1 111.8M788.8 112.5L790.2 109.7M789.8 110.4L791.5 106.9M812.9 103.7L814.1 106.6M813.8 105.8L814.9 109.2M814.7 108.4L815.8 112M815.5 111.2L816.7 114.7M816.4 113.9L817.6 117.1M817.3 116.3L818.9 119.8M818.6 119L820.2 122.3M856.5 102.2L859.4 100.5" stroke="#fff" stroke-width="13" stroke-opacity="0.20"/><path d="M784.2 121.1L785.9 118.5M785.5 119.1L787 116.3M786.7 117L788.1 114.1M811.2 100.5L813.2 104.5M819.8 121.6L821.6 124.5M821.2 123.9L823.2 126.3" stroke="#fff" stroke-width="13" stroke-opacity="0.24"/><path d="M782.6 123L784.6 120.5M791.1 107.7L792.7 104.1M837.8 125.2L839.7 123.2M850.7 108.3L853.2 105.4M852.6 106.1L855.1 103.4M854.5 104L857.1 101.7" stroke="#fff" stroke-width="13" stroke-opacity="0.28"/><path d="M822.6 125.7L825.9 128M835.3 127.3L838.4 124.7M849.4 110L851.2 107.7" stroke="#fff" stroke-width="13" stroke-opacity="0.32"/><path d="M760.2 134.6L764.5 133.9M763.6 134L766.8 133.8M766.1 133.9L769.4 133.1M768.7 133.3L771.5 132M770.8 132.4L773.8 130.6M773.1 131.1L776.4 128.7M775.8 129.2L777.9 127.5M777.4 127.9L779.7 125.9M779.1 126.4L781.4 124.2M780.9 124.7L783.1 122.4M792.3 104.9L793.9 101.6M793.5 102.3L795.2 99.7M794.7 100.2L797.2 98.1M796.6 98.5L799.2 97.4M798.6 97.6L801.3 96.9M800.6 97.1L803.7 96.4M803 96.5L806.1 96.3M805.4 96.3L808.3 97.1M807.7 96.8L810.1 98.8M809.6 98.2L811.7 101.3M825.1 127.6L828.7 128.9M827.9 128.7L831.4 129M830.6 129.1L833.7 128.3M833 128.6L836 126.8M839.3 123.7L841.3 121.3M840.8 121.9L842.9 119.2M842.4 119.8L844.3 117.1M843.9 117.7L845.7 115.3M845.3 115.9L847.2 113.2M846.8 113.8L848.6 111.3M848.2 111.9L849.8 109.5" stroke="#fff" stroke-width="13" stroke-opacity="0.36"/><path d="M873.1 113.2L875.7 116" stroke="#fff" stroke-width="13" stroke-opacity="0.04"/><path d="M938.2 104.6L941.4 105.1" stroke="#fff" stroke-width="13" stroke-opacity="0.08"/><path d="M875.1 115.3L877.9 118.3" stroke="#fff" stroke-width="13" stroke-opacity="0.12"/><path d="M877.3 117.6L879.9 120.1" stroke="#fff" stroke-width="13" stroke-opacity="0.16"/><path d="M879.3 119.5L882.2 121.9M902.6 120.3L904.6 117.7M904.3 118.3L905.5 115.9M905.3 116.5L906.3 113.7" stroke="#fff" stroke-width="13" stroke-opacity="0.20"/><path d="M881.5 121.4L884.3 123.2M883.6 122.8L886.3 124.2M898.7 123.2L901.3 121.5M900.7 121.9L903.1 119.8M906 114.3L907.1 111.5M906.8 112.1L908.2 109.7" stroke="#fff" stroke-width="13" stroke-opacity="0.24"/><path d="M896.4 124.2L899.3 122.8" stroke="#fff" stroke-width="13" stroke-opacity="0.28"/><path d="M885.6 123.9L889.4 125M934.9 104.2L939 104.7" stroke="#fff" stroke-width="13" stroke-opacity="0.32"/><path d="M888.5 124.9L892.5 125M891.7 125L894.7 124.6M894 124.8L897.1 123.9M907.7 110.3L910 107.6M909.4 108.2L912.1 106M911.4 106.4L914.3 104.8M913.6 105.1L916.9 104.3M916.1 104.4L919.7 104.3M918.8 104.3L922.4 104.3M921.6 104.3L925.2 104.2M924.3 104.2L927.9 104.3M927.2 104.3L930.4 104.3M929.6 104.3L933.3 104.2M932.5 104.2L935.8 104.3" stroke="#fff" stroke-width="13" stroke-opacity="0.36"/><path d="M943.7 125.1L946.5 124.3" stroke="#fff" stroke-width="13" stroke-opacity="0.24"/><path d="M945.8 124.5L949.4 123.4M948.6 123.6L951.9 122.7M951.1 122.9L954.4 121.8M953.6 122.1L956.8 120.4M956.1 120.9L959.4 118.8M958.8 119.2L960.9 117.5M960.4 117.9L962.6 116M962.1 116.5L964.7 114.4M964.1 114.8L966.6 112.9M966 113.3L968.7 111.1M968 111.6L970.9 109.5M970.2 109.9L973 108.2M972.3 108.6L976 107.1M975.2 107.4L978.9 106.5M978.1 106.7L981.4 106.2M980.6 106.3L984.1 106.4M983.3 106.3L986.3 107.1M985.6 106.8L989.1 108.2M988.3 107.9L991.7 109.6M991 109.2L994 110.8M993.3 110.4L996.4 112.2M995.7 111.8L998 113.4M997.5 113L999.9 114.7M999.3 114.4L1001.9 115.9M1001.3 115.6L1003.9 116.8M1003.3 116.5L1006 117.5M1005.4 117.3L1008.3 118.1M1007.6 117.9L1011.3 118.5M1010.4 118.4L1014.3 118.8M1013.5 118.8L1016.3 119" stroke="#fff" stroke-width="13" stroke-opacity="0.36"/></g><g filter="url(#b2)" fill="none" stroke-linecap="butt"><path d="M609.7 72.5L612.4 72.2" stroke="#fff" stroke-width="7.5" stroke-opacity="0.16"/><path d="M624.1 71.7L627.4 72" stroke="#fff" stroke-width="7.5" stroke-opacity="0.20"/><path d="M611.7 72.2L614.7 71.9" stroke="#fff" stroke-width="7.5" stroke-opacity="0.32"/><path d="M621.4 71.6L624.8 71.7" stroke="#fff" stroke-width="7.5" stroke-opacity="0.44"/><path d="M614 72L617.1 71.7" stroke="#fff" stroke-width="7.5" stroke-opacity="0.52"/><path d="M618.6 71.6L622.2 71.6" stroke="#fff" stroke-width="7.5" stroke-opacity="0.68"/><path d="M616.4 71.7L619.3 71.6" stroke="#fff" stroke-width="7.5" stroke-opacity="0.72"/><path d="M653.9 150.7L656.3 151" stroke="#fff" stroke-width="7.5" stroke-opacity="0.08"/><path d="M647.8 144.2L649.2 146.2" stroke="#fff" stroke-width="7.5" stroke-opacity="0.16"/><path d="M648.8 145.6L650.8 148.8" stroke="#fff" stroke-width="7.5" stroke-opacity="0.36"/><path d="M651.7 149.9L654.5 150.9" stroke="#fff" stroke-width="7.5" stroke-opacity="0.48"/><path d="M650.3 148.2L652.2 150.2" stroke="#fff" stroke-width="7.5" stroke-opacity="0.56"/><path d="M688.9 89.4L691.6 91.6" stroke="#fff" stroke-width="7.5" stroke-opacity="0.08"/><path d="M674.8 85.9L678 83.9" stroke="#fff" stroke-width="7.5" stroke-opacity="0.20"/><path d="M686.7 87.8L689.5 89.9" stroke="#fff" stroke-width="7.5" stroke-opacity="0.24"/><path d="M684.4 85.9L687.3 88.3" stroke="#fff" stroke-width="7.5" stroke-opacity="0.36"/><path d="M682 84.1L685.1 86.4" stroke="#fff" stroke-width="7.5" stroke-opacity="0.52"/><path d="M677.2 84.2L680.4 83.5" stroke="#fff" stroke-width="7.5" stroke-opacity="0.56"/><path d="M679.6 83.5L682.7 84.5" stroke="#fff" stroke-width="7.5" stroke-opacity="0.68"/><path d="M749.1 89.4L752.4 90.1" stroke="#fff" stroke-width="7.5" stroke-opacity="0.04"/><path d="M718.9 137.7L720 134.8" stroke="#fff" stroke-width="7.5" stroke-opacity="0.08"/><path d="M701.3 142.4L704.3 140.8M738.4 95.8L740.6 92.8" stroke="#fff" stroke-width="7.5" stroke-opacity="0.12"/><path d="M724.3 122.2L725.7 119.5M725.3 120.1L726.9 117.2" stroke="#fff" stroke-width="7.5" stroke-opacity="0.16"/><path d="M717.9 139.2L719.1 137.1" stroke="#fff" stroke-width="7.5" stroke-opacity="0.24"/><path d="M703.6 141.1L706.9 140.4M746.2 89.1L749.9 89.5" stroke="#fff" stroke-width="7.5" stroke-opacity="0.36"/><path d="M715.6 140.4L718.3 138.8M740.1 93.4L742.4 90.9" stroke="#fff" stroke-width="7.5" stroke-opacity="0.40"/><path d="M706.1 140.5L709.1 140.5" stroke="#fff" stroke-width="7.5" stroke-opacity="0.60"/><path d="M713.1 140.5L716.3 140.2M743.6 89.9L747.1 89.1" stroke="#fff" stroke-width="7.5" stroke-opacity="0.64"/><path d="M741.9 91.4L744.3 89.6" stroke="#fff" stroke-width="7.5" stroke-opacity="0.68"/><path d="M708.4 140.5L711.3 140.5M710.6 140.5L713.8 140.4" stroke="#fff" stroke-width="7.5" stroke-opacity="0.84"/><path d="M780.9 124.7L783.1 122.4M792.3 104.9L793.9 101.6M848.2 111.9L849.8 109.5" stroke="#fff" stroke-width="7.5" stroke-opacity="0.04"/><path d="M840.8 121.9L842.9 119.2" stroke="#fff" stroke-width="7.5" stroke-opacity="0.08"/><path d="M779.1 126.4L781.4 124.2" stroke="#fff" stroke-width="7.5" stroke-opacity="0.12"/><path d="M793.5 102.3L795.2 99.7M809.6 98.2L811.7 101.3M825.1 127.6L828.7 128.9M833 128.6L836 126.8M842.4 119.8L844.3 117.1M846.8 113.8L848.6 111.3" stroke="#fff" stroke-width="7.5" stroke-opacity="0.16"/><path d="M777.4 127.9L779.7 125.9M845.3 115.9L847.2 113.2" stroke="#fff" stroke-width="7.5" stroke-opacity="0.24"/><path d="M843.9 117.7L845.7 115.3" stroke="#fff" stroke-width="7.5" stroke-opacity="0.28"/><path d="M775.8 129.2L777.9 127.5" stroke="#fff" stroke-width="7.5" stroke-opacity="0.32"/><path d="M794.7 100.2L797.2 98.1M827.9 128.7L831.4 129M830.6 129.1L833.7 128.3" stroke="#fff" stroke-width="7.5" stroke-opacity="0.36"/><path d="M763.6 134L766.8 133.8" stroke="#fff" stroke-width="7.5" stroke-opacity="0.40"/><path d="M807.7 96.8L810.1 98.8" stroke="#fff" stroke-width="7.5" stroke-opacity="0.44"/><path d="M773.1 131.1L776.4 128.7" stroke="#fff" stroke-width="7.5" stroke-opacity="0.48"/><path d="M796.6 98.5L799.2 97.4" stroke="#fff" stroke-width="7.5" stroke-opacity="0.60"/><path d="M770.8 132.4L773.8 130.6M805.4 96.3L808.3 97.1" stroke="#fff" stroke-width="7.5" stroke-opacity="0.64"/><path d="M766.1 133.9L769.4 133.1" stroke="#fff" stroke-width="7.5" stroke-opacity="0.72"/><path d="M803 96.5L806.1 96.3" stroke="#fff" stroke-width="7.5" stroke-opacity="0.76"/><path d="M768.7 133.3L771.5 132" stroke="#fff" stroke-width="7.5" stroke-opacity="0.80"/><path d="M798.6 97.6L801.3 96.9" stroke="#fff" stroke-width="7.5" stroke-opacity="0.84"/><path d="M800.6 97.1L803.7 96.4" stroke="#fff" stroke-width="7.5" stroke-opacity="0.88"/><path d="M888.5 124.9L892.5 125" stroke="#fff" stroke-width="7.5" stroke-opacity="0.08"/><path d="M891.7 125L894.7 124.6" stroke="#fff" stroke-width="7.5" stroke-opacity="0.12"/><path d="M909.4 108.2L912.1 106" stroke="#fff" stroke-width="7.5" stroke-opacity="0.24"/><path d="M932.5 104.2L935.8 104.3" stroke="#fff" stroke-width="7.5" stroke-opacity="0.44"/><path d="M911.4 106.4L914.3 104.8" stroke="#fff" stroke-width="7.5" stroke-opacity="0.48"/><path d="M913.6 105.1L916.9 104.3" stroke="#fff" stroke-width="7.5" stroke-opacity="0.68"/><path d="M916.1 104.4L919.7 104.3M929.6 104.3L933.3 104.2" stroke="#fff" stroke-width="7.5" stroke-opacity="0.84"/><path d="M918.8 104.3L922.4 104.3M921.6 104.3L925.2 104.2M924.3 104.2L927.9 104.3M927.2 104.3L930.4 104.3" stroke="#fff" stroke-width="7.5" stroke-opacity="1.00"/><path d="M945.8 124.5L949.4 123.4" stroke="#fff" stroke-width="7.5" stroke-opacity="0.32"/><path d="M1013.5 118.8L1016.3 119" stroke="#fff" stroke-width="7.5" stroke-opacity="0.64"/><path d="M1010.4 118.4L1014.3 118.8" stroke="#fff" stroke-width="7.5" stroke-opacity="0.68"/><path d="M948.6 123.6L951.9 122.7" stroke="#fff" stroke-width="7.5" stroke-opacity="0.72"/><path d="M1007.6 117.9L1011.3 118.5" stroke="#fff" stroke-width="7.5" stroke-opacity="0.76"/><path d="M1005.4 117.3L1008.3 118.1" stroke="#fff" stroke-width="7.5" stroke-opacity="0.84"/><path d="M1003.3 116.5L1006 117.5" stroke="#fff" stroke-width="7.5" stroke-opacity="0.88"/><path d="M1001.3 115.6L1003.9 116.8" stroke="#fff" stroke-width="7.5" stroke-opacity="0.92"/><path d="M951.1 122.9L954.4 121.8M995.7 111.8L998 113.4M997.5 113L999.9 114.7M999.3 114.4L1001.9 115.9" stroke="#fff" stroke-width="7.5" stroke-opacity="0.96"/><path d="M953.6 122.1L956.8 120.4M956.1 120.9L959.4 118.8M958.8 119.2L960.9 117.5M960.4 117.9L962.6 116M962.1 116.5L964.7 114.4M964.1 114.8L966.6 112.9M966 113.3L968.7 111.1M968 111.6L970.9 109.5M970.2 109.9L973 108.2M972.3 108.6L976 107.1M975.2 107.4L978.9 106.5M978.1 106.7L981.4 106.2M980.6 106.3L984.1 106.4M983.3 106.3L986.3 107.1M985.6 106.8L989.1 108.2M988.3 107.9L991.7 109.6M991 109.2L994 110.8M993.3 110.4L996.4 112.2" stroke="#fff" stroke-width="7.5" stroke-opacity="1.00"/></g>
</g>
<rect x="590.5" y="5.5" width="422" height="326" fill="none" stroke="#262626" stroke-width="0.9"/><path d="M632.7 331.5v-4.5 M632.7 5.5v4.5M674.9 331.5v-4.5 M674.9 5.5v4.5M717.2 331.5v-4.5 M717.2 5.5v4.5M759.4 331.5v-4.5 M759.4 5.5v4.5M801.6 331.5v-4.5 M801.6 5.5v4.5M843.8 331.5v-4.5 M843.8 5.5v4.5M886 331.5v-4.5 M886 5.5v4.5M928.3 331.5v-4.5 M928.3 5.5v4.5M970.5 331.5v-4.5 M970.5 5.5v4.5M590.5 299.5h4.5 M1012.5 299.5h-4.5M590.5 267.7h4.5 M1012.5 267.7h-4.5M590.5 235.9h4.5 M1012.5 235.9h-4.5M590.5 204.1h4.5 M1012.5 204.1h-4.5M590.5 172.3h4.5 M1012.5 172.3h-4.5M590.5 140.5h4.5 M1012.5 140.5h-4.5M590.5 108.7h4.5 M1012.5 108.7h-4.5M590.5 76.9h4.5 M1012.5 76.9h-4.5M590.5 45.1h4.5 M1012.5 45.1h-4.5M590.5 13.3h4.5 M1012.5 13.3h-4.5" stroke="#262626" stroke-width="0.8" fill="none"/><text x="631.9" y="349.9" text-anchor="middle" class="tk">0.1</text><text x="674.1" y="349.9" text-anchor="middle" class="tk">0.2</text><text x="716.4" y="349.9" text-anchor="middle" class="tk">0.3</text><text x="758.6" y="349.9" text-anchor="middle" class="tk">0.4</text><text x="800.8" y="349.9" text-anchor="middle" class="tk">0.5</text><text x="843" y="349.9" text-anchor="middle" class="tk">0.6</text><text x="885.2" y="349.9" text-anchor="middle" class="tk">0.7</text><text x="927.5" y="349.9" text-anchor="middle" class="tk">0.8</text><text x="969.7" y="349.9" text-anchor="middle" class="tk">0.9</text><text x="1011.9" y="349.9" text-anchor="middle" class="tk">1</text><text x="585" y="304.7" text-anchor="end" class="tk">50</text><text x="585" y="272.9" text-anchor="end" class="tk">100</text><text x="585" y="241.1" text-anchor="end" class="tk">150</text><text x="585" y="209.3" text-anchor="end" class="tk">200</text><text x="585" y="177.5" text-anchor="end" class="tk">250</text><text x="585" y="145.7" text-anchor="end" class="tk">300</text><text x="585" y="113.9" text-anchor="end" class="tk">350</text><text x="585" y="82.1" text-anchor="end" class="tk">400</text><text x="585" y="50.3" text-anchor="end" class="tk">450</text><text x="585" y="18.5" text-anchor="end" class="tk">500</text><text x="801.5" y="377.9" text-anchor="middle" class="lb">Time/s</text><text x="555.1" y="168.5" text-anchor="middle" class="lb" transform="rotate(-90 555.1 168.5)">Frequency/Hz</text><text x="757" y="434" text-anchor="middle" class="cap">(b)</text>
</g>
<g id="panel-c">
<g filter="url(#cmc)">
<rect x="55.5" y="490.5" width="426" height="330" fill="#010101"/><g filter="url(#b1p5)"><path d="M57 816.8C60.4 816.9 70.8 817.1 77.7 817.2C84.6 817.3 91.5 817.3 98.4 817.2C105.3 817.1 111.5 816.8 119 816.8C126.6 816.8 135.6 817.2 143.9 817.2C152.1 817.2 159 816.8 168.7 816.8C178.3 816.8 190.7 817.1 201.8 817.2C212.8 817.3 223.7 817.3 234.9 817.2C246.1 817.1 263.3 816.9 269 816.8" fill="none" stroke="#fff" stroke-width="4.4" stroke-linecap="butt" stroke-linejoin="round" stroke-opacity="0.12"/><path d="M268 814.7C271.4 814.8 281.8 814.9 288.7 815.1C295.6 815.3 301.8 815.9 309.4 816C316.9 816 326.6 815.5 334.2 815.6C341.8 815.6 348 816.3 354.9 816.4C361.8 816.4 368.7 816.1 375.5 815.8C382.4 815.4 390 814.6 396.2 814.5C402.4 814.5 406.6 815 412.8 815.3C419 815.7 423.1 816.7 433.5 816.8C443.8 816.9 467.2 816.7 474.8 815.8C482.4 814.9 478.3 812.1 479 811.4" fill="none" stroke="#fff" stroke-width="5.4" stroke-linecap="butt" stroke-linejoin="round" stroke-opacity="0.14"/><path d="M57 815.6C59.1 815.2 64.9 814.8 69.4 813.7C73.9 812.6 79.1 809.5 83.9 808.9C88.7 808.3 93.2 809.5 98.4 810.2C103.5 810.9 109.7 812.9 114.9 813.1C120.1 813.2 125.3 811.8 129.4 811C133.5 810.2 136.3 809.1 139.7 808.1C143.2 807.1 146.6 804.9 150.1 805C153.5 805.1 157.3 807.2 160.4 808.9C163.5 810.7 167.3 814.5 168.7 815.6" fill="none" stroke="#fff" stroke-width="5.1" stroke-linecap="butt" stroke-linejoin="round" stroke-opacity="0.08"/><path d="M168.7 814.7C170.8 814 177 810.8 181.1 810.2C185.2 809.6 189.4 810.2 193.5 811.2C197.6 812.2 203.8 815.3 205.9 816.2" fill="none" stroke="#fff" stroke-width="5.8" stroke-linecap="butt" stroke-linejoin="round" stroke-opacity="0.11"/><path d="M205.9 816.4C208 816.4 214.5 816.9 218.3 816.4C222.1 815.9 225.9 814.4 228.7 813.5C231.4 812.6 231.4 810.9 234.9 811C238.3 811.1 244.5 813.8 249.3 814.1C254.2 814.5 260.6 813.1 263.8 813.1C267.1 813.1 268.1 813.9 269 814.1" fill="none" stroke="#fff" stroke-width="4.1" stroke-linecap="butt" stroke-linejoin="round" stroke-opacity="0.07"/><path d="M268 801.9C269.4 802.6 273.5 805.3 276.3 805.8C279 806.3 281.8 804.6 284.5 804.8C287.3 805 290.1 806.9 292.8 807.1C295.6 807.2 298.3 806.4 301.1 805.8C303.8 805.3 306.6 803.2 309.4 803.8C312.1 804.3 314.5 807.2 317.6 808.9C320.7 810.7 326.3 813.4 328 814.3" fill="none" stroke="#fff" stroke-width="5.1" stroke-linecap="butt" stroke-linejoin="round" stroke-opacity="0.08"/><path d="M328 814.3C329.4 813.4 333.5 810.6 336.3 808.9C339 807.3 341.4 804.2 344.5 804.4C347.6 804.6 351.1 809.4 354.9 810.2C358.7 810.9 363.1 809.5 367.3 808.9C371.4 808.4 376.9 807.9 379.7 806.9C382.4 805.8 383.1 803.4 383.8 802.7" fill="none" stroke="#fff" stroke-width="6.1" stroke-linecap="butt" stroke-linejoin="round" stroke-opacity="0.13"/><path d="M383.8 802.7C385.2 801 390 792.4 392.1 792.4C394.2 792.4 394.2 799.6 396.2 802.7C398.3 805.8 402.1 809.1 404.5 811C406.9 812.9 408.3 814.7 410.7 814.3C413.1 814 416.2 810.9 419 808.9C421.7 807 425.9 803.8 427.3 802.7" fill="none" stroke="#fff" stroke-width="5.1" stroke-linecap="butt" stroke-linejoin="round" stroke-opacity="0.12"/><path d="M427.3 802.7C428.6 803.2 432.6 805.8 435.5 805.8C438.5 805.8 441.7 802.6 444.8 802.7C447.9 802.9 450.5 806.5 454.1 806.9C457.8 807.2 463.1 805 466.6 804.8C470 804.6 472.9 804.8 474.8 805.8C476.8 806.9 477.6 810.1 478.1 811" fill="none" stroke="#fff" stroke-width="4.1" stroke-linecap="butt" stroke-linejoin="round" stroke-opacity="0.08"/><path d="M57 806.5C58 806.3 60.8 806.9 63.2 805.6C65.6 804.3 68.7 800.6 71.5 798.6C74.2 796.6 77.3 794 79.8 793.4C82.2 792.8 83.5 793 86 794.9C88.4 796.7 92 803.8 94.2 804.4C96.5 805 97.7 800.8 99.4 798.6C101.1 796.4 102.7 791.4 104.6 791.4C106.5 791.4 108.7 797.6 110.8 798.6C112.8 799.6 114.6 796.5 117 797.6C119.4 798.6 123.9 803.6 125.3 804.8" fill="none" stroke="#fff" stroke-width="5.1" stroke-linecap="butt" stroke-linejoin="round" stroke-opacity="0.12"/><path d="M125.3 804.8C126.3 803.4 129.7 798.8 131.5 796.5C133.2 794.3 133.9 792 135.6 791.4C137.3 790.7 139.7 792.1 141.8 792.8C143.9 793.5 146.3 796.4 148 795.7C149.7 795 150.6 790 152.1 788.7C153.7 787.3 155.6 785.8 157.3 787.4C159 789.1 160.6 794.1 162.5 798.6C164.4 803.1 167.7 811.7 168.7 814.3" fill="none" stroke="#fff" stroke-width="5.8" stroke-linecap="butt" stroke-linejoin="round" stroke-opacity="0.13"/><path d="M108.7 786.2C110.1 786.9 114.2 789.3 117 790.5C119.7 791.8 123.9 793.1 125.3 793.6" fill="none" stroke="#fff" stroke-width="5.4" stroke-linecap="butt" stroke-linejoin="round" stroke-opacity="0.17"/><path d="M172.8 791.4C173.9 792.4 177.1 798.6 179 797.8C180.9 796.9 182.5 787.1 184.2 786.2C185.9 785.3 187.1 789.6 189.4 792.4C191.6 795.1 195.2 801.3 197.6 802.7C200.1 804.1 201.8 802.2 203.8 800.9C205.9 799.5 208.2 797.8 210.1 794.7C211.9 791.5 213.2 784.3 215.2 782C217.3 779.8 220.6 779.8 222.5 781.2C224.4 782.6 224.9 785.7 226.6 790.3C228.3 794.9 231.4 805.1 232.8 808.9C234.2 812.8 234.5 812.7 234.9 813.5" fill="none" stroke="#fff" stroke-width="5.1" stroke-linecap="butt" stroke-linejoin="round" stroke-opacity="0.14"/><path d="M195.6 802.3C196.6 802.2 199.4 803.1 201.8 801.9C204.2 800.7 208.7 796 210.1 794.9" fill="none" stroke="#fff" stroke-width="5.8" stroke-linecap="butt" stroke-linejoin="round" stroke-opacity="0.20"/><path d="M268 794.5C269 795.7 272.1 802.2 274.2 801.9C276.3 801.6 278.7 794.3 280.4 792.4C282.1 790.5 282.8 790.1 284.5 790.3C286.3 790.5 288.3 793.4 290.8 793.6C293.2 793.9 297.1 793.2 299 792C300.9 790.7 300.9 786.3 302.1 786.2C303.3 786.1 305.6 790.7 306.3 791.6" fill="none" stroke="#fff" stroke-width="5.4" stroke-linecap="butt" stroke-linejoin="round" stroke-opacity="0.17"/><path d="M328 811.4C329.4 808.2 333.5 797.6 336.3 792.4C339 787.1 342.3 781.8 344.5 780C346.8 778.1 348.1 781.6 349.7 781.2C351.2 780.9 352.3 776.7 353.8 777.9C355.4 779.1 357.1 784.3 359 788.3C360.9 792.3 364.2 799.6 365.2 801.9" fill="none" stroke="#fff" stroke-width="4.4" stroke-linecap="butt" stroke-linejoin="round" stroke-opacity="0.14"/><path d="M365.2 801.9C366.2 800.3 369.7 795 371.4 792.4C373.1 789.8 374 787.4 375.5 786.2C377.1 785 379 784.3 380.7 785.4C382.4 786.4 384 794.3 385.9 792.4C387.8 790.5 391.1 776.9 392.1 773.8" fill="none" stroke="#fff" stroke-width="4.4" stroke-linecap="butt" stroke-linejoin="round" stroke-opacity="0.16"/><path d="M396.2 788.3C397.3 790.3 400.4 797.7 402.4 800.7C404.5 803.6 406.6 806.7 408.6 806C410.7 805.3 412.4 800.2 414.8 796.5C417.3 792.9 420.9 787.2 423.1 784.1C425.4 781 427.4 778.9 428.3 777.9" fill="none" stroke="#fff" stroke-width="4.4" stroke-linecap="butt" stroke-linejoin="round" stroke-opacity="0.14"/><path d="M429.3 777.9C430 779.6 432.1 784.9 433.5 788.3C434.8 791.6 435.9 797.6 437.6 797.8C439.3 797.9 441.7 789.3 443.8 789.3C445.9 789.3 448.3 795.5 450 797.8C451.7 800 452.8 804.7 454.1 802.7C455.5 800.8 457.1 790.1 458.3 786.2C459.5 782.2 460.9 780.2 461.4 778.9" fill="none" stroke="#fff" stroke-width="4.1" stroke-linecap="butt" stroke-linejoin="round" stroke-opacity="0.15"/><path d="M471.7 793.4C472.2 794.1 473.4 796.8 474.8 797.8C476.2 798.7 479.1 798.8 480 799" fill="none" stroke="#fff" stroke-width="5.1" stroke-linecap="butt" stroke-linejoin="round" stroke-opacity="0.14"/></g><g filter="url(#b0p7)"><path d="M57 816.8C60.4 816.9 70.8 817.1 77.7 817.2C84.6 817.3 91.5 817.3 98.4 817.2C105.3 817.1 111.5 816.8 119 816.8C126.6 816.8 135.6 817.2 143.9 817.2C152.1 817.2 159 816.8 168.7 816.8C178.3 816.8 190.7 817.1 201.8 817.2C212.8 817.3 223.7 817.3 234.9 817.2C246.1 817.1 263.3 816.9 269 816.8" fill="none" stroke="#fff" stroke-width="1.8" stroke-linecap="butt" stroke-linejoin="round" stroke-opacity="0.33"/><path d="M268 814.7C271.4 814.8 281.8 814.9 288.7 815.1C295.6 815.3 301.8 815.9 309.4 816C316.9 816 326.6 815.5 334.2 815.6C341.8 815.6 348 816.3 354.9 816.4C361.8 816.4 368.7 816.1 375.5 815.8C382.4 815.4 390 814.6 396.2 814.5C402.4 814.5 406.6 815 412.8 815.3C419 815.7 423.1 816.7 433.5 816.8C443.8 816.9 467.2 816.7 474.8 815.8C482.4 814.9 478.3 812.1 479 811.4" fill="none" stroke="#fff" stroke-width="2.2" stroke-linecap="butt" stroke-linejoin="round" stroke-opacity="0.40"/><path d="M57 815.6C59.1 815.2 64.9 814.8 69.4 813.7C73.9 812.6 79.1 809.5 83.9 808.9C88.7 808.3 93.2 809.5 98.4 810.2C103.5 810.9 109.7 812.9 114.9 813.1C120.1 813.2 125.3 811.8 129.4 811C133.5 810.2 136.3 809.1 139.7 808.1C143.2 807.1 146.6 804.9 150.1 805C153.5 805.1 157.3 807.2 160.4 808.9C163.5 810.7 167.3 814.5 168.7 815.6" fill="none" stroke="#fff" stroke-width="2.1" stroke-linecap="butt" stroke-linejoin="round" stroke-opacity="0.22"/><path d="M168.7 814.7C170.8 814 177 810.8 181.1 810.2C185.2 809.6 189.4 810.2 193.5 811.2C197.6 812.2 203.8 815.3 205.9 816.2" fill="none" stroke="#fff" stroke-width="2.4" stroke-linecap="butt" stroke-linejoin="round" stroke-opacity="0.30"/><path d="M205.9 816.4C208 816.4 214.5 816.9 218.3 816.4C222.1 815.9 225.9 814.4 228.7 813.5C231.4 812.6 231.4 810.9 234.9 811C238.3 811.1 244.5 813.8 249.3 814.1C254.2 814.5 260.6 813.1 263.8 813.1C267.1 813.1 268.1 813.9 269 814.1" fill="none" stroke="#fff" stroke-width="1.7" stroke-linecap="butt" stroke-linejoin="round" stroke-opacity="0.20"/><path d="M268 801.9C269.4 802.6 273.5 805.3 276.3 805.8C279 806.3 281.8 804.6 284.5 804.8C287.3 805 290.1 806.9 292.8 807.1C295.6 807.2 298.3 806.4 301.1 805.8C303.8 805.3 306.6 803.2 309.4 803.8C312.1 804.3 314.5 807.2 317.6 808.9C320.7 810.7 326.3 813.4 328 814.3" fill="none" stroke="#fff" stroke-width="2.1" stroke-linecap="butt" stroke-linejoin="round" stroke-opacity="0.22"/><path d="M328 814.3C329.4 813.4 333.5 810.6 336.3 808.9C339 807.3 341.4 804.2 344.5 804.4C347.6 804.6 351.1 809.4 354.9 810.2C358.7 810.9 363.1 809.5 367.3 808.9C371.4 808.4 376.9 807.9 379.7 806.9C382.4 805.8 383.1 803.4 383.8 802.7" fill="none" stroke="#fff" stroke-width="2.5" stroke-linecap="butt" stroke-linejoin="round" stroke-opacity="0.36"/><path d="M383.8 802.7C385.2 801 390 792.4 392.1 792.4C394.2 792.4 394.2 799.6 396.2 802.7C398.3 805.8 402.1 809.1 404.5 811C406.9 812.9 408.3 814.7 410.7 814.3C413.1 814 416.2 810.9 419 808.9C421.7 807 425.9 803.8 427.3 802.7" fill="none" stroke="#fff" stroke-width="2.1" stroke-linecap="butt" stroke-linejoin="round" stroke-opacity="0.33"/><path d="M427.3 802.7C428.6 803.2 432.6 805.8 435.5 805.8C438.5 805.8 441.7 802.6 444.8 802.7C447.9 802.9 450.5 806.5 454.1 806.9C457.8 807.2 463.1 805 466.6 804.8C470 804.6 472.9 804.8 474.8 805.8C476.8 806.9 477.6 810.1 478.1 811" fill="none" stroke="#fff" stroke-width="1.7" stroke-linecap="butt" stroke-linejoin="round" stroke-opacity="0.22"/><path d="M57 806.5C58 806.3 60.8 806.9 63.2 805.6C65.6 804.3 68.7 800.6 71.5 798.6C74.2 796.6 77.3 794 79.8 793.4C82.2 792.8 83.5 793 86 794.9C88.4 796.7 92 803.8 94.2 804.4C96.5 805 97.7 800.8 99.4 798.6C101.1 796.4 102.7 791.4 104.6 791.4C106.5 791.4 108.7 797.6 110.8 798.6C112.8 799.6 114.6 796.5 117 797.6C119.4 798.6 123.9 803.6 125.3 804.8" fill="none" stroke="#fff" stroke-width="2.1" stroke-linecap="butt" stroke-linejoin="round" stroke-opacity="0.33"/><path d="M125.3 804.8C126.3 803.4 129.7 798.8 131.5 796.5C133.2 794.3 133.9 792 135.6 791.4C137.3 790.7 139.7 792.1 141.8 792.8C143.9 793.5 146.3 796.4 148 795.7C149.7 795 150.6 790 152.1 788.7C153.7 787.3 155.6 785.8 157.3 787.4C159 789.1 160.6 794.1 162.5 798.6C164.4 803.1 167.7 811.7 168.7 814.3" fill="none" stroke="#fff" stroke-width="2.4" stroke-linecap="butt" stroke-linejoin="round" stroke-opacity="0.36"/><path d="M108.7 786.2C110.1 786.9 114.2 789.3 117 790.5C119.7 791.8 123.9 793.1 125.3 793.6" fill="none" stroke="#fff" stroke-width="2.2" stroke-linecap="butt" stroke-linejoin="round" stroke-opacity="0.46"/><path d="M172.8 791.4C173.9 792.4 177.1 798.6 179 797.8C180.9 796.9 182.5 787.1 184.2 786.2C185.9 785.3 187.1 789.6 189.4 792.4C191.6 795.1 195.2 801.3 197.6 802.7C200.1 804.1 201.8 802.2 203.8 800.9C205.9 799.5 208.2 797.8 210.1 794.7C211.9 791.5 213.2 784.3 215.2 782C217.3 779.8 220.6 779.8 222.5 781.2C224.4 782.6 224.9 785.7 226.6 790.3C228.3 794.9 231.4 805.1 232.8 808.9C234.2 812.8 234.5 812.7 234.9 813.5" fill="none" stroke="#fff" stroke-width="2.1" stroke-linecap="butt" stroke-linejoin="round" stroke-opacity="0.40"/><path d="M195.6 802.3C196.6 802.2 199.4 803.1 201.8 801.9C204.2 800.7 208.7 796 210.1 794.9" fill="none" stroke="#fff" stroke-width="2.4" stroke-linecap="butt" stroke-linejoin="round" stroke-opacity="0.55"/><path d="M268 794.5C269 795.7 272.1 802.2 274.2 801.9C276.3 801.6 278.7 794.3 280.4 792.4C282.1 790.5 282.8 790.1 284.5 790.3C286.3 790.5 288.3 793.4 290.8 793.6C293.2 793.9 297.1 793.2 299 792C300.9 790.7 300.9 786.3 302.1 786.2C303.3 786.1 305.6 790.7 306.3 791.6" fill="none" stroke="#fff" stroke-width="2.2" stroke-linecap="butt" stroke-linejoin="round" stroke-opacity="0.46"/><path d="M328 811.4C329.4 808.2 333.5 797.6 336.3 792.4C339 787.1 342.3 781.8 344.5 780C346.8 778.1 348.1 781.6 349.7 781.2C351.2 780.9 352.3 776.7 353.8 777.9C355.4 779.1 357.1 784.3 359 788.3C360.9 792.3 364.2 799.6 365.2 801.9" fill="none" stroke="#fff" stroke-width="1.8" stroke-linecap="butt" stroke-linejoin="round" stroke-opacity="0.40"/><path d="M365.2 801.9C366.2 800.3 369.7 795 371.4 792.4C373.1 789.8 374 787.4 375.5 786.2C377.1 785 379 784.3 380.7 785.4C382.4 786.4 384 794.3 385.9 792.4C387.8 790.5 391.1 776.9 392.1 773.8" fill="none" stroke="#fff" stroke-width="1.8" stroke-linecap="butt" stroke-linejoin="round" stroke-opacity="0.44"/><path d="M396.2 788.3C397.3 790.3 400.4 797.7 402.4 800.7C404.5 803.6 406.6 806.7 408.6 806C410.7 805.3 412.4 800.2 414.8 796.5C417.3 792.9 420.9 787.2 423.1 784.1C425.4 781 427.4 778.9 428.3 777.9" fill="none" stroke="#fff" stroke-width="1.8" stroke-linecap="butt" stroke-linejoin="round" stroke-opacity="0.40"/><path d="M429.3 777.9C430 779.6 432.1 784.9 433.5 788.3C434.8 791.6 435.9 797.6 437.6 797.8C439.3 797.9 441.7 789.3 443.8 789.3C445.9 789.3 448.3 795.5 450 797.8C451.7 800 452.8 804.7 454.1 802.7C455.5 800.8 457.1 790.1 458.3 786.2C459.5 782.2 460.9 780.2 461.4 778.9" fill="none" stroke="#fff" stroke-width="1.7" stroke-linecap="butt" stroke-linejoin="round" stroke-opacity="0.42"/><path d="M471.7 793.4C472.2 794.1 473.4 796.8 474.8 797.8C476.2 798.7 479.1 798.8 480 799" fill="none" stroke="#fff" stroke-width="2.1" stroke-linecap="butt" stroke-linejoin="round" stroke-opacity="0.40"/></g><g filter="url(#b0p7)"><path d="M90.1 772.9C91 774 93.5 778.9 95.3 779.2C97 779.4 98.7 775 100.4 774.4C102.2 773.8 104.2 773.7 105.6 775.6C107 777.5 108.2 784.1 108.7 785.8" fill="none" stroke="#fff" stroke-width="1.7" stroke-linecap="butt" stroke-linejoin="round" stroke-opacity="0.19"/><path d="M90.1 772.9C91 774 93.5 778.9 95.3 779.2C97 779.4 98.7 775 100.4 774.4C102.2 773.8 104.2 773.7 105.6 775.6C107 777.5 108.2 784.1 108.7 785.8" fill="none" stroke="#fff" stroke-width="1.7" stroke-linecap="butt" stroke-dasharray="2.5 4 4 6 1.5 5 3 8" stroke-linejoin="round" stroke-opacity="0.15"/><path d="M234.9 813.5C235.9 809.3 239.5 792.9 241.1 788.3C242.6 783.6 243 785 244.2 785.4C245.4 785.7 247.1 791.9 248.3 790.3C249.5 788.7 250.2 782.4 251.4 775.8C252.6 769.3 254 757.6 255.6 751C257.1 744.5 259.3 741 260.7 736.5C262.1 732.1 263.3 726.2 263.8 724.1" fill="none" stroke="#fff" stroke-width="1.4" stroke-linecap="butt" stroke-linejoin="round" stroke-opacity="0.17"/><path d="M234.9 813.5C235.9 809.3 239.5 792.9 241.1 788.3C242.6 783.6 243 785 244.2 785.4C245.4 785.7 247.1 791.9 248.3 790.3C249.5 788.7 250.2 782.4 251.4 775.8C252.6 769.3 254 757.6 255.6 751C257.1 744.5 259.3 741 260.7 736.5C262.1 732.1 263.3 726.2 263.8 724.1" fill="none" stroke="#fff" stroke-width="1.4" stroke-linecap="butt" stroke-dasharray="2.5 4 4 6 1.5 5 3 8" stroke-linejoin="round" stroke-opacity="0.14"/><path d="M255.6 771.7C256.4 772.8 259.3 778.3 260.7 778.3C262.1 778.3 262.4 771.4 263.8 771.7C265.2 772.1 268.1 778.9 269 780.4" fill="none" stroke="#fff" stroke-width="1.7" stroke-linecap="butt" stroke-linejoin="round" stroke-opacity="0.20"/><path d="M255.6 771.7C256.4 772.8 259.3 778.3 260.7 778.3C262.1 778.3 262.4 771.4 263.8 771.7C265.2 772.1 268.1 778.9 269 780.4" fill="none" stroke="#fff" stroke-width="1.7" stroke-linecap="butt" stroke-dasharray="2.5 4 4 6 1.5 5 3 8" stroke-linejoin="round" stroke-opacity="0.17"/><path d="M249.3 804.8C250.4 803.6 253.1 799.5 255.6 797.8C258 796 261.6 794.3 263.8 794.5C266.1 794.6 268.1 797.9 269 798.6" fill="none" stroke="#fff" stroke-width="1.7" stroke-linecap="butt" stroke-linejoin="round" stroke-opacity="0.11"/><path d="M249.3 804.8C250.4 803.6 253.1 799.5 255.6 797.8C258 796 261.6 794.3 263.8 794.5C266.1 794.6 268.1 797.9 269 798.6" fill="none" stroke="#fff" stroke-width="1.7" stroke-linecap="butt" stroke-dasharray="2.5 4 4 6 1.5 5 3 8" stroke-linejoin="round" stroke-opacity="0.09"/><path d="M57 761.4C57.7 763.5 59.4 769.8 61.1 774.2C62.9 778.6 65.3 786.8 67.3 787.6C69.4 788.5 71.1 781.4 73.5 779.2C76 776.9 79.9 777.7 81.8 774.4C83.7 771.1 83.9 763.2 84.9 759.3C86 755.4 87.5 752.4 88 751" fill="none" stroke="#fff" stroke-width="1.7" stroke-linecap="butt" stroke-linejoin="round" stroke-opacity="0.20"/><path d="M57 761.4C57.7 763.5 59.4 769.8 61.1 774.2C62.9 778.6 65.3 786.8 67.3 787.6C69.4 788.5 71.1 781.4 73.5 779.2C76 776.9 79.9 777.7 81.8 774.4C83.7 771.1 83.9 763.2 84.9 759.3C86 755.4 87.5 752.4 88 751" fill="none" stroke="#fff" stroke-width="1.7" stroke-linecap="butt" stroke-dasharray="2.5 4 4 6 1.5 5 3 8" stroke-linejoin="round" stroke-opacity="0.17"/><path d="M61.1 757.2C61.7 760.3 63.2 770.8 64.2 775.8C65.3 780.9 66.8 785.7 67.3 787.6" fill="none" stroke="#fff" stroke-width="1.2" stroke-linecap="butt" stroke-linejoin="round" stroke-opacity="0.15"/><path d="M61.1 757.2C61.7 760.3 63.2 770.8 64.2 775.8C65.3 780.9 66.8 785.7 67.3 787.6" fill="none" stroke="#fff" stroke-width="1.2" stroke-linecap="butt" stroke-dasharray="2.5 4 4 6 1.5 5 3 8" stroke-linejoin="round" stroke-opacity="0.12"/><path d="M90.1 767.6C90.4 765.2 91.3 758.1 92.2 753.1C93 748.1 94.2 739.9 95.3 737.8C96.3 735.7 96.8 738.5 98.4 740.7C99.9 742.9 102.7 746.8 104.6 751C106.5 755.2 108.6 762.8 109.7 765.9C110.8 769 110.9 769 111.2 769.6" fill="none" stroke="#fff" stroke-width="1.5" stroke-linecap="butt" stroke-linejoin="round" stroke-opacity="0.19"/><path d="M90.1 767.6C90.4 765.2 91.3 758.1 92.2 753.1C93 748.1 94.2 739.9 95.3 737.8C96.3 735.7 96.8 738.5 98.4 740.7C99.9 742.9 102.7 746.8 104.6 751C106.5 755.2 108.6 762.8 109.7 765.9C110.8 769 110.9 769 111.2 769.6" fill="none" stroke="#fff" stroke-width="1.5" stroke-linecap="butt" stroke-dasharray="2.5 4 4 6 1.5 5 3 8" stroke-linejoin="round" stroke-opacity="0.15"/><path d="M117 742.8C117.7 745.5 119.7 753.3 121.1 759.3C122.5 765.3 123.9 777.4 125.3 778.7C126.6 780.1 127.7 772.9 129.4 767.6C131.1 762.3 133.7 752.7 135.6 746.9C137.5 741 139.9 734.8 140.8 732.4" fill="none" stroke="#fff" stroke-width="1.4" stroke-linecap="butt" stroke-linejoin="round" stroke-opacity="0.19"/><path d="M117 742.8C117.7 745.5 119.7 753.3 121.1 759.3C122.5 765.3 123.9 777.4 125.3 778.7C126.6 780.1 127.7 772.9 129.4 767.6C131.1 762.3 133.7 752.7 135.6 746.9C137.5 741 139.9 734.8 140.8 732.4" fill="none" stroke="#fff" stroke-width="1.4" stroke-linecap="butt" stroke-dasharray="2.5 4 4 6 1.5 5 3 8" stroke-linejoin="round" stroke-opacity="0.15"/><path d="M135.6 757.2C136.3 760 138.2 769.1 139.7 773.8C141.3 778.5 143.3 784.7 144.9 785.4C146.5 786 147.5 783.3 149 777.9C150.6 772.5 152.3 755.1 154.2 753.1C156.1 751.1 158.3 762.6 160.4 765.9C162.5 769.2 165.6 771.8 166.6 772.9" fill="none" stroke="#fff" stroke-width="1.5" stroke-linecap="butt" stroke-linejoin="round" stroke-opacity="0.19"/><path d="M135.6 757.2C136.3 760 138.2 769.1 139.7 773.8C141.3 778.5 143.3 784.7 144.9 785.4C146.5 786 147.5 783.3 149 777.9C150.6 772.5 152.3 755.1 154.2 753.1C156.1 751.1 158.3 762.6 160.4 765.9C162.5 769.2 165.6 771.8 166.6 772.9" fill="none" stroke="#fff" stroke-width="1.5" stroke-linecap="butt" stroke-dasharray="2.5 4 4 6 1.5 5 3 8" stroke-linejoin="round" stroke-opacity="0.15"/><path d="M168.7 761.4C169.7 762.4 173.2 766.3 174.9 767.6C176.6 768.8 177.6 772.3 179 768.8C180.4 765.4 182 750.7 183.2 746.9C184.4 743.1 185.4 744.7 186.3 746.1C187.1 747.4 188 753.6 188.3 755.2" fill="none" stroke="#fff" stroke-width="1.5" stroke-linecap="butt" stroke-linejoin="round" stroke-opacity="0.22"/><path d="M168.7 761.4C169.7 762.4 173.2 766.3 174.9 767.6C176.6 768.8 177.6 772.3 179 768.8C180.4 765.4 182 750.7 183.2 746.9C184.4 743.1 185.4 744.7 186.3 746.1C187.1 747.4 188 753.6 188.3 755.2" fill="none" stroke="#fff" stroke-width="1.5" stroke-linecap="butt" stroke-dasharray="2.5 4 4 6 1.5 5 3 8" stroke-linejoin="round" stroke-opacity="0.18"/><path d="M193.5 796.5C194.5 795.4 198 796 199.7 789.5C201.4 782.9 202.6 761.6 203.8 757.2C205.1 752.9 205.7 758.3 206.9 763.4C208.2 768.6 210.4 784.1 211.1 788.3" fill="none" stroke="#fff" stroke-width="1.2" stroke-linecap="butt" stroke-linejoin="round" stroke-opacity="0.17"/><path d="M193.5 796.5C194.5 795.4 198 796 199.7 789.5C201.4 782.9 202.6 761.6 203.8 757.2C205.1 752.9 205.7 758.3 206.9 763.4C208.2 768.6 210.4 784.1 211.1 788.3" fill="none" stroke="#fff" stroke-width="1.2" stroke-linecap="butt" stroke-dasharray="2.5 4 4 6 1.5 5 3 8" stroke-linejoin="round" stroke-opacity="0.14"/><path d="M211.1 767.6C211.8 764.1 213.7 752.1 215.2 746.9C216.8 741.7 219.5 738.3 220.4 736.5" fill="none" stroke="#fff" stroke-width="1.1" stroke-linecap="butt" stroke-linejoin="round" stroke-opacity="0.14"/><path d="M211.1 767.6C211.8 764.1 213.7 752.1 215.2 746.9C216.8 741.7 219.5 738.3 220.4 736.5" fill="none" stroke="#fff" stroke-width="1.1" stroke-linecap="butt" stroke-dasharray="2.5 4 4 6 1.5 5 3 8" stroke-linejoin="round" stroke-opacity="0.11"/><path d="M306.3 791.6C307.1 789.3 309.5 777.1 311.4 777.9C313.3 778.7 315.2 791 317.6 796.5C320.1 802 324.5 808.6 325.9 811" fill="none" stroke="#fff" stroke-width="1.2" stroke-linecap="butt" stroke-linejoin="round" stroke-opacity="0.14"/><path d="M306.3 791.6C307.1 789.3 309.5 777.1 311.4 777.9C313.3 778.7 315.2 791 317.6 796.5C320.1 802 324.5 808.6 325.9 811" fill="none" stroke="#fff" stroke-width="1.2" stroke-linecap="butt" stroke-dasharray="2.5 4 4 6 1.5 5 3 8" stroke-linejoin="round" stroke-opacity="0.11"/><path d="M288.7 749C290.1 751.9 294.5 765.5 297 766.7C299.4 767.9 301.4 759.7 303.2 756.2C304.9 752.7 306.6 747.6 307.3 745.9" fill="none" stroke="#fff" stroke-width="1.7" stroke-linecap="butt" stroke-linejoin="round" stroke-opacity="0.22"/><path d="M288.7 749C290.1 751.9 294.5 765.5 297 766.7C299.4 767.9 301.4 759.7 303.2 756.2C304.9 752.7 306.6 747.6 307.3 745.9" fill="none" stroke="#fff" stroke-width="1.7" stroke-linecap="butt" stroke-dasharray="2.5 4 4 6 1.5 5 3 8" stroke-linejoin="round" stroke-opacity="0.18"/><path d="M309.4 732.4C309.9 731.7 311.6 727.6 312.5 728.3C313.3 729 314.2 735.2 314.5 736.5" fill="none" stroke="#fff" stroke-width="1.4" stroke-linecap="butt" stroke-linejoin="round" stroke-opacity="0.19"/><path d="M309.4 732.4C309.9 731.7 311.6 727.6 312.5 728.3C313.3 729 314.2 735.2 314.5 736.5" fill="none" stroke="#fff" stroke-width="1.4" stroke-linecap="butt" stroke-dasharray="2.5 4 4 6 1.5 5 3 8" stroke-linejoin="round" stroke-opacity="0.15"/><path d="M343.5 737.6C344.7 739.8 348.1 747.4 350.7 751C353.3 754.6 356.9 757.6 359 759.3C361.1 761 361.4 763.8 363.1 761.4C364.9 759 368 747.9 369.3 744.8C370.7 741.7 369.7 741 371.4 742.8C373.1 744.5 377.3 750.8 379.7 755.2C382.1 759.5 384.2 767.9 385.9 768.8C387.6 769.7 389.3 761.7 390 760.3" fill="none" stroke="#fff" stroke-width="1.7" stroke-linecap="butt" stroke-linejoin="round" stroke-opacity="0.25"/><path d="M343.5 737.6C344.7 739.8 348.1 747.4 350.7 751C353.3 754.6 356.9 757.6 359 759.3C361.1 761 361.4 763.8 363.1 761.4C364.9 759 368 747.9 369.3 744.8C370.7 741.7 369.7 741 371.4 742.8C373.1 744.5 377.3 750.8 379.7 755.2C382.1 759.5 384.2 767.9 385.9 768.8C387.6 769.7 389.3 761.7 390 760.3" fill="none" stroke="#fff" stroke-width="1.7" stroke-linecap="butt" stroke-dasharray="2.5 4 4 6 1.5 5 3 8" stroke-linejoin="round" stroke-opacity="0.20"/><path d="M270.1 761.4C270.6 763.1 272.1 766.9 273.2 771.7C274.2 776.5 275.8 787.2 276.3 790.3" fill="none" stroke="#fff" stroke-width="1.4" stroke-linecap="butt" stroke-linejoin="round" stroke-opacity="0.19"/><path d="M270.1 761.4C270.6 763.1 272.1 766.9 273.2 771.7C274.2 776.5 275.8 787.2 276.3 790.3" fill="none" stroke="#fff" stroke-width="1.4" stroke-linecap="butt" stroke-dasharray="2.5 4 4 6 1.5 5 3 8" stroke-linejoin="round" stroke-opacity="0.15"/><path d="M400.4 759.3C401.1 761 403.1 762.4 404.5 769.6C405.9 776.9 408 797.2 408.6 802.7" fill="none" stroke="#fff" stroke-width="1.4" stroke-linecap="butt" stroke-linejoin="round" stroke-opacity="0.20"/><path d="M400.4 759.3C401.1 761 403.1 762.4 404.5 769.6C405.9 776.9 408 797.2 408.6 802.7" fill="none" stroke="#fff" stroke-width="1.4" stroke-linecap="butt" stroke-dasharray="2.5 4 4 6 1.5 5 3 8" stroke-linejoin="round" stroke-opacity="0.16"/><path d="M454.1 802.7C454.5 795.8 455.3 771.7 456.2 761.4C457.1 751 458.8 744.1 459.3 740.7" fill="none" stroke="#fff" stroke-width="1.1" stroke-linecap="butt" stroke-linejoin="round" stroke-opacity="0.14"/><path d="M454.1 802.7C454.5 795.8 455.3 771.7 456.2 761.4C457.1 751 458.8 744.1 459.3 740.7" fill="none" stroke="#fff" stroke-width="1.1" stroke-linecap="butt" stroke-dasharray="2.5 4 4 6 1.5 5 3 8" stroke-linejoin="round" stroke-opacity="0.11"/><path d="M466.6 766.5C467.9 767.8 472.8 773.3 474.8 774.2C476.9 775 478.3 772.1 479 771.7" fill="none" stroke="#fff" stroke-width="1.7" stroke-linecap="butt" stroke-linejoin="round" stroke-opacity="0.22"/><path d="M466.6 766.5C467.9 767.8 472.8 773.3 474.8 774.2C476.9 775 478.3 772.1 479 771.7" fill="none" stroke="#fff" stroke-width="1.7" stroke-linecap="butt" stroke-dasharray="2.5 4 4 6 1.5 5 3 8" stroke-linejoin="round" stroke-opacity="0.18"/><path d="M319.7 811C321.1 807.2 325.9 794.5 328 788.3C330 782 331.4 776.2 332.1 773.8" fill="none" stroke="#fff" stroke-width="1" stroke-linecap="butt" stroke-linejoin="round" stroke-opacity="0.14"/><path d="M319.7 811C321.1 807.2 325.9 794.5 328 788.3C330 782 331.4 776.2 332.1 773.8" fill="none" stroke="#fff" stroke-width="1" stroke-linecap="butt" stroke-dasharray="2.5 4 4 6 1.5 5 3 8" stroke-linejoin="round" stroke-opacity="0.11"/><path d="M412.8 757.2C413.5 755.2 415.5 744.1 416.9 744.8C418.3 745.5 419.7 756.9 421.1 761.4C422.4 765.8 424.5 770 425.2 771.7" fill="none" stroke="#fff" stroke-width="1.2" stroke-linecap="butt" stroke-linejoin="round" stroke-opacity="0.15"/><path d="M412.8 757.2C413.5 755.2 415.5 744.1 416.9 744.8C418.3 745.5 419.7 756.9 421.1 761.4C422.4 765.8 424.5 770 425.2 771.7" fill="none" stroke="#fff" stroke-width="1.2" stroke-linecap="butt" stroke-dasharray="2.5 4 4 6 1.5 5 3 8" stroke-linejoin="round" stroke-opacity="0.12"/><path d="M439.7 788.3C440.7 785.1 444.1 774.8 445.9 769.6C447.6 764.5 449.3 759.3 450 757.2" fill="none" stroke="#fff" stroke-width="1" stroke-linecap="butt" stroke-linejoin="round" stroke-opacity="0.12"/><path d="M439.7 788.3C440.7 785.1 444.1 774.8 445.9 769.6C447.6 764.5 449.3 759.3 450 757.2" fill="none" stroke="#fff" stroke-width="1" stroke-linecap="butt" stroke-dasharray="2.5 4 4 6 1.5 5 3 8" stroke-linejoin="round" stroke-opacity="0.10"/></g>
</g>
<g clip-path="url(#clipc)" filter="url(#b0p4_1)"><path d="M392.5 612v4.6M135 578.3v2.8M409.9 642.1v4.3M78.6 652.1v4.7M398.2 560.5v4M309.8 646.1v2.6M442.9 621.8v4.8M347.3 643.3v4.7M73.4 546.2v4M251.7 526.9v4.6M455.4 607v3.9M301.8 618.4v3.4M324 582.8v4M434.5 638.8v4.8M469.9 644.2v4.7M455.4 614.2v4.9M456.3 562.9v2.9M73.2 605.4v4.1M315.4 609.8v4.3M132 654.7v3.7M165.3 621.8v2.9M67.8 523.7v3.3M334.4 608.7v3.4M93.7 565.8v3.3M396.5 600.2v4.3M243 673.6v4.3M72.8 549.1v3.4M410.5 589.6v4.9M236 674.8v3.1M419.2 556.8v2.6M194.5 537.7v2.6M152 564.4v4M121.2 542.4v3.7M231.5 561.2v4M257.7 626.3v2.6M275.6 649.5v3M237.3 665.8v2.5M322.8 644.8v4.2M359.9 590v3M118.2 564.1v3M397.4 601.2v2.6M451.2 633v4.4M309.1 612.6v3.5M471.2 572.4v3.4M164.3 631.5v4.8M249.2 554.8v3.5M231.4 543v4.1M185.3 518.4v4.7M326.9 574v3.2M252.8 531.3v3.9M391.2 572.4v2.7" stroke="#3888f0" stroke-opacity="0.2" stroke-width="1.15" stroke-linecap="round" fill="none"/><path d="M80.3 563.7v3.5M215.2 679.3v3.6M259.7 656v2.8M433.8 617.2v3.3M395.8 582.4v4.1M471.3 613.7v3.6M248.5 538.4v3.4M347.2 569.7v3M210.6 593.4v4.4M156 566.6v3.5M397.9 554.1v3.5M323.6 657.1v4.9M255.1 673.4v3.6M173.3 597.9v4M306.6 617.2v2.6M216.5 538.1v3.7M422.1 636.2v4.1M140.7 554.2v3.3M277.5 585.6v3.9M191.2 612.7v3.6M90.4 537v2.9M232.2 617.4v3.9M465 549.4v3.8M238 575.7v2.8M72.7 586v3.8M335 648.7v4.7M283.6 642.8v3.3M352 654.4v3.8M326 492.8v4.1M127.4 581.9v2.7M381.6 657.5v4.1M335.8 587v4.2M465.6 592.9v2.6M391.3 654.2v4.4M207.4 637.1v3.9M197.9 528.5v2.7M115.5 623.5v4.3M192.1 543.2v4.4M302.8 602v2.5M338.8 673.5v3.1M358.5 593.9v4.9M410.6 652v4M318 588v4.6M104.7 589.8v3.2M62.2 546.9v2.5M336.9 521.8v4.8M268.3 537.8v3.9M336.8 665.5v3.8M299.9 623.1v4.9M437.4 625v4.6M293.4 615.4v3.8M288.2 562.3v4.2M260.5 556.3v4.3M386.4 627.4v4.7M338.3 652.1v3.3M285.2 527.8v3.8M277.5 566.5v4.6M95.9 571.5v3M308.4 671.4v3.2M262.1 545.5v3.5M451.2 610.6v2.7M141 556.1v2.5M356.8 639.1v4.8M212.6 645.4v3.5" stroke="#c8b860" stroke-opacity="0.3" stroke-width="1.15" stroke-linecap="round" fill="none"/><path d="M59.2 613.6v4.9M133.8 549.4v2.7M201.6 528.4v4.4M240.4 609.8v2.5M71.5 570.8v4.8M347 632.5v4.2M414.2 601.5v4M132.5 667.6v2.9M135.1 556.4v4.8M447.5 589v5M346.8 653v3.7M156.4 551.3v3.5M285.5 558.7v2.7M331.6 673.6v2.9M93.3 617.2v3.3M418 679.3v3M395.4 630.4v5M219.2 613.5v4.8M410.2 564.3v3.5M352.5 645.4v3.8M325.9 603.6v3.4M263.8 533v4.5M399.6 562.3v3.1M272.6 508.1v3.8M138.2 522.1v4.9M306.3 544.5v4.3M231.6 645.5v3.4M455.3 578.3v3.6M206.2 655.7v2.8M440.3 585.7v2.9M259.6 630.6v3.6M136 606.3v2.7M305.2 614.1v4.2M233.6 606.4v3.9M291.7 547.2v3.6M428 544.2v4.5" stroke="#3888f0" stroke-opacity="0.3" stroke-width="1.15" stroke-linecap="round" fill="none"/><path d="M190.2 758.8v3M289.1 765.9v3.6M475.8 695.7v4.2M161.3 770.2v3.2M407.8 683.5v3.5M462.5 799.3v3.7M449.9 715v3.8M321.3 727.4v4.3M444.2 744.7v3.3M154.7 688.3v4M401.5 738.5v2.7M185.4 738.8v3.2M189.4 724.4v4.9M217.3 685.3v3.5M451.6 724.3v4.9M378.9 731.6v4.2M470.3 768.5v4.5M132.5 700.4v4.4M452.5 704.9v4.3M399.1 745.4v2.8M267 697.6v2.8M115.6 706.8v4M284.5 770.5v3.6M91 721.4v3.5M284 695.3v4.6M376.8 693.1v3.8M195.9 686.5v4.3M349.8 707.9v4.8M433.6 684.1v4.6M417.7 763v3.6M383.5 681.9v3.2M387.9 723.2v3.2M206.3 693.6v2.6M475.2 780.4v3.9M75.5 683.9v3.9M65.7 723.8v2.6M238.3 703.2v2.9M123 745.3v3.8M194.3 800v4.4M367.8 696.3v4.4M281.4 719.4v3.1M454.4 755.4v4.9M103.3 703.7v3.8M162.8 707.6v4.3M301.8 773.2v4.5M307.3 719.2v3.4M478.3 693.8v3.4M293.1 767.4v3.6M422.8 692.2v3.9M353.6 704.8v2.9M64.9 734.4v3.2M257.5 762.6v2.8M356.9 728.7v4.6M352.3 709.6v4.5M213.2 754.7v4.1M110.8 809.1v3.5M91.2 762v2.7M470 703.5v4M473 723.5v4.9" stroke="#30c0c8" stroke-opacity="0.3" stroke-width="1.15" stroke-linecap="round" fill="none"/><path d="M304.7 705.6v3.3M295.7 791.7v2.8M250 698.6v2.6M59.5 729.5v2.6M363.8 730.4v3.8M291 785.7v3.5M324.8 710.6v3.5M70.6 769.1v3.3M207.3 764.7v4.1M397.2 709.4v4.7M87.7 685.2v4.4M190.2 766.5v2.7M430.3 693.6v4.8M441.6 699.5v4M383.1 695.8v4.6M64.6 740.1v3.7M231.3 733.9v4.6M441.5 741.3v3.9M445.5 756.9v3.1M433.6 707.9v4.6M212.2 741.6v4.8M382 745v4.1M235.4 703.8v4.2M434.3 738.9v5M119.3 733.6v4.9M144 699.3v3.3" stroke="#3890f0" stroke-opacity="0.2" stroke-width="1.15" stroke-linecap="round" fill="none"/><path d="M191.1 550.3v3.1M233 657.1v4M426.8 621.6v3.9M369.4 622.5v3M238.6 616.4v2.9M254.1 639.3v3.7M227.6 591.6v3.2M186.1 529.9v4.9M277.4 597v2.6M322.2 651.9v3.5M171.3 674.1v4.3M194.4 576.5v5M147.9 624.1v4.8M355.4 640.1v3.9M73.5 564.2v4.7M446.8 575.6v4.7M468.9 561.8v2.7M477.7 605.7v4.8M465.8 620.1v3M114.8 639v3.7M344.1 572.4v4.5M195 600.7v3.3M77.4 531.4v3M215.7 552.3v4.9M136.4 629.1v3.8M382.2 626.2v4.5M302.1 608.6v4.7M419.1 544.1v3.8M257.4 616.8v2.8M324.2 637.3v2.8M222.3 619.1v3.2M123.9 537.2v3.4M343.6 616.6v2.6M79.1 612.3v4.2M471.2 527v4M317.3 601v2.6M387.9 642.4v4.8M229.7 553.3v3.6M462.2 572.7v4.3M124.3 541.7v3.4M455.8 666.2v3.7M329.7 629.7v3M435.3 537v3.6M124.1 674.6v4.4M423.4 622v2.7M69.4 520.8v3.2M310.9 608.3v4.1M457.6 640v4.7M246.4 658.3v2.9M391.7 631.3v2.8M84.2 557.7v3.1M412.1 553.6v3.6M219.5 585.6v3.6M69.4 614.8v2.7M424.3 538.2v3.2M444.4 601.9v3.9M421.5 586.2v2.8M403.3 654.4v4.3M195.3 638.5v3.1M432.8 677.7v3.8M391.4 589.8v4.3" stroke="#c0d060" stroke-opacity="0.2" stroke-width="1.15" stroke-linecap="round" fill="none"/><path d="M289.1 697.2v3.6M293.8 686.4v3.1M455.2 689.1v2.7M458.5 706.2v3.3M172.3 741.8v4.4M220.3 806.4v2.5M281.6 679.7v4.3M290.5 735.2v3M201.3 747.5v2.9M118.6 777.3v2.7M271.7 722.3v4.2M136.6 748.3v4.1M105.1 699.8v3.5M179.7 707.9v3.6M452.6 710.7v3.9M123 774.7v4.3M304.7 723.3v3.5M402.6 729v3.7M360.7 773.4v3M92 689.8v4.8M436.4 734.5v3.3M305.7 758.7v3.4M268.6 726.7v4M167.8 791v4.4M233.8 726.9v4.6M338.5 775.1v4.5M279.1 696.9v4.7M399.1 700.1v2.8M397.6 698.1v2.7M427.2 708v2.6M423.3 741.8v2.8M232.1 751.7v3M194.8 714.9v4M191.6 693.5v3.2M462.9 720.7v4.9M114.5 725.8v2.9M239.5 701.8v4.8M284.8 697.1v3.5M62.3 731.8v4M275 714.1v5M347.2 737.4v4.1M279 725.6v3.5M239.7 704.9v3M124.4 725v4.8M99.1 733.8v3.5M317.1 693.1v3.6M209.4 758.2v3.1M328 737.1v2.6M216.7 693.9v3.6M333.2 752.7v4.1M297.2 744v2.6M184.1 754.5v3.1M348.2 724.9v3M311.4 719.1v4.5M283.6 767.6v3.9M248.8 710.4v3.9M81.6 694.8v2.7" stroke="#30c0c8" stroke-opacity="0.2" stroke-width="1.15" stroke-linecap="round" fill="none"/><path d="M459.3 585.6v3.4M469.3 677.2v4.3M447.7 539.4v4.6M275.5 665.6v2.5M203 651v3.8M291.8 588.4v4.1M202.3 509.8v3.3M250.7 573.3v2.5M445.4 578.4v3.1M71.6 651.7v4.6M105.5 594.5v3.6M207.3 566.3v3.1M475.1 645.1v3.8M146.3 544.6v3M408.1 584.9v3.3M188.8 600.3v3.1M170.2 544.6v4M77.1 600.6v4.6M165 592.5v4.9M410.9 563.4v4.1M64.1 583.1v3.4M258 543.6v4.3M242.3 525.9v5M478.5 508.9v4.5M460.5 587.9v3.5M251.1 636.3v3.6M362 602.2v3.2M269.6 637.8v2.8M296 546.5v3.3M128.3 584.6v3.8M455.3 545.7v2.8M66.8 576v2.9M317.3 655.2v3.8M313.6 610.6v2.8M329.6 664.1v4.6M440.3 622.4v4.4M467.7 614.5v3.1M101.7 627.3v4.2M84.1 508.2v2.9M295.6 672.3v4.8M392.8 650.8v4.7M182.1 618.6v4.4M256.8 581.6v4.3M82.9 624.6v3.8M308.7 673.2v4.9M226.3 612.7v4.3M63.7 675.7v4.4M319.9 625.5v4.5M265.1 566.3v3.7M476.6 617.4v3.5M289.2 585.5v3.1M278.1 612.1v5M247.3 568.8v3.4M80.6 656.3v3.6M135.3 559.2v4.3M72.9 549.4v3.4M366.5 670v3.2M73.3 500.1v3.4M209.5 529.3v3.9M91.8 570.9v4.3M158.1 530.5v3.3M177.3 555.6v4.5M466.5 615.7v3.4M294.2 556.6v4.4M369.4 677v4.2M447 633v3.9M187 628.5v3.4M472.1 531.4v3M134.1 676.3v2.7M178.1 562v3.1M161.7 607.9v4.9M405.9 676v4M134.2 555v4.3M346.2 534.7v2.8M457.4 598v4.7M238.6 596.6v2.7M239 573.3v4.4M239.5 552.3v3.5M322.9 591.6v4.2M280.2 545.3v2.7M177.3 643.9v4.5M188.1 550.3v2.6M231.3 613.9v4.9M200 657.1v2.5M349.6 556.2v4.7M200.7 672.7v4.2M175.7 621.8v3.9M123.6 568.5v3.3M292.5 610.7v4.2M272.8 604.2v4.9M467.4 672.7v2.8" stroke="#c8b860" stroke-opacity="0.65" stroke-width="1.15" stroke-linecap="round" fill="none"/><path d="M384.3 697.6v4.6M422.8 724.2v4.2M209 690.6v3.8M385.8 808.8v4.8M86.2 689.5v3.2M196.8 728.2v3.5M153.5 777.9v4.1M102.6 763.5v4.3M72.9 720.5v3.8M252.8 684.7v4.6M106.9 703.2v2.8M72.1 741.2v2.8M263.5 728.1v5M209.2 740.8v3.8M334.1 696.3v4.5M365 754.4v4.8M200.2 703.5v4.9M128.3 722.3v4.4M195.2 748v4.2M365.8 684v3.3M62.3 700.1v2.6M404 727.4v3.3M159.9 702.1v4.1M277.3 749.2v3.2M117.1 753.4v4.2M123.6 702.8v2.7M167.7 766v4.2M458.5 708v3.5M471.6 748.5v3M123.6 721.5v4.9M130 690.2v3.2M402 741.2v3.8M137.2 698.9v3.7M110.7 741.8v2.9M447.3 717v3M397.2 717.5v3.3M279.6 723.3v3.4M126.5 729.2v3M357.6 707.7v3.3M171.6 694.1v3.8M462.7 799.4v4.6M134.5 704.4v3.9M411.5 684.9v3M149.3 761.6v3.1M364.3 715.3v3.9M150.2 759.6v3.7M316 770.6v2.7M373.2 771.1v4.7M455.3 696.2v2.7M270.6 713v3.2M58.5 772.1v3.9M273.2 716.6v3.7M415.9 684.3v4.5M428.6 746.2v2.9M446.4 727.7v2.6M219.6 698.1v4.4M137.7 682.2v2.5M410.6 716.7v5M110.1 731.6v2.6M140.4 715.2v4.8M468 738.3v4.6M328.5 774.2v3.3M142.6 685.8v3.5M454.2 718.4v4.4M259.1 758.8v4.6M383.8 729.9v4M444.2 724.4v3.4" stroke="#30c0c8" stroke-opacity="0.45" stroke-width="1.15" stroke-linecap="round" fill="none"/><path d="M201.3 616.1v4.2M192.5 653.3v2.9M317.9 628.2v3M368.2 657.9v4.8M79.4 541.5v4.3M235.2 538.5v4.8M304 565.1v3.1M138.4 652.2v3.1M257.3 655.1v4.8M266.6 558.7v4.6M296.3 577.2v4.3M296.5 557.3v3M256.8 621v3.6M274.8 556.5v4.8M269.1 617.6v4.2M394.5 655.9v3.7M137.7 528.7v3.8M403.2 573.1v2.7M204.5 620v4M418.9 597v4.5M124 631.7v3.5M209 532.9v4.4M329.6 661.2v3.6M407.4 569.9v4.5M291.3 585.5v3.6M244 607.3v3.1M319.5 588.6v4.7M257.3 641.3v3.1M93.7 542.7v4.6M424.2 573.9v3.2M177.8 621v4.5M369.2 664.1v2.8M466.7 614.5v4.8M206.2 545.1v2.8M92.3 609v2.6M247.6 590v4.5M163.4 556v3.9M92.5 592v3M428.9 549.3v3.4M450.8 562.6v4.9M203.8 586.4v3.5M399.9 622.4v4.5M275.1 515.6v4.3M330.4 617.2v3.2M353.1 574.1v4.5M225.6 670.1v3.2M366.4 536.6v4.7M337.3 582.1v4.2M438.7 590.7v2.6" stroke="#3888f0" stroke-opacity="0.45" stroke-width="1.15" stroke-linecap="round" fill="none"/><path d="M321.8 714v2.9M296.2 739.7v3.5M212.9 775.4v4.3M429.8 735.2v3.6M467.7 773v4.1M149 699v2.9M288.8 690.1v3.1M166.3 753v4.8M347.8 706.9v4.7M263.9 722.8v3.2M270.8 773.5v2.9M415.8 696.5v3.1M131 784.5v2.7M334.3 703.5v4.8M156 733.1v3.7M469.8 700.2v2.7M420.1 709.9v2.9M386.2 760.7v2.5M208.5 704.7v5M122.5 773.2v3.2M402.9 703.4v3.2M340 691.3v4.9M297.2 687.1v3M70.3 741.8v3.2M312.5 683.4v3.1M231.9 745.6v4.8M208.4 736.4v3M464.3 767.6v4.2M257 707.7v3.8M156.4 722.7v3.8M125.9 733.1v3.4" stroke="#70d090" stroke-opacity="0.65" stroke-width="1.15" stroke-linecap="round" fill="none"/><path d="M158.2 640.8v4.1M211.1 599.6v3.2M386.3 578.4v3.3M59.9 568.8v4.8M445.3 570.5v4.2M349.5 551.1v3.4M68.5 607.8v4.8M177.8 628.2v3.5M348 643.8v4.1M89.8 661v4.6M415.9 614.7v5M407.7 646.6v3.2M334.4 629.9v2.8M390.2 612.5v4.4M369.1 580.2v4.8M439.6 610.7v3.7M156.2 674.7v3.6M444.8 541.2v4.1M213.4 593v3.9M399.1 601.5v4.8M328.2 586.3v3.8M439.3 524.5v3.6M205.5 669.1v4.7M93.1 610.1v5M242.5 610.4v5M423.2 520.4v4.3M368.6 557.3v3.6M363.1 667.4v4.9M444.8 624.9v4.4M323 622.7v3.2M116 612.5v4.2M126.8 663v3.8M282.7 570.5v4.8M209.4 632.2v2.8M336.1 660v4.5M60.1 566.8v2.8M273.4 587.7v3.6M440.3 601.3v4.8M142.9 619.1v4.4M123.7 676v5M210 574.9v3.4M284.3 568.8v4.3M348.5 637.3v2.7M138 597.9v4.2M162.1 671.6v2.7M429.7 608.3v3.6M321.8 596.1v2.6M452.3 552.8v4.6M117.2 548.1v3.5M65.1 678.5v2.7M323.3 669.3v4.9M368.2 534.5v2.6M198.2 575.7v4M247.9 663.5v4.6M133.7 552.3v3.2M373.8 543.1v3.4M418.2 602v3.3M437 664.6v3.7M438.5 597.7v5M364.4 603.7v3.5M463 647.4v3.4M336 562.1v4.2M387.6 570.6v3.8M318.2 646.2v2.8M208.4 619v4.7M143.1 643.8v3.7M98.6 576.5v3.3M196.1 540.9v3M256.8 572.8v4.2M473.5 586v3.3M368.4 582.5v4.1M117.2 654.3v3.6M455.4 560.7v4.9M231.9 555.5v3.1M185.3 561.3v3" stroke="#50c0a8" stroke-opacity="0.65" stroke-width="1.15" stroke-linecap="round" fill="none"/><path d="M198.9 607.5v3.9M137.5 588.8v4.5M148.6 602.1v4.7M224.3 672v2.9M185.1 533.3v4.5M117.1 552.5v3.7M138.2 662.8v4.7M140.3 593.1v3.8M140.3 669.5v2.6M294.5 654v3.3M59.8 525.3v4.3M310 545v2.7M59 559.3v4.6M355.7 518.4v4.9M203.2 651.6v3M276.1 564.7v3.1M363.3 593.9v4.5M58.9 618.9v5M314.9 606.3v4.8M190.3 626.6v2.6M361.4 619.3v4.9M404.6 573.2v4.7M94.2 637.1v4.5M179.8 614.5v4.8M286.4 511.7v3.9M411.2 642.4v4.4M409.2 678.6v3.6M415.5 524.1v3.1M65.1 568.4v4.9M119.5 630.8v3.8M311.4 609.2v2.8M80.3 617.8v4M103.7 551v4.7M385.9 555.9v3.7M238.5 539.7v4.2M463.3 586.8v2.7M374.4 557.1v3.9M311.6 544.7v4.9M329.8 578.9v3.8M87.1 500.4v4.6M465.7 527.1v4.9M176.1 550.9v3.2M168.4 557.4v3.9" stroke="#c8b860" stroke-opacity="0.95" stroke-width="1.15" stroke-linecap="round" fill="none"/><path d="M179.8 707.5v3.4M365.2 759.7v3.7M61.3 734.3v3.8M89.3 729.6v2.9M131.5 688.1v5M113.3 737.7v3.1M200.2 706v2.7M297.3 767.8v4.8M339.1 689.1v4.3M238 702.5v4.2M344.1 742.5v3.1M192.9 688.3v4.3M143.5 778.1v3.2M466.1 694.8v4.2M175.1 738.1v3.1M137.4 718.3v4.9M426.4 687.7v4.7M248.3 731.9v5M349.3 747v4.2M105.5 762.8v4.7M210.2 804.7v4.2M428.4 741.6v3.7M275.1 712.9v2.8M432.8 683.3v4M238.9 712.1v3.2M357.5 704.3v3.3M473.2 693v3.9M323 731.3v3.1M397.7 685.6v2.7" stroke="#3890f0" stroke-opacity="0.45" stroke-width="1.15" stroke-linecap="round" fill="none"/><path d="M406.3 605.1v4.9M385.4 636.7v4.6M239.8 531.1v3.4M269 615.9v5M103 633.3v3.9M214.1 601.6v5M302.2 577.8v4M425.3 543.9v2.7M155 542.2v3.3M464.9 591.9v2.6M198.1 541.1v3.6M101.3 600v3.6M239.3 653.2v4.7M457.1 525v4.7M157.1 562v3.6M285.4 567.9v2.6M310.5 577.1v3.3M139.8 570.2v2.7M180 541.7v2.9M368 637.8v4.8M96.6 639.8v3.6M76.9 522.8v4.5M367.9 581.1v2.8M168.7 555.6v3.4M277.4 596.7v3.4M290.9 667.4v4.2M418.4 576.4v2.7M275.2 585v3.3M341.2 587.9v3.4M61.3 627v3.1M306.7 649.8v4.3M232 563.9v2.8M451.7 547.3v3.2M476.5 528.7v4M446.6 634.2v3.1M198.6 634v2.8M400 652.4v3M473 646.2v3M472.3 574.5v3.8M331 571v4M276.2 564.2v3.7M123.8 594v4.9M101.6 632.5v3.9M60.3 621.4v4.8M305.7 610.8v2.7M305.4 556.7v4.2M242.4 550.6v3.6M392.5 631.3v4.4M238 568.1v4.8M106.7 635.5v3.6M192.7 630.3v3.6" stroke="#c0d060" stroke-opacity="0.65" stroke-width="1.15" stroke-linecap="round" fill="none"/><path d="M172.2 634.6v4.1M91.2 556.4v4.4M335 678.2v4.3M196.8 629v3.6M390.1 603v4.2M456.6 561.3v3.2M466.1 674.8v4.1M79.6 600.1v3.8M150.5 573.5v4.1M471.2 544v3.8M283.1 543.9v4M117.1 634v4.3M429.2 525.3v4M270.2 540.8v4.5M377.4 543.5v3.1M421 641v2.6M214.1 670.4v4M237 564.4v4.5M283.6 536.5v3.2M399.4 631.4v3.8M293.6 526.1v3.5M230.2 670.9v2.8M406.3 596.5v2.9M204.8 639.9v4.1M462.5 674.7v3.6M202.6 637.4v4.3M410.8 601.1v3.8M134.7 560.3v4.3M155.8 602.5v4.8M276.8 583.1v3.1M178.4 530.6v2.6M141.6 615.3v3.1M150.9 666.6v2.9M423.4 616.7v3.4M259.1 536v3.9M405.1 623.2v4M383.4 592.8v3.9M303.1 635.8v2.8M99.4 601.2v4.5M458.1 543.5v3.6M415.3 643.5v4.9M169.2 635.7v4.4M159.8 574.8v3M132.2 552.8v4M293.6 624.2v4.1M296.9 554.9v4.3M295.9 564.9v4.6M157.9 666.3v4.2M188.1 585.7v4.6M279.7 545.2v3.8M457.2 635.2v3.3M407.6 637v4.9M163.8 563.5v3.2M236.6 651.5v4M205.9 551.2v3.2" stroke="#3888f0" stroke-opacity="0.65" stroke-width="1.15" stroke-linecap="round" fill="none"/><path d="M106.8 722.3v3.9M214.4 768.4v4.1M241.6 686.6v2.8M200.8 723.3v4.3M243.4 721.8v2.7M173.8 702.2v2.6M64.8 775.6v3M428.5 692v2.7M137.2 733.5v3.1M107.7 743.4v2.9M118.2 739v4.9M425.7 739.5v3.3M289.5 734.2v3.5M136.5 682.1v4.4M204.7 698.6v3.5M426.3 780.7v2.8M244.3 723.5v2.6M242.6 712.5v2.6M174.8 694.7v3.9M373.3 686.1v5M71.8 708.1v3.1M342.1 702v4.6M225.1 710.2v3.5M109.6 775.9v2.9M399.6 769.5v3.9M153.2 754.9v3.2M426.7 768.4v3M315.8 714.9v2.8M374.3 739.5v3.3" stroke="#70d090" stroke-opacity="0.2" stroke-width="1.15" stroke-linecap="round" fill="none"/><path d="M273.8 714.7v4.5M213.5 695.3v4.4M364.2 692.7v3.4M259.6 728.7v3.2M253.7 696.8v3.1M304.9 764.6v4.3M439.7 732.4v2.5M153 730.8v3.1M89 731.1v4M201.7 684v3.2M137.3 695.1v2.9M155.1 757.6v4.7M270.5 733v3.4M145.3 722.7v2.9M377.5 745.3v4.5M371.4 706.3v3.8M191 801.2v4.6M439.1 748.3v3.3M78.1 700.4v4.3M182.3 695.9v4M299.9 789.7v2.8" stroke="#e0c840" stroke-opacity="0.45" stroke-width="1.15" stroke-linecap="round" fill="none"/><path d="M118.2 605.7v4.9M341.8 597.6v4.3M231.1 539.9v4M431.4 675v3.4M113.4 627.2v4.1M271.6 590.7v4.3M184.4 553.1v2.8M227.9 579.4v4.3M152.3 623.2v4.1M458.3 570.7v3M171.1 541.3v4.4M410.5 612.2v3.9M232.5 574.4v4M379.5 647.4v4.5M164 573.4v3.1M249.7 599v4.6M422 552.6v4.2M174.2 655.1v2.8M440.6 559.9v4.2M136.8 667v3.9M323.6 596.7v4.7M428.4 589.8v4.5M251 678.3v2.9M318.2 662.8v4.1M243.6 655.1v5M274.2 556.6v4.4M232.8 614.8v4.3M176.8 646v4.4M203.5 665.4v3.1M73.6 623v2.6M256.8 539.2v4.2M333.8 561.7v3.5M156.4 595.5v2.6M329.5 619.5v3.1M436 595.4v3.7M148.8 645.1v3.9M337.2 588.6v4.6M261 550.3v4.7M92 617v3.7M362.6 530.4v4.9M383 540.6v4.2M390.4 594.9v4.5M354.5 624.9v4.5M361.1 594.7v4.2M339.7 568.6v3.6M309.7 577.5v4.4M298 647.1v3.7M172.6 644.9v3.4M177.5 570.3v4.2" stroke="#50c0a8" stroke-opacity="0.3" stroke-width="1.15" stroke-linecap="round" fill="none"/><path d="M356 653.7v4M257.3 597.7v4.5M62.7 555.4v4.5M437.3 568.7v4.9M473.6 511.6v3.8M345.9 599.4v4.8M241.7 679.3v3.3M61.2 576.1v3.4M471.4 570.5v4M125.3 665.7v4.5M254 655.2v2.6M99.4 551v3.8M254.7 557.3v2.9M80.5 572v4.2M197 626.2v4.6M433.6 641.5v2.5M72.1 538.2v3.3M348.8 607.5v4.9M91.5 614.6v4.9M272.2 632.9v4.4M339.1 593.7v4.7M225.8 541.3v3.3M315 652.3v4M195 629.1v4M61.5 597.5v3.8M416.8 583.4v3.7M458.1 547.4v4.4M389.1 613.3v4.3M473.9 516.8v4.3M454.8 569.5v2.6M393.4 655.2v5M368.1 584.3v4.4M73.2 636.5v4.4M245.7 612.1v4.1M407.3 609.8v3.9M114.3 583.6v3.4M383 663.6v2.5M341.5 576.4v4.7M281.8 676.9v3.2M154.3 622.2v3.6M462 671.7v5M432.6 630.2v3.7M82.2 640.9v3.3M429.3 539.7v3.7M256.5 628.4v3.5M203.8 519.2v4.2M101.6 635.1v3.3M167.8 602.9v4.8M248.7 618.2v5M372.6 516.3v3.6M282.3 639.9v2.6M90.9 558.9v3M343.6 546v4.5M245.5 659.6v3.1" stroke="#c0d060" stroke-opacity="0.3" stroke-width="1.15" stroke-linecap="round" fill="none"/><path d="M473.8 725.8v3.8M444.1 768v4.5M189.4 740.1v3.3M442.8 774.2v2.6M89.3 735.5v3.6M82.8 685.5v2.9M140 773.1v4.7M86 756.9v4.6M463.2 723.1v2.7M290.7 734.8v4.4M153.8 749.5v2.9M96 698.7v4.9M196.9 721.5v4.5M389.2 775.7v3.5M214.8 732.6v4.7M79.2 682.6v5M319.7 728.2v4.1M141.3 717.4v2.9M424 715.5v3M312.4 720.6v4.6M258 734v3.9M422.1 795.4v4.8M68.9 749.1v2.9M440.4 744.3v4.2M354.8 700.1v4.5M252.6 754.2v2.9M382.5 712.8v2.9M453.5 775.6v3M278 737.7v3M74.4 722v2.8M250.7 754.6v2.6M414.5 725.1v4.7M85.9 706.4v4M88.9 731.8v2.5M117.8 701v2.5M160.1 746v3.7M328.1 718.4v4.6M178.9 684.6v3M465 705.3v4.6M114.1 734.7v4.9M291 714.4v3M438.2 742.9v4.5M176.6 763.6v4.6M437.5 699.8v4.4M319.6 728.7v3.3M256.7 694.4v2.8M242.4 716.4v3.2M104.8 726.3v2.6M85.6 704.7v4.9M195.1 721.8v2.7M437.3 782.1v4.6M328.2 760.3v3M205.7 685.1v2.7M99.7 744.6v4.8M323.2 726.8v3.8M241.1 705.4v4.2M346 752.2v4.2M66.5 764v4.2M175.5 687v3.2M256.7 683.8v3.6M173.4 685.3v2.6" stroke="#30c0c8" stroke-opacity="0.65" stroke-width="1.15" stroke-linecap="round" fill="none"/><path d="M111.4 525.3v4.3M116.6 601.3v4.8M100.4 674v4.7M79.8 632.9v4.9M101.7 503.6v2.9M352 537.5v4.1M444.7 655.8v2.8M189.6 618.5v2.8M344.5 601.6v4.5M430.1 553.5v4.6M411.2 607.4v3.2M403.9 570.9v4.6M429.1 675.5v3.7M360.4 561.2v4.6M362 567.7v5M271.5 648.4v4.9M458 649.4v2.9M103.5 545.9v2.6M239.3 553.4v2.7M129 629.3v3.5M139 611.8v4.9M245.5 644.8v3.9M237.2 662.3v3.2M104.1 523.2v3.5M286.6 545.3v3.6M313 543v3.8M446.9 615.9v4.9M85.4 676.6v2.8M107.3 583.6v5M103.9 587.8v4M183.7 610.1v3.7M192.8 534.8v3.9M417.9 591.8v2.8M197.2 537.6v3.3M294.2 492.8v3.5M165.4 547.3v4.3M105 642.1v4.6M153.4 549.6v4.1M157.1 575.9v2.8M121.8 573.9v2.9M101.3 533.9v3.5M80 554.5v4M412.4 611.1v3.7M184.2 660.4v3M114.1 561.8v4.3M136.5 635.1v2.5M338.8 631.8v4.8M261.6 610.5v4.4M134.7 586.8v4M219.9 533.2v4.8M378.9 649.8v3.5M220.8 678.2v4.4M211.5 565.9v4.5M64.2 641.1v4.1M115.2 567.8v3.3M423.1 625v4.2M104.4 646.4v4.7M172.6 641.2v3.8M251.5 649.4v4.8M365.9 654.9v3.5M153.2 608.4v3.3M109.5 635.5v3.4M292.5 542.7v2.7M365.9 571.8v4M411.9 539.9v4.3M332.2 640.7v4.5M421.9 556.3v3M433.2 562.9v3.8M327.9 536.6v3.1M200.9 588.6v2.5M275.9 599.9v3.5M474.5 547.5v3.6M169.9 577.8v3.9" stroke="#c8b860" stroke-opacity="0.45" stroke-width="1.15" stroke-linecap="round" fill="none"/><path d="M114.1 593.2v4.7M366.2 638.3v4.2M412.2 587.2v4.3M371.6 633.7v4.4M66.4 591.4v4.5M277.8 621.5v4.4M95.7 606.2v3.8M356.4 646.7v3.3M468.6 677.8v2.5M343.1 562.4v4.4M73.8 628v4.4M354.3 585.6v3.2M80.1 621.9v3M325.3 564v4.3M310.3 584.9v3.6M376.6 650.6v3.4M198.4 623.1v4.1M409.9 588.5v4.5M275.9 670.9v3.7M156.6 568.6v3.3M273.9 628.4v2.7M86.8 556.2v3.5M425.3 559.2v4.1M467.7 509.3v2.8M436.7 505.5v2.8M402.7 660.4v3.1M334 562.8v4.8M344.1 628.4v3.2M74 586.1v4.3M181.9 628.9v3.8M392.5 636v5M263.7 596v3.3M248 526.1v2.7M309.6 580.5v2.7M425.1 565v3.8M345.2 539.6v4.7M411 547.7v4.3M280.5 546.5v4M412.1 648.4v4.8M459 609v3.8M77.4 614.1v3.2M432.3 582.3v3M60.3 577.2v3.9M412.6 586.2v3.2M167.9 607.9v4.3M407.9 575.5v4.2M282.9 677v2.7M404.4 640.2v4.2M316.5 561.1v4.3M448.7 582.6v4.6M283.1 665.3v4.1M425.8 615.5v4.2M459.1 625.6v3.8M267.3 557.2v3.1M395.1 647.4v3M191.6 538.2v4.3M283.8 535.5v3M183.4 602.5v2.7M106.5 591.7v4.2M68 611.8v4.4M250.8 596.3v3.5M273.6 664.7v4.1M236.8 656.3v2.8M423 649.3v5M203.8 570.1v4M471.3 603.5v3.5M304.6 630.3v2.6M255.4 655.1v3.7" stroke="#c8b860" stroke-opacity="0.2" stroke-width="1.15" stroke-linecap="round" fill="none"/><path d="M345.1 542.8v3.7M321 629.1v3.3M354 653.6v4.7M172.8 638.2v3.6M388 635.4v3.8M66.6 658.4v2.9M311.8 670.2v2.9M319.7 624.4v4.3M437.8 589.8v4.3M229.7 544.8v3.5M167.9 624.6v2.9M73.8 638.4v4M323.1 549.5v4.6M314.8 559.5v4.5M76.3 510.3v4.9M242.9 648.9v3.9M379 583.1v4.1M236.4 596.2v2.5M315.2 573.3v3.6M302.3 595.4v3.7M109.3 647.9v4M111.5 591.8v3.2M92.4 638v4.3M292.1 536.5v4.1M267.7 617.9v2.7M425.9 539.6v3.7M246.1 569.9v4M228.6 626.2v3.1" stroke="#50c0a8" stroke-opacity="0.95" stroke-width="1.15" stroke-linecap="round" fill="none"/><path d="M169.1 634.2v3.8M163.4 669v4M106.1 598v4M420.8 610v2.9M325.6 511.9v4.6M293.1 575.8v4.2M198 575.2v4.7M283.5 595.6v4.7M272.9 637.9v3.8M198.7 532.7v4.8M372.5 650.6v4M292.4 578.8v3.7M305.9 618v3.4M406.2 571.4v3.6M323.6 567.3v3.1M90.3 567.8v4M339.7 628.1v4.4M118.4 557.5v4M373.1 540.7v3.9M370.3 603.8v3.4M188.4 645v4.6M134.5 647.7v4M262.7 545.6v2.5M171.9 588v4.4M225 587.2v3.1M206.6 626v3.1M384.2 554.1v3.6M192.5 652.5v3.7M257.4 653.1v2.8M206 577.8v2.6M244.7 655.3v2.8M300.7 672.4v3M345 603.2v3.5M450 549.9v3.3M62.9 624.2v2.7M134.8 571.1v3.3M385.3 656.7v4.2M158.6 522.2v3.7M91.1 613.7v2.6M339.9 666.7v3.5M387.4 594v4.8M201.4 569.4v4.3M102 657.8v4.7M59.4 648v4.8M388.1 564.7v2.6M130.9 675.6v3.2M261.1 523.9v3.7M68.5 650.6v3.2" stroke="#50c0a8" stroke-opacity="0.45" stroke-width="1.15" stroke-linecap="round" fill="none"/><path d="M216.4 743.4v4.5M143.1 697.9v4.4M67.1 752.4v4.3M213.7 732.5v4.8M100.1 705.5v4.3M290 769.6v3.4M336.8 765.8v4.6M417.6 681.3v3.3M326.8 723.7v3.1M141.3 710.1v2.6M252 726v3M151.1 720.9v2.6M266.9 728.7v3.7M409 709.4v3.9M430.9 798v4.1M111.5 733.7v3.2M306.5 705.9v3.1M92.2 701.9v3.2" stroke="#70d090" stroke-opacity="0.45" stroke-width="1.15" stroke-linecap="round" fill="none"/><path d="M452.1 748.9v3.7M340.8 786.9v3.6M468.6 695.5v4.3M301.5 684.7v3.3M128 729.2v4.9M90.7 683.7v3.5M357.5 736v3M338.7 745.9v2.8M435.3 747.3v4.9M135.3 764v3.8M214.7 709v2.9M442.6 743.2v3.5M230 735.2v4.7M353.5 701v3.6M162.6 761.9v4.1M113.5 686.6v4.8M157.7 681.8v2.8M409.8 775.4v3.8M161.6 767.8v4.8M131 735.7v2.7M450.5 808v3.6M335.1 706.1v2.7M451.6 759.1v4.5M245.5 713.9v3.2M454.2 746.6v3.7" stroke="#3890f0" stroke-opacity="0.65" stroke-width="1.15" stroke-linecap="round" fill="none"/><path d="M402.2 635.1v3.7M440.8 602.4v4.6M270.2 564.8v4.5M76.4 581.1v4.9M165.2 670.9v4.2M76.8 641.7v3.6M299.6 646.9v4.7M84.8 580.1v4.2M175.9 671.9v4.5M226.9 578.8v3.9M338.2 581.9v4.3M296.5 574.4v2.8M120.7 586.7v3.5M157.1 555.2v2.7M345.9 551.9v3.4M427.5 619.6v3M422.4 632.5v2.8M383.9 573.9v2.7M380.7 594.8v3.1M332.9 671.8v2.9M89.2 518.1v4.7M305.9 650.3v3M242.7 645.3v3.6M113 569.5v4.3M137.4 588.8v4.1M233.7 563.8v2.9M297.9 617.3v3M311.3 535.3v2.8M289.7 621.8v4M80.7 638.4v2.8M107.1 648.8v3.4M447.2 567.4v2.9M133.9 539.7v2.9M250.4 548.6v3.1M107.8 519.3v3.2M140.2 645.5v4.7M113.9 499v3.5M312.8 586.8v4M193.7 648.7v3.8M158.4 577v4M80.1 546.3v2.7M96 555v3.5M380.2 679.6v3M388.5 518.5v3.1M396.8 554.5v2.7M144.8 550.9v2.5M451.4 574.4v4.3M185.9 573.3v4.8M367.7 644.4v4.5M373.5 536.5v2.9M304.6 575.9v2.8M447.4 567.4v2.9M364.2 618.5v3.6M106.7 590.3v3.4M183.6 558.5v4.4M398.4 546v4.4M101.6 545.6v3M168.8 658.2v2.8M258.5 561.3v3.1M263.3 621.2v3M72.1 567.2v4.1M422.2 512.8v4.3M298.6 609.9v4.2M147.8 522.1v2.9M352 678v4.9M196.8 638.9v2.8M135.6 555.6v2.9M399.6 678.1v2.9M234.9 624v3" stroke="#50c0a8" stroke-opacity="0.2" stroke-width="1.15" stroke-linecap="round" fill="none"/><path d="M347.3 694v2.8M294.8 801.8v3.3M184.2 687.3v3.6M469.4 727v3.2M63.2 778.6v4.2M176.4 728.8v2.7M197.6 730.6v4M321.4 704.8v4.7M104.9 727.3v3.5M274.1 769.7v3.6M183.3 712.9v4M359 681.5v4.1M380.9 710.2v4.6M464.8 732.8v4.3M237.4 768.7v3M412.9 701.7v3.3M447.1 722.5v3M271.9 740.6v4.5M168.5 717.8v3.4M355.4 698.6v4.7M268.3 727.6v3.6M63.7 740.4v4.5M410.3 697.4v2.6M230.4 698.8v3.4M298 739.6v3M439.5 761.8v4.1M149.3 724.6v4.6" stroke="#3890f0" stroke-opacity="0.3" stroke-width="1.15" stroke-linecap="round" fill="none"/><path d="M58.5 690.5v2.8M250.7 710.7v4.1M362.1 694.3v3.2M77.7 723.7v4.5M265.3 721.8v4.8M214.5 786.3v3.9M431.1 700.5v3.1M108.1 685.9v4.7M270.8 788.6v2.8M409.8 707.4v3.9M159.1 713.7v5M361.4 719.2v3.2M326.6 695v4.8M208.4 718.8v2.8M255.9 732v4.4M235.1 729v4.4M246.1 748.2v3M254.5 693v4M116.4 744.9v3.9M222.5 707.4v4.7M329.2 682.9v4.1M138.4 719.8v4.9M442 688.1v4.7M356.2 725v3.5M207.3 765.3v4.8M173.9 693.4v4.2M129.8 751.2v2.8M190.3 701.8v4.3M91.3 681.9v4M163.6 770.3v4.2M359.4 745.3v3.6M326 684.9v4.1M418.8 772.4v4M172.9 740.6v3.2M233.9 764.1v4.1M396 693.1v4.6" stroke="#30c0c8" stroke-opacity="0.95" stroke-width="1.15" stroke-linecap="round" fill="none"/><path d="M453.7 617v2.5M308.8 584.3v4.4M86.5 597.9v3.1M425.4 567.4v2.6M122.3 571.6v2.6M316.8 665.3v4.7M326.9 553.6v4M155.8 589.3v4.2M370.7 573.2v4.1M178 578.6v5M406.9 603.5v4.6M155.1 597.9v4.8M85.4 575.6v4.1M438.2 599.5v3.9M138.7 660.9v2.6M70.4 597.2v4.7M416.2 634v3.7M246.2 574.6v4M455.1 582.8v3.8M143.3 553.5v2.8M358.2 627.5v3M422.3 549.7v4.5M236.5 557.6v4.6M117.8 541.2v4.3M282 561.9v4.4M133.7 540.9v4.2M313.7 654.6v3.2M155.4 600v2.8M220.9 561.4v2.9M389.2 557.1v3.7M261.3 537.4v4M89.5 669.5v4.8" stroke="#c0d060" stroke-opacity="0.95" stroke-width="1.15" stroke-linecap="round" fill="none"/><path d="M236.4 702.6v2.9M328.1 707.1v2.7M352.4 753v4.7M74.4 776.5v2.7M267.5 681.7v4.6M399.2 718.1v3.8M317.3 700.3v4.7M119.7 691.4v3.9M248.8 766.1v4.4M153.8 751.6v4.8M434.6 758.3v2.7M309.9 713.1v2.7M185.1 728.5v2.6M202.6 705.9v3.2" stroke="#e0c840" stroke-opacity="0.65" stroke-width="1.15" stroke-linecap="round" fill="none"/><path d="M438.5 675.9v3M453.9 567.4v2.8M228.7 594.9v2.5M241.1 573.9v3.9M92.5 601.8v4.6M461.8 613.6v4.8M267 539.2v3.3M141.4 639v3.3M374.1 564.8v3.8M369.6 652.3v4.8M316.3 529.6v4.7M355.6 549.5v3.3M216.9 671.8v3.1M266.2 636.9v3.3M443.5 580.6v4.4M179.6 588.7v3M272.8 658.7v3.2M298.3 617.6v3.3M204.3 555.4v3.4M316.3 629.1v2.5M204.6 529.3v4M353.6 650.7v3.9M474.2 587.3v4.7M137.8 548.1v2.5M141 525.5v3.8M201.1 617.3v4.2M129.8 570.6v2.8M280 661.6v3.7M64.5 503.2v2.8M294.7 551.2v4.4M339.9 638.5v3.3M316.4 567.5v3.3M134.1 583.5v3.2M450.3 677.6v2.8M308.8 607.3v4.8M105 562.1v3.6M461.3 625.8v3M248.4 570.3v4.8M379.9 540.6v4.9M441.3 517.5v2.6M112.9 565.2v4.7M449.2 669.1v3.3M178.7 499.2v4.6M474.3 619.6v3.1M173.3 590.3v4M469.3 498.9v2.8M471.7 554.6v3.1M470.9 609.9v4.3" stroke="#c0d060" stroke-opacity="0.45" stroke-width="1.15" stroke-linecap="round" fill="none"/><path d="M358 550.5v4.1M77.9 583.1v2.9M81.5 654.8v3.9M308.6 659.6v4.5M202.9 640.3v2.8M461.6 613.7v4.7M158.6 608.2v3.7M178.6 651.3v4.5M296.8 555.8v4.2M169.8 607.9v3.4M66.2 629.4v4.9M412.1 542.4v3.2M460.7 610.7v3.2M347.9 579.1v4.5M373.7 523.3v3.2M245.6 526.9v4.8M294.4 601v3.6M302.8 650.9v4M468.3 603.7v4M318.2 560.5v4.9M338.1 633.7v3.5M239.5 615v4M394.8 563v3.4M252.1 640.6v4.4" stroke="#3888f0" stroke-opacity="0.95" stroke-width="1.15" stroke-linecap="round" fill="none"/><path d="M264.6 702.4v2.8M70.9 694.7v3.9M193.3 725.7v2.9M303.7 714.9v3.2M82.6 751.1v3.1M366.7 729v2.8M146 723.2v3.3M64.9 717.1v4M290.3 730.8v5" stroke="#e0c840" stroke-opacity="0.2" stroke-width="1.15" stroke-linecap="round" fill="none"/><path d="M241.1 685.8v4.1M303 787v4.1M215.1 712.4v2.7M424.2 734.6v4M241.2 746.8v4.8M465.2 733.9v4.4M341.4 745.5v2.8M121.7 764.5v4.6M129.7 703.5v2.7M183.4 742.1v3.9M191.5 799.4v4.9M177.2 742.2v4.7M285.6 732.8v2.8M265.8 679.9v3.6M359.2 689.2v2.6" stroke="#3890f0" stroke-opacity="0.95" stroke-width="1.15" stroke-linecap="round" fill="none"/><path d="M376.1 690.6v3.6M422.1 780.4v4M126.3 736.4v4.3M111.4 753.3v4.3M178.1 716.1v3M387.9 750.8v3.6M127.2 769.8v3.3M201.1 753.2v2.9M147.1 698.7v4.4M147.1 726.7v4.3M377.6 729.2v3.7M202.3 707.2v3.4M248.2 809.1v3.5M147.7 759.3v3.9M61 723.8v4.2M331.1 765.8v3.4M262.7 758.3v4M321.4 730.4v3.1M295.4 685.5v3.2M354.9 727.7v2.7M244.4 690.1v2.7M451.3 756.9v3.1M63.8 713.3v4.4M304.6 716.7v3.2M315 718.3v3.1M243.6 742.8v5M231.8 684.2v4.1M329 703.1v3.3M449.8 731.8v4.4" stroke="#70d090" stroke-opacity="0.3" stroke-width="1.15" stroke-linecap="round" fill="none"/><path d="M445 767.4v4.5M120.9 766.1v4.7M428.2 743.4v3.7M284.5 695.5v4.8M295.3 749v3.6M367.4 750.5v4.4" stroke="#e0c840" stroke-opacity="0.3" stroke-width="1.15" stroke-linecap="round" fill="none"/><path d="M243.1 695.7v4.1M390.9 728.2v4.2M470.5 682.8v3.9M158 716.9v2.6M252.5 728.6v4.8M398.4 748.8v2.8M403.5 691.7v4.5M119.7 714.3v3M202.6 743v3M334.6 788.7v4.4M329.5 710.2v3.9M295.2 736.5v3M370 743.3v3.8M121.8 709.7v4.8M237.8 714.5v3.4" stroke="#70d090" stroke-opacity="0.95" stroke-width="1.15" stroke-linecap="round" fill="none"/><path d="M165 698v3.3M427.7 681.3v4.4M264.7 759.7v2.9M428.1 690.1v4.6M163.2 708.1v4.3M195.6 697.5v4.1M92.2 680.1v3.9" stroke="#e0c840" stroke-opacity="0.95" stroke-width="1.15" stroke-linecap="round" fill="none"/></g>
<rect x="57.5" y="492.5" width="422" height="326" fill="none" stroke="#262626" stroke-width="0.9"/><path d="M99.8 818.5v-4.5 M99.8 492.5v4.5M142.1 818.5v-4.5 M142.1 492.5v4.5M184.5 818.5v-4.5 M184.5 492.5v4.5M226.8 818.5v-4.5 M226.8 492.5v4.5M269.1 818.5v-4.5 M269.1 492.5v4.5M311.4 818.5v-4.5 M311.4 492.5v4.5M353.7 818.5v-4.5 M353.7 492.5v4.5M396.1 818.5v-4.5 M396.1 492.5v4.5M438.4 818.5v-4.5 M438.4 492.5v4.5M57.5 786.5h4.5 M479.5 786.5h-4.5M57.5 754.7h4.5 M479.5 754.7h-4.5M57.5 722.9h4.5 M479.5 722.9h-4.5M57.5 691.1h4.5 M479.5 691.1h-4.5M57.5 659.3h4.5 M479.5 659.3h-4.5M57.5 627.5h4.5 M479.5 627.5h-4.5M57.5 595.7h4.5 M479.5 595.7h-4.5M57.5 563.9h4.5 M479.5 563.9h-4.5M57.5 532.1h4.5 M479.5 532.1h-4.5M57.5 500.3h4.5 M479.5 500.3h-4.5" stroke="#262626" stroke-width="0.8" fill="none"/><text x="99" y="836.9" text-anchor="middle" class="tk">0.1</text><text x="141.3" y="836.9" text-anchor="middle" class="tk">0.2</text><text x="183.7" y="836.9" text-anchor="middle" class="tk">0.3</text><text x="226" y="836.9" text-anchor="middle" class="tk">0.4</text><text x="268.3" y="836.9" text-anchor="middle" class="tk">0.5</text><text x="310.6" y="836.9" text-anchor="middle" class="tk">0.6</text><text x="352.9" y="836.9" text-anchor="middle" class="tk">0.7</text><text x="395.3" y="836.9" text-anchor="middle" class="tk">0.8</text><text x="437.6" y="836.9" text-anchor="middle" class="tk">0.9</text><text x="52" y="791.7" text-anchor="end" class="tk">50</text><text x="52" y="759.9" text-anchor="end" class="tk">100</text><text x="52" y="728.1" text-anchor="end" class="tk">150</text><text x="52" y="696.3" text-anchor="end" class="tk">200</text><text x="52" y="664.5" text-anchor="end" class="tk">250</text><text x="52" y="632.7" text-anchor="end" class="tk">300</text><text x="52" y="600.9" text-anchor="end" class="tk">350</text><text x="52" y="569.1" text-anchor="end" class="tk">400</text><text x="52" y="537.3" text-anchor="end" class="tk">450</text><text x="52" y="505.5" text-anchor="end" class="tk">500</text><text x="268.5" y="865.6" text-anchor="middle" class="lb">Time/s</text><text x="22.1" y="655.5" text-anchor="middle" class="lb" transform="rotate(-90 22.1 655.5)">Frequency/Hz</text><text x="224" y="922.5" text-anchor="middle" class="cap">(c)</text>
</g>
<g id="panel-d">
<g filter="url(#cmd)">
<rect x="588.5" y="490.5" width="426" height="330" fill="#070707"/><g filter="url(#b16)"><ellipse cx="700" cy="590" rx="70" ry="26" fill="#fff" fill-opacity="0.02"/><ellipse cx="900" cy="598" rx="90" ry="20" fill="#fff" fill-opacity="0.03"/><ellipse cx="800" cy="565" rx="200" ry="50" fill="#fff" fill-opacity="0.01"/><ellipse cx="650" cy="630" rx="50" ry="20" fill="#fff" fill-opacity="0.01"/><ellipse cx="620" cy="565" rx="25" ry="18" fill="#fff" fill-opacity="0.02"/></g><g fill="none" stroke="#fff" stroke-width="6" stroke-opacity="0.016" stroke-linejoin="round" filter="url(#b3)"><path id="dlines" d="M584.5 487.4L587.5 488.1L590.5 491.3L593.5 490.9L596.5 488.3L599.5 487.2L602.5 485.4L605.5 485L608.5 482.9L611.5 481.6L614.5 480.9L617.5 481.1L620.5 481.9L623.5 485L626.5 486.7L629.5 487.1L632.5 486.2L635.5 485.4L638.5 485.4L641.5 484.6L644.5 484.4L647.5 484.1L650.5 483.9L653.5 483.3L656.5 482.9L659.5 483.4L662.5 483L665.5 481.9L668.5 481.7L671.5 480.9L674.5 480.9L677.5 483.4L680.5 484.4L683.5 485.2L686.5 485.4L689.5 484.9L692.5 485.6L695.5 486.1L698.5 486.7L701.5 487.7L704.5 487.6L707.5 487.7L710.5 487.8L713.5 488.3L716.5 487.2L719.5 486.7L722.5 486.1L725.5 485.9L728.5 485.6L731.5 485.2L734.5 484.7L737.5 484.6L740.5 484.8L743.5 484.8L746.5 485L749.5 485.4L752.5 486.3L755.5 487.1L758.5 488.4L761.5 487.9L764.5 487.6L767.5 487.4L770.5 487.4L773.5 486.8L776.5 485.8L779.5 485.2L782.5 485.6L785.5 485.1L788.5 485.8L791.5 485.4L794.5 486.2L797.5 487L800.5 488.1L803.5 488.9L806.5 489.6L809.5 490.5L812.5 489.7L815.5 489.5L818.5 488.5L821.5 488L824.5 486.5L827.5 486.7L830.5 484.7L833.5 485.3L836.5 483.5L839.5 482.2L842.5 483L845.5 482.6L848.5 482.8L851.5 484L854.5 484.6L857.5 484.3L860.5 484.6L863.5 485.7L866.5 487.8L869.5 489.3L872.5 490.4L875.5 490.3L878.5 489.8L881.5 489.4L884.5 488.1L887.5 487.4L890.5 485L893.5 484.2L896.5 482.8L899.5 481.7L902.5 480.8L905.5 480.8L908.5 481.8L911.5 482.9L914.5 483.4L917.5 484.5L920.5 486.1L923.5 487.7L926.5 489.1L929.5 491.1L932.5 492.7L935.5 493L938.5 493.2L941.5 491.9L944.5 491.2L947.5 489.8L950.5 485.7L953.5 482.8L956.5 481.6L959.5 479.8L962.5 479.5L965.5 480.2L968.5 481.3L971.5 483.5L974.5 487.3L977.5 489.2L980.5 494.8L983.5 494.9L986.5 495.9L989.5 494.5L992.5 493.2L995.5 492.5L998.5 492.8L1001.5 489.5L1004.5 485.2L1007.5 483.5L1010.5 481.8L1013.5 481.2L1016.5 481.2L1019.5 481.6L1022.5 483.1M584.5 500.5L587.5 498.9L590.5 496.9L593.5 497.4L596.5 498.5L599.5 500L602.5 501.8L605.5 505.1L608.5 505.8L611.5 505.4L614.5 505.3L617.5 504.1L620.5 502.5L623.5 501L626.5 499.5L629.5 499L632.5 498.5L635.5 497.3L638.5 496.8L641.5 496.9L644.5 498.4L647.5 499.3L650.5 500.2L653.5 503.7L656.5 505L659.5 505.7L662.5 505.9L665.5 504.5L668.5 501L671.5 499L674.5 497.5L677.5 497L680.5 494.4L683.5 493.9L686.5 496.7L689.5 499.1L692.5 500.6L695.5 501L698.5 503.5L701.5 505.3L704.5 506.7L707.5 507.5L710.5 506.4L713.5 505.7L716.5 505.1L719.5 502.7L722.5 500.1L725.5 501.3L728.5 498.7L731.5 495.2L734.5 493.8L737.5 494.3L740.5 493.9L743.5 494.2L746.5 496.7L749.5 500.2L752.5 502.9L755.5 505.5L758.5 507.1L761.5 507L764.5 506.7L767.5 504.8L770.5 502.6L773.5 496.9L776.5 496.1L779.5 496.6L782.5 496.7L785.5 498L788.5 499.9L791.5 502.7L794.5 504L797.5 504.9L800.5 505.9L803.5 506.5L806.5 508.1L809.5 508.9L812.5 508.1L815.5 508.1L818.5 507.2L821.5 506.7L824.5 505.7L827.5 505.1L830.5 501.5L833.5 499.6L836.5 498.7L839.5 494.5L842.5 494.2L845.5 495.2L848.5 496.8L851.5 498.7L854.5 499.8L857.5 503.7L860.5 506.1L863.5 507.4L866.5 506.5L869.5 504.8L872.5 502.7L875.5 501.3L878.5 500.2L881.5 499.2L884.5 497.4L887.5 497.9L890.5 497.5L893.5 497L896.5 498L899.5 500.1L902.5 500.9L905.5 501.8L908.5 503.2L911.5 505.4L914.5 507.2L917.5 506.7L920.5 507.2L923.5 506.4L926.5 505.2L929.5 504.7L932.5 504L935.5 502.7L938.5 501L941.5 500.1L944.5 498.1L947.5 496.3L950.5 493.6L953.5 493.7L956.5 494.3L959.5 495.5L962.5 497.4L965.5 499.2L968.5 503.4L971.5 503.7L974.5 506.6L977.5 508L980.5 508.1L983.5 507.1L986.5 504.8L989.5 501.5L992.5 500L995.5 500.3L998.5 500.3L1001.5 495.5L1004.5 494.1L1007.5 494L1010.5 494L1013.5 495.4L1016.5 499.2L1019.5 502.7L1022.5 504.3M584.5 514.8L587.5 516.3L590.5 519.6L593.5 520.7L596.5 519.4L599.5 518.8L602.5 518.8L605.5 517.7L608.5 516.8L611.5 515.6L614.5 513.1L617.5 512.1L620.5 512.3L623.5 513.8L626.5 516.4L629.5 517.4L632.5 517.7L635.5 520.3L638.5 520.8L641.5 520.7L644.5 520.2L647.5 519.3L650.5 519.5L653.5 519.4L656.5 516.9L659.5 516.5L662.5 516.4L665.5 515.3L668.5 514.8L671.5 514.7L674.5 515.1L677.5 515.5L680.5 516L683.5 517L686.5 517.7L689.5 517.7L692.5 517.8L695.5 519.1L698.5 519.9L701.5 521.1L704.5 521.4L707.5 521.8L710.5 519.1L713.5 518L716.5 517.2L719.5 515.2L722.5 514.3L725.5 513.8L728.5 513.3L731.5 513.9L734.5 514.6L737.5 516.7L740.5 516.8L743.5 517.3L746.5 517L749.5 516.7L752.5 516.2L755.5 515.7L758.5 514.8L761.5 514.2L764.5 512.9L767.5 512.3L770.5 511.9L773.5 512.7L776.5 513.5L779.5 515.6L782.5 516.4L785.5 515.6L788.5 516L791.5 515.9L794.5 516.7L797.5 517.3L800.5 516.6L803.5 515.6L806.5 515.1L809.5 514.5L812.5 513.8L815.5 513.1L818.5 512.3L821.5 512.4L824.5 512.1L827.5 512L830.5 511.7L833.5 511.9L836.5 512L839.5 512L842.5 512.1L845.5 512.9L848.5 513.6L851.5 514.6L854.5 515.2L857.5 515L860.5 515.7L863.5 515.6L866.5 515.3L869.5 515.6L872.5 514.5L875.5 511.9L878.5 511.2L881.5 510.2L884.5 510.4L887.5 510L890.5 509.8L893.5 510L896.5 510.2L899.5 510.9L902.5 510.9L905.5 511.9L908.5 511.4L911.5 512.4L914.5 512.7L917.5 513.7L920.5 513.2L923.5 514.2L926.5 514.2L929.5 515L932.5 516L935.5 516.4L938.5 515.5L941.5 513.8L944.5 512.7L947.5 512.2L950.5 511.7L953.5 511.6L956.5 510.9L959.5 511.9L962.5 512.1L965.5 511.8L968.5 512.4L971.5 513.1L974.5 513.7L977.5 513.6L980.5 514L983.5 514.7L986.5 516.9L989.5 516.4L992.5 516.1L995.5 517L998.5 516.3L1001.5 515.4L1004.5 514.7L1007.5 514.2L1010.5 513.4L1013.5 512.6L1016.5 512.9L1019.5 513L1022.5 513.5M584.5 525.8L587.5 524.6L590.5 524L593.5 524.4L596.5 527.2L599.5 529.1L602.5 533.9L605.5 534.8L608.5 536.3L611.5 536.1L614.5 535L617.5 533.8L620.5 531.4L623.5 530.8L626.5 530.2L629.5 528.6L632.5 527.8L635.5 525.6L638.5 526.2L641.5 526L644.5 527.1L647.5 531.5L650.5 531.6L653.5 536.8L656.5 537.4L659.5 537.3L662.5 538.2L665.5 539L668.5 538.3L671.5 536.3L674.5 534.3L677.5 531.8L680.5 532.1L683.5 531.6L686.5 531L689.5 529L692.5 528L695.5 527.3L698.5 528.5L701.5 529.4L704.5 530.9L707.5 530.5L710.5 533.5L713.5 534.6L716.5 534.2L719.5 534.4L722.5 534.5L725.5 534L728.5 534.5L731.5 534.5L734.5 534.4L737.5 533.2L740.5 532.4L743.5 532.1L746.5 531.7L749.5 530.7L752.5 530.1L755.5 530.4L758.5 530.5L761.5 531.4L764.5 532.3L767.5 534L770.5 535.7L773.5 535.9L776.5 535.9L779.5 535.6L782.5 534.4L785.5 534.2L788.5 532.6L791.5 531.5L794.5 530.9L797.5 530.7L800.5 529.4L803.5 529.3L806.5 528.5L809.5 527.6L812.5 528.3L815.5 528.7L818.5 529L821.5 530L824.5 532.7L827.5 534L830.5 534.2L833.5 535.1L836.5 533.7L839.5 534L842.5 531.8L845.5 530.2L848.5 530.1L851.5 530.4L854.5 530L857.5 529.6L860.5 528.8L863.5 528.7L866.5 529.8L869.5 530.1L872.5 530.2L875.5 529.7L878.5 530.1L881.5 530.6L884.5 531.1L887.5 532.3L890.5 533.2L893.5 533.4L896.5 533.3L899.5 532.7L902.5 532.9L905.5 531.5L908.5 531.1L911.5 530.4L914.5 529.8L917.5 529.8L920.5 529L923.5 529.3L926.5 529.7L929.5 531.2L932.5 530.7L935.5 530.6L938.5 530.5L941.5 530.7L944.5 531.5L947.5 532.6L950.5 533.8L953.5 534.9L956.5 534.5L959.5 534.8L962.5 535.4L965.5 534.5L968.5 531.9L971.5 531.1L974.5 528.9L977.5 528.5L980.5 527L983.5 526.3L986.5 526.4L989.5 525.5L992.5 526.6L995.5 527.8L998.5 531.9L1001.5 533.7L1004.5 535.6L1007.5 536.1L1010.5 537.4L1013.5 535.4L1016.5 534.1L1019.5 532.6L1022.5 532.9M584.5 547L587.5 550.2L590.5 551.9L593.5 550.3L596.5 548L599.5 546.6L602.5 544.5L605.5 543.2L608.5 542.5L611.5 541.5L614.5 542.5L617.5 542.4L620.5 543.2L623.5 545.4L626.5 546L629.5 546.2L632.5 547.4L635.5 547.1L638.5 546.5L641.5 544.9L644.5 543.2L647.5 543.1L650.5 541.5L653.5 542L656.5 541.4L659.5 542L662.5 543.6L665.5 544.5L668.5 544.4L671.5 545.5L674.5 546.2L677.5 546.2L680.5 546.6L683.5 547L686.5 546.6L689.5 546.6L692.5 546L695.5 544.6L698.5 544.3L701.5 544.2L704.5 543.6L707.5 543.6L710.5 543.6L713.5 543.3L716.5 543.6L719.5 544.3L722.5 544.6L725.5 545.4L728.5 545.7L731.5 546.5L734.5 546.1L737.5 545.8L740.5 545.6L743.5 544.7L746.5 543.7L749.5 543.7L752.5 543.2L755.5 544L758.5 543.8L761.5 544.9L764.5 545.6L767.5 545.8L770.5 547L773.5 547.5L776.5 547.6L779.5 548.1L782.5 547.6L785.5 548.5L788.5 548.4L791.5 547.7L794.5 547.2L797.5 543.7L800.5 542.2L803.5 540.3L806.5 540.4L809.5 540.7L812.5 541.3L815.5 540.9L818.5 544.1L821.5 544.8L824.5 546.2L827.5 547.5L830.5 547.8L833.5 548.1L836.5 547.8L839.5 548.3L842.5 546L845.5 543.8L848.5 543.8L851.5 540.2L854.5 538.8L857.5 539.2L860.5 539.8L863.5 540.9L866.5 541.7L869.5 542.7L872.5 544.5L875.5 545L878.5 544.7L881.5 544.7L884.5 545.9L887.5 546.1L890.5 546.5L893.5 546.2L896.5 545.9L899.5 546.1L902.5 546.6L905.5 546L908.5 543.8L911.5 541.8L914.5 541.9L917.5 541.1L920.5 538.7L923.5 540L926.5 539.4L929.5 540.4L932.5 541.1L935.5 542.5L938.5 542.4L941.5 542.9L944.5 542.9L947.5 542.9L950.5 543.8L953.5 544L956.5 545L959.5 545L962.5 544.9L965.5 544.5L968.5 543.9L971.5 543.6L974.5 542.2L977.5 541.2L980.5 540.5L983.5 539L986.5 538.7L989.5 538.6L992.5 538.7L995.5 540.4L998.5 541.4L1001.5 543.3L1004.5 545.4L1007.5 547.2L1010.5 549L1013.5 548.6L1016.5 549L1019.5 548.2L1022.5 547.4M584.5 564.2L587.5 561.7L590.5 560L593.5 558.2L596.5 557.7L599.5 556.7L602.5 556.9L605.5 556.4L608.5 556.3L611.5 558.1L614.5 561.1L617.5 562.4L620.5 564L623.5 566.7L626.5 567.8L629.5 567.8L632.5 567.8L635.5 565.1L638.5 563.6L641.5 562.7L644.5 560.9L647.5 559.8L650.5 559.1L653.5 557.6L656.5 555.5L659.5 555.9L662.5 557.1L665.5 559.7L668.5 562.6L671.5 567.2L674.5 567.1L677.5 567.5L680.5 567.4L683.5 567L686.5 565.4L689.5 564.6L692.5 564.4L695.5 564.3L698.5 558.9L701.5 558.6L704.5 557.1L707.5 556.4L710.5 556.4L713.5 556L716.5 556.3L719.5 557.5L722.5 559L725.5 561.6L728.5 562.8L731.5 563.7L734.5 564.9L737.5 565.4L740.5 566.2L743.5 564.5L746.5 562.7L749.5 562.7L752.5 561.3L755.5 560.5L758.5 560.3L761.5 560.1L764.5 560.1L767.5 560.1L770.5 560.6L773.5 561.4L776.5 561.6L779.5 562.7L782.5 563.8L785.5 564.5L788.5 565.2L791.5 565.7L794.5 565.2L797.5 563.5L800.5 563.1L803.5 561.1L806.5 558.1L809.5 556.5L812.5 555.8L815.5 555.6L818.5 554.2L821.5 554.9L824.5 556.8L827.5 559.8L830.5 562.3L833.5 564.9L836.5 566.9L839.5 568.7L842.5 569.4L845.5 569L848.5 568.5L851.5 565L854.5 564.6L857.5 565.9L860.5 564.2L863.5 560.9L866.5 557.1L869.5 556.7L872.5 556.2L875.5 554.9L878.5 554.3L881.5 555.4L884.5 557.1L887.5 561.2L890.5 565.6L893.5 565.6L896.5 568.2L899.5 569.2L902.5 568.7L905.5 568.3L908.5 564.2L911.5 564.6L914.5 564.1L917.5 561.2L920.5 560.8L923.5 557.6L926.5 555L929.5 553.7L932.5 554L935.5 554.7L938.5 555.8L941.5 557.8L944.5 557.9L947.5 561.6L950.5 564.9L953.5 566.1L956.5 568.4L959.5 567L962.5 566.2L965.5 563.8L968.5 564.2L971.5 560.7L974.5 560.1L977.5 557.5L980.5 553.7L983.5 552.5L986.5 551.5L989.5 551.8L992.5 552.5L995.5 552.8L998.5 555L1001.5 557.7L1004.5 563.5L1007.5 565.6L1010.5 563.7L1013.5 562.3L1016.5 560.1L1019.5 556.8L1022.5 554.7M584.5 576.9L587.5 580.1L590.5 580.9L593.5 580.6L596.5 579.6L599.5 577.2L602.5 575.1L605.5 573L608.5 571L611.5 570.8L614.5 568.5L617.5 565.4L620.5 566.7L623.5 569.8L626.5 575.1L629.5 577.5L632.5 579.8L635.5 582.5L638.5 582.9L641.5 582.5L644.5 581L647.5 577.4L650.5 573.8L653.5 573.7L656.5 571.3L659.5 571.2L662.5 570.7L665.5 568.8L668.5 568.4L671.5 567.8L674.5 568L677.5 569.7L680.5 571.7L683.5 572.3L686.5 574.1L689.5 579L692.5 580.1L695.5 582.4L698.5 582.5L701.5 581.9L704.5 580.1L707.5 581.5L710.5 582.7L713.5 583.8L716.5 582.3L719.5 580.5L722.5 580L725.5 577.6L728.5 576.8L731.5 575.4L734.5 573.6L737.5 571.5L740.5 570.2L743.5 569.5L746.5 570.1L749.5 571.8L752.5 573.1L755.5 577.7L758.5 580.6L761.5 584.1L764.5 583.8L767.5 582.4L770.5 578.7L773.5 575.1L776.5 571.5L779.5 570.5L782.5 571.3L785.5 571.3L788.5 572.9L791.5 573.8L794.5 573.7L797.5 577.3L800.5 579.5L803.5 578.7L806.5 579.4L809.5 580.7L812.5 580.8L815.5 580.8L818.5 579.9L821.5 576.5L824.5 574.9L827.5 569.7L830.5 568.2L833.5 568L836.5 572.2L839.5 575.8L842.5 578.6L845.5 580.8L848.5 581.4L851.5 581.1L854.5 580.6L857.5 580.7L860.5 580.4L863.5 580.7L866.5 578.1L869.5 578L872.5 575.2L875.5 573L878.5 572.5L881.5 569.5L884.5 567.9L887.5 568.2L890.5 567.9L893.5 569L896.5 571.7L899.5 571.1L902.5 570.8L905.5 572.9L908.5 575.9L911.5 577.1L914.5 579.5L917.5 583L920.5 583.2L923.5 584.8L926.5 584L929.5 584.1L932.5 582.5L935.5 579.8L938.5 580.9L941.5 577.1L944.5 573.3L947.5 569.8L950.5 569.4L953.5 569.4L956.5 569.7L959.5 570L962.5 572.4L965.5 573.8L968.5 578.8L971.5 581.2L974.5 580L977.5 582.9L980.5 584L983.5 582.3L986.5 581.3L989.5 580.5L992.5 580.2L995.5 575.3L998.5 573.6L1001.5 572L1004.5 572L1007.5 572.4L1010.5 570.8L1013.5 570.4L1016.5 570.3L1019.5 570.1L1022.5 572.2M584.5 585.7L587.5 584.6L590.5 582.6L593.5 581.6L596.5 582.6L599.5 585.4L602.5 587.3L605.5 591L608.5 591.5L611.5 592.2L614.5 592.8L617.5 591.3L620.5 588.2L623.5 584.2L626.5 581.8L629.5 581.3L632.5 580.7L635.5 580.7L638.5 581.7L641.5 582.1L644.5 583.5L647.5 588.8L650.5 591.7L653.5 594.5L656.5 595.1L659.5 594.7L662.5 593.9L665.5 594.2L668.5 591.3L671.5 588.6L674.5 586.2L677.5 583L680.5 581.5L683.5 581L686.5 581.3L689.5 582L692.5 583.9L695.5 585.2L698.5 586.1L701.5 585.7L704.5 589.7L707.5 590.7L710.5 593.2L713.5 595.5L716.5 595.9L719.5 595.9L722.5 594.8L725.5 592.4L728.5 592.8L731.5 595L734.5 593.3L737.5 592.1L740.5 590.1L743.5 587.9L746.5 588.7L749.5 587.4L752.5 585.8L755.5 584.7L758.5 584.9L761.5 584.1L764.5 584.6L767.5 584L770.5 584.4L773.5 587.5L776.5 590.5L779.5 593.6L782.5 592.9L785.5 591.3L788.5 588.2L791.5 584.7L794.5 582.5L797.5 580.6L800.5 579.2L803.5 579L806.5 580L809.5 578.9L812.5 580.2L815.5 581.2L818.5 583.4L821.5 585.1L824.5 588.6L827.5 589.7L830.5 589.5L833.5 588.7L836.5 588L839.5 586.5L842.5 585.8L845.5 585.3L848.5 584.4L851.5 584.5L854.5 584.5L857.5 584.5L860.5 583.8L863.5 584.4L866.5 584.7L869.5 587L872.5 588.1L875.5 588.7L878.5 588.4L881.5 588.5L884.5 588.6L887.5 588.3L890.5 587.3L893.5 587.1L896.5 586.9L899.5 586.4L902.5 585.6L905.5 584.8L908.5 584.9L911.5 583.9L914.5 584.6L917.5 585.7L920.5 586.9L923.5 588.4L926.5 588.2L929.5 588.5L932.5 588.7L935.5 589L938.5 589.2L941.5 589.2L944.5 589.3L947.5 589.5L950.5 588.7L953.5 588L956.5 587.4L959.5 586.3L962.5 585.9L965.5 585.6L968.5 586.7L971.5 587L974.5 587.3L977.5 588.2L980.5 589.7L983.5 590.2L986.5 590.6L989.5 591.7L992.5 592.3L995.5 590.5L998.5 589.8L1001.5 588.8L1004.5 588L1007.5 587.1L1010.5 585.9L1013.5 586.7L1016.5 586.6L1019.5 586.5L1022.5 587.2M584.5 607.2L587.5 608.1L590.5 605.5L593.5 602.9L596.5 599.4L599.5 597L602.5 595.9L605.5 596.5L608.5 599.5L611.5 603L614.5 603.8L617.5 605.7L620.5 608.3L623.5 607.9L626.5 606.9L629.5 605.1L632.5 602.6L635.5 600.2L638.5 597L641.5 594.8L644.5 595.6L647.5 595.4L650.5 595.3L653.5 597.6L656.5 598.7L659.5 601.1L662.5 602.2L665.5 602.9L668.5 603.6L671.5 605.1L674.5 607L677.5 608.3L680.5 608.1L683.5 607.9L686.5 607.4L689.5 605.8L692.5 599.1L695.5 596.1L698.5 593L701.5 591.9L704.5 592.5L707.5 593.9L710.5 594.5L713.5 597.1L716.5 598.3L719.5 598.9L722.5 598.5L725.5 598.7L728.5 600.2L731.5 602.1L734.5 602.9L737.5 603.1L740.5 604.4L743.5 602.9L746.5 602.8L749.5 602.5L752.5 602L755.5 601.1L758.5 599.9L761.5 599.3L764.5 598.1L767.5 596.9L770.5 597.5L773.5 599.8L776.5 601.4L779.5 603.4L782.5 603.8L785.5 604.6L788.5 605.1L791.5 606.8L794.5 606.1L797.5 606.8L800.5 604.6L803.5 604.2L806.5 602.4L809.5 601.9L812.5 600L815.5 597.7L818.5 597.2L821.5 597.3L824.5 596.7L827.5 595.5L830.5 597.1L833.5 598.4L836.5 603.3L839.5 605.3L842.5 608.3L845.5 608.2L848.5 608.3L851.5 607.2L854.5 605L857.5 602.6L860.5 599.1L863.5 594.4L866.5 594.1L869.5 594L872.5 593.7L875.5 594.5L878.5 595.8L881.5 597.6L884.5 600.6L887.5 602.6L890.5 605.1L893.5 604.9L896.5 606.4L899.5 606.9L902.5 606.3L905.5 605.9L908.5 604.1L911.5 603.7L914.5 600.7L917.5 598.9L920.5 597.1L923.5 595.5L926.5 594.3L929.5 597.2L932.5 601.3L935.5 601.1L938.5 603L941.5 604.5L944.5 607.6L947.5 609.6L950.5 610.3L953.5 609.8L956.5 607.6L959.5 604.8L962.5 602.2L965.5 600.4L968.5 599.2L971.5 599L974.5 599L977.5 599.1L980.5 599.5L983.5 600.1L986.5 602.2L989.5 603.5L992.5 605L995.5 606.9L998.5 608.4L1001.5 609.1L1004.5 610.7L1007.5 610.5L1010.5 610.5L1013.5 609.4L1016.5 607.7L1019.5 603.4L1022.5 601.8M584.5 611.2L587.5 610.2L590.5 608.8L593.5 612.2L596.5 616.1L599.5 617.3L602.5 623L605.5 624.8L608.5 623.6L611.5 620.6L614.5 616.9L617.5 613.5L620.5 613.1L623.5 609.9L626.5 610L629.5 611.9L632.5 613.7L635.5 617.2L638.5 619.1L641.5 619.9L644.5 621.6L647.5 621.7L650.5 621.2L653.5 621.3L656.5 620.4L659.5 618.9L662.5 617L665.5 616.2L668.5 616L671.5 616L674.5 616L677.5 615.5L680.5 616.7L683.5 616.4L686.5 616.4L689.5 617.2L692.5 617.1L695.5 618.6L698.5 619.3L701.5 618.9L704.5 620.2L707.5 620.8L710.5 621.2L713.5 622.8L716.5 622.8L719.5 624.2L722.5 623L725.5 621.3L728.5 619L731.5 617.6L734.5 614.9L737.5 615.6L740.5 616.5L743.5 615.7L746.5 618.1L749.5 618.4L752.5 616.8L755.5 617.2L758.5 619.4L761.5 621.5L764.5 626.3L767.5 627.8L770.5 626.4L773.5 624.2L776.5 620.8L779.5 621.2L782.5 617.9L785.5 618.4L788.5 617.3L791.5 615.9L794.5 616.5L797.5 616.4L800.5 616.6L803.5 618L806.5 618.2L809.5 619.1L812.5 618.5L815.5 619.6L818.5 620.5L821.5 620.7L824.5 621.9L827.5 622.5L830.5 622.7L833.5 622.3L836.5 621.9L839.5 621.8L842.5 621.5L845.5 621.6L848.5 621.2L851.5 620.4L854.5 620.1L857.5 619.4L860.5 618.1L863.5 617.7L866.5 618.3L869.5 618.5L872.5 618.3L875.5 619L878.5 620.1L881.5 620.7L884.5 620.7L887.5 620.8L890.5 622.4L893.5 621.5L896.5 622.4L899.5 622.8L902.5 621.9L905.5 620.9L908.5 618.9L911.5 618.7L914.5 619.2L917.5 618.9L920.5 618.7L923.5 619.9L926.5 619.9L929.5 620.3L932.5 620.5L935.5 621.2L938.5 621.1L941.5 620.9L944.5 622.6L947.5 623.8L950.5 623.9L953.5 622.3L956.5 621.4L959.5 620.9L962.5 619.7L965.5 618.8L968.5 618.2L971.5 617.3L974.5 616.7L977.5 616.3L980.5 617.6L983.5 619.4L986.5 620.5L989.5 620.9L992.5 621L995.5 622.4L998.5 622.1L1001.5 621.4L1004.5 621.4L1007.5 621.5L1010.5 620.9L1013.5 619.3L1016.5 618L1019.5 618.8L1022.5 618.1M584.5 626.6L587.5 628.8L590.5 632.1L593.5 635.9L596.5 636.8L599.5 635.8L602.5 635.2L605.5 634.3L608.5 633.4L611.5 632.1L614.5 630.1L617.5 627.9L620.5 626.5L623.5 625.4L626.5 626.9L629.5 628.5L632.5 631.1L635.5 633.8L638.5 632.8L641.5 636L644.5 637L647.5 637.2L650.5 639.4L653.5 640.5L656.5 639.9L659.5 639.5L662.5 638L665.5 636.6L668.5 635.2L671.5 633.9L674.5 632.3L677.5 631L680.5 628.5L683.5 627.2L686.5 626.4L689.5 626L692.5 626.8L695.5 628.5L698.5 630L701.5 630.3L704.5 631.7L707.5 636.6L710.5 638.3L713.5 638.7L716.5 639.6L719.5 640.3L722.5 640.2L725.5 638.4L728.5 634.3L731.5 633L734.5 627.4L737.5 625.9L740.5 625.4L743.5 623.9L746.5 624.1L749.5 625.3L752.5 628.1L755.5 631.3L758.5 636.3L761.5 638.4L764.5 639.5L767.5 639.1L770.5 636.5L773.5 633.2L776.5 630.5L779.5 628.9L782.5 624.6L785.5 624.5L788.5 623.9L791.5 623.4L794.5 624.5L797.5 626.2L800.5 625.4L803.5 626L806.5 629.2L809.5 630.4L812.5 635.8L815.5 637.7L818.5 635.6L821.5 634L824.5 631.3L827.5 629.7L830.5 627.4L833.5 624.5L836.5 622.7L839.5 622.5L842.5 622.4L845.5 624L848.5 625.8L851.5 628.6L854.5 631.6L857.5 633.4L860.5 635.2L863.5 634.6L866.5 632.8L869.5 630L872.5 627.3L875.5 627L878.5 626.3L881.5 624.4L884.5 624.7L887.5 625.4L890.5 626L893.5 628.4L896.5 629.2L899.5 634.7L902.5 634.7L905.5 634.5L908.5 634.7L911.5 634.3L914.5 634.6L917.5 634L920.5 633.3L923.5 628.7L926.5 626.5L929.5 625.1L932.5 624.4L935.5 623.2L938.5 623.8L941.5 625.1L944.5 628.5L947.5 631.4L950.5 632.1L953.5 636.1L956.5 637.2L959.5 636.9L962.5 636.7L965.5 635.6L968.5 635.4L971.5 632.8L974.5 631.2L977.5 627L980.5 624.6L983.5 623.3L986.5 622.8L989.5 623.3L992.5 626L995.5 630.2L998.5 630.9L1001.5 632.9L1004.5 630.2L1007.5 634.7L1010.5 635.8L1013.5 636.1L1016.5 636.5L1019.5 637.1L1022.5 635.3M584.5 653.6L587.5 651.2L590.5 646.2L593.5 643.5L596.5 642L599.5 640.2L602.5 640.4L605.5 642.3L608.5 641.7L611.5 643.3L614.5 647.8L617.5 651.4L620.5 652.5L623.5 653.7L626.5 650.7L629.5 651.3L632.5 648L635.5 645.6L638.5 643.7L641.5 642.8L644.5 642.4L647.5 643.3L650.5 642.2L653.5 642.7L656.5 643.5L659.5 645.8L662.5 647.6L665.5 648.3L668.5 647.8L671.5 649.8L674.5 649.4L677.5 649.7L680.5 649.2L683.5 648.5L686.5 646.7L689.5 646.4L692.5 646L695.5 645.3L698.5 645.3L701.5 645.8L704.5 645.9L707.5 647.4L710.5 648.2L713.5 649.4L716.5 649.4L719.5 648.6L722.5 648.2L725.5 648.2L728.5 648.3L731.5 647.7L734.5 646.6L737.5 646.3L740.5 645.3L743.5 645.7L746.5 644.8L749.5 644L752.5 646.2L755.5 649L758.5 651.1L761.5 652.7L764.5 652.3L767.5 651.3L770.5 649.3L773.5 648.4L776.5 645L779.5 642.2L782.5 641.5L785.5 642.2L788.5 642.8L791.5 640.8L794.5 642.3L797.5 643L800.5 648.8L803.5 649.9L806.5 651.7L809.5 652L812.5 653L815.5 654.1L818.5 653L821.5 653L824.5 653.1L827.5 652.8L830.5 651.2L833.5 649.6L836.5 648.6L839.5 648.1L842.5 646.5L845.5 646.3L848.5 645.9L851.5 645.5L854.5 645.7L857.5 644.8L860.5 644.4L863.5 643.8L866.5 643.6L869.5 645.6L872.5 646L875.5 647.6L878.5 652.5L881.5 654.1L884.5 655.6L887.5 656.7L890.5 655.6L893.5 653.6L896.5 651.8L899.5 649.8L902.5 649.6L905.5 649.6L908.5 646.8L911.5 644.7L914.5 643.2L917.5 643.9L920.5 644.8L923.5 648.7L926.5 649.3L929.5 651.2L932.5 652.6L935.5 653.5L938.5 654.2L941.5 654.2L944.5 654.2L947.5 652.7L950.5 650.8L953.5 649L956.5 644.6L959.5 643L962.5 643.2L965.5 643.3L968.5 645.7L971.5 647.6L974.5 650.7L977.5 650.2L980.5 651.1L983.5 649L986.5 649.6L989.5 653.7L992.5 654.9L995.5 656.2L998.5 655.5L1001.5 654L1004.5 652.7L1007.5 649.2L1010.5 645.4L1013.5 640.3L1016.5 641.2L1019.5 644.6L1022.5 647.1M584.5 657.1L587.5 660.1L590.5 661L593.5 661.8L596.5 664.3L599.5 666.7L602.5 668.2L605.5 668.1L608.5 669.3L611.5 668.8L614.5 664.5L617.5 661.2L620.5 658.3L623.5 656.7L626.5 657.1L629.5 657.9L632.5 658.3L635.5 660L638.5 661.9L641.5 664.4L644.5 665.3L647.5 668.4L650.5 669.1L653.5 670.7L656.5 670.9L659.5 670.8L662.5 670.5L665.5 668.7L668.5 667.5L671.5 665.7L674.5 663.5L677.5 661.5L680.5 659.3L683.5 658.4L686.5 657.9L689.5 658.8L692.5 658.9L695.5 660.1L698.5 661.2L701.5 663.8L704.5 666.8L707.5 668.2L710.5 668.9L713.5 669.6L716.5 669.4L719.5 669.9L722.5 669.8L725.5 667.5L728.5 666.5L731.5 663L734.5 660.6L737.5 659L740.5 659.2L743.5 657.2L746.5 656.6L749.5 656.9L752.5 659.2L755.5 662.4L758.5 664.4L761.5 666.4L764.5 668.6L767.5 671.9L770.5 672L773.5 670.7L776.5 665.8L779.5 661.9L782.5 657.8L785.5 657.3L788.5 656.7L791.5 657L794.5 659.4L797.5 660.6L800.5 663.3L803.5 663.5L806.5 665.2L809.5 669.3L812.5 672L815.5 671.6L818.5 670.5L821.5 667.6L824.5 665L827.5 661.9L830.5 659.9L833.5 659.2L836.5 657.1L839.5 656.6L842.5 656.4L845.5 655.3L848.5 656.4L851.5 656.9L854.5 658L857.5 660.6L860.5 664.1L863.5 663.5L866.5 666.2L869.5 668.6L872.5 668.4L875.5 666.3L878.5 664.8L881.5 663L884.5 661.6L887.5 659.3L890.5 658.2L893.5 657.7L896.5 656.9L899.5 657L902.5 659.4L905.5 662.6L908.5 664.5L911.5 665.6L914.5 665.1L917.5 664.9L920.5 663.6L923.5 661.3L926.5 661.3L929.5 659.8L932.5 659.2L935.5 658L938.5 659L941.5 659.9L944.5 659.5L947.5 660.8L950.5 661.8L953.5 663.1L956.5 663.6L959.5 665.8L962.5 667L965.5 665.9L968.5 665.6L971.5 664.2L974.5 664.5L977.5 663.3L980.5 663.3L983.5 661.9L986.5 661.7L989.5 661.4L992.5 661L995.5 660.7L998.5 660.9L1001.5 662.1L1004.5 662.3L1007.5 662.1L1010.5 663.5L1013.5 664L1016.5 663.9L1019.5 664.5L1022.5 664.6M584.5 673L587.5 670L590.5 669.7L593.5 669.9L596.5 670.6L599.5 677.6L602.5 678.9L605.5 683.7L608.5 685L611.5 685.5L614.5 686L617.5 682.7L620.5 681L623.5 680L626.5 677.1L629.5 674.7L632.5 673.7L635.5 674.3L638.5 675.4L641.5 676.9L644.5 679.3L647.5 679.8L650.5 680.9L653.5 681.7L656.5 681.9L659.5 681.6L662.5 682L665.5 681.1L668.5 680L671.5 680.2L674.5 679.5L677.5 678.2L680.5 677.4L683.5 677.1L686.5 676.8L689.5 677.3L692.5 678L695.5 678.1L698.5 679.4L701.5 680.6L704.5 681L707.5 681.1L710.5 681.4L713.5 681.6L716.5 681.4L719.5 681.4L722.5 679.5L725.5 679L728.5 676.2L731.5 674.2L734.5 674.2L737.5 673.2L740.5 672.4L743.5 672.3L746.5 673.2L749.5 675.3L752.5 678L755.5 679.3L758.5 680.4L761.5 681.1L764.5 682.2L767.5 682.5L770.5 682.5L773.5 681.3L776.5 678.4L779.5 675.7L782.5 673.1L785.5 670.7L788.5 669L791.5 668L794.5 668.2L797.5 669.7L800.5 672.9L803.5 674.1L806.5 678.4L809.5 681.5L812.5 681L815.5 681.4L818.5 680.2L821.5 679.9L824.5 679L827.5 675.5L830.5 675.7L833.5 670.3L836.5 669.3L839.5 668.8L842.5 669.8L845.5 670.8L848.5 673L851.5 673.5L854.5 678.4L857.5 679.7L860.5 681.6L863.5 683.5L866.5 684.2L869.5 684.2L872.5 682.5L875.5 679.1L878.5 675.8L881.5 674.5L884.5 673.3L887.5 670.2L890.5 668.8L893.5 668.1L896.5 668L899.5 668.3L902.5 669.1L905.5 671.7L908.5 674.8L911.5 675.7L914.5 679.3L917.5 679.6L920.5 680.7L923.5 680.4L926.5 679.6L929.5 677.9L932.5 676.6L935.5 676.4L938.5 674.3L941.5 671.7L944.5 670.9L947.5 669.7L950.5 670.2L953.5 670.9L956.5 671.7L959.5 672.6L962.5 671.5L965.5 673.5L968.5 676.7L971.5 675.7L974.5 679.3L977.5 680.7L980.5 682L983.5 682.9L986.5 683.1L989.5 682.4L992.5 681L995.5 679.6L998.5 677.1L1001.5 675.5L1004.5 673L1007.5 670.2L1010.5 667.1L1013.5 668L1016.5 669.4L1019.5 672.5L1022.5 675.2M584.5 696.3L587.5 696.6L590.5 695L593.5 692L596.5 687.7L599.5 686.7L602.5 687.6L605.5 688.1L608.5 692.8L611.5 694.2L614.5 693.8L617.5 694.1L620.5 695L623.5 694.6L626.5 694.4L629.5 693.3L632.5 691L635.5 690.8L638.5 690.5L641.5 687.4L644.5 687.8L647.5 687.7L650.5 688.2L653.5 689.7L656.5 691L659.5 692.7L662.5 693.7L665.5 694.7L668.5 694.7L671.5 695.3L674.5 696.1L677.5 695.1L680.5 694.5L683.5 693.6L686.5 692.7L689.5 689.5L692.5 688.4L695.5 686.6L698.5 687.2L701.5 687.7L704.5 688L707.5 688.7L710.5 688.9L713.5 688.4L716.5 690.5L719.5 690L722.5 690.1L725.5 691.8L728.5 692.9L731.5 694L734.5 695L737.5 694.9L740.5 695.5L743.5 694.5L746.5 693.1L749.5 690.5L752.5 683.7L755.5 682.3L758.5 683.5L761.5 683.4L764.5 687.2L767.5 690.3L770.5 693L773.5 695.8L776.5 697.3L779.5 697.2L782.5 697L785.5 694.9L788.5 692.3L791.5 689.9L794.5 688.6L797.5 686.6L800.5 684.2L803.5 683.5L806.5 683L809.5 684.9L812.5 686.9L815.5 688.8L818.5 690.1L821.5 690.9L824.5 692.2L827.5 691.5L830.5 692.5L833.5 692L836.5 692.6L839.5 692.8L842.5 693.1L845.5 692.8L848.5 691.3L851.5 689.7L854.5 687.7L857.5 685.8L860.5 684.4L863.5 684.8L866.5 683.2L869.5 683.3L872.5 684.4L875.5 686.6L878.5 689.8L881.5 692.1L884.5 692.6L887.5 695.3L890.5 696.5L893.5 697L896.5 696L899.5 695L902.5 694L905.5 692.1L908.5 692.3L911.5 692.5L914.5 693.2L917.5 692.2L920.5 690.8L923.5 689.1L926.5 688.1L929.5 687.8L932.5 687.3L935.5 686L938.5 687.2L941.5 687.6L944.5 686.7L947.5 686.4L950.5 686.5L953.5 687.4L956.5 687.7L959.5 687.8L962.5 690.4L965.5 692.8L968.5 697L971.5 697.1L974.5 695.4L977.5 695.1L980.5 693.3L983.5 691.6L986.5 690.3L989.5 690.1L992.5 688.5L995.5 686.9L998.5 686L1001.5 685.2L1004.5 685.5L1007.5 684.9L1010.5 686L1013.5 690.5L1016.5 692.2L1019.5 693.7L1022.5 693M584.5 714.4L587.5 715L590.5 709.4L593.5 704.8L596.5 702.1L599.5 700.4L602.5 700.5L605.5 702.2L608.5 707.5L611.5 710.9L614.5 713.7L617.5 714.2L620.5 711.8L623.5 710.5L626.5 708.2L629.5 705.5L632.5 703.2L635.5 700.9L638.5 699.4L641.5 699.3L644.5 699.8L647.5 702.1L650.5 706.4L653.5 709.7L656.5 713.9L659.5 713.9L662.5 714.1L665.5 712.7L668.5 711.3L671.5 708.1L674.5 706.5L677.5 702.8L680.5 700.6L683.5 701.8L686.5 702.4L689.5 704.2L692.5 707.2L695.5 711.6L698.5 713.4L701.5 714.1L704.5 714.7L707.5 713.4L710.5 711.4L713.5 710.4L716.5 706.3L719.5 704L722.5 702.5L725.5 699.9L728.5 699L731.5 699.6L734.5 700.8L737.5 702.7L740.5 705.3L743.5 707.6L746.5 709.4L749.5 710.9L752.5 710.8L755.5 712.2L758.5 712.7L761.5 711L764.5 708.3L767.5 707.4L770.5 702.5L773.5 700.3L776.5 699.1L779.5 699.9L782.5 698.7L785.5 699.4L788.5 702.1L791.5 705.4L794.5 707.1L797.5 707.9L800.5 708.7L803.5 710.3L806.5 710.1L809.5 709.6L812.5 709.3L815.5 710.7L818.5 711.1L821.5 711.4L824.5 709.4L827.5 706.7L830.5 704.2L833.5 702.5L836.5 701.9L839.5 702.7L842.5 701.5L845.5 701.3L848.5 700.8L851.5 702.7L854.5 704.6L857.5 705.8L860.5 708.8L863.5 709.1L866.5 710.4L869.5 710.6L872.5 711.9L875.5 712.5L878.5 712.5L881.5 712.4L884.5 710.9L887.5 709.3L890.5 708.5L893.5 707.4L896.5 706.4L899.5 704.1L902.5 703.9L905.5 702.6L908.5 703.4L911.5 703.7L914.5 707.1L917.5 706L920.5 706.4L923.5 707.5L926.5 708.1L929.5 709L932.5 710.8L935.5 711.2L938.5 711.8L941.5 712.1L944.5 712.6L947.5 711.8L950.5 710.8L953.5 709.3L956.5 708.9L959.5 708.6L962.5 709.3L965.5 708.2L968.5 707.6L971.5 707.4L974.5 706.9L977.5 706.8L980.5 706.1L983.5 705.2L986.5 703.7L989.5 705L992.5 706.1L995.5 706.6L998.5 708.1L1001.5 707.7L1004.5 709.2L1007.5 709.5L1010.5 710.2L1013.5 710L1016.5 709.8L1019.5 708.8L1022.5 708.4M584.5 719L587.5 721.4L590.5 727.2L593.5 728.7L596.5 728.4L599.5 729L602.5 728.7L605.5 725.8L608.5 722.5L611.5 720.6L614.5 718.3L617.5 716.9L620.5 718.4L623.5 720.6L626.5 723.1L629.5 724.7L632.5 727.3L635.5 727.2L638.5 729.6L641.5 730.5L644.5 731L647.5 728.4L650.5 725.1L653.5 724.7L656.5 723.7L659.5 720.9L662.5 718.6L665.5 718.6L668.5 717.3L671.5 715.6L674.5 717.7L677.5 719.6L680.5 721.8L683.5 723.3L686.5 728L689.5 728.4L692.5 727.7L695.5 725.7L698.5 725.4L701.5 723.8L704.5 722.5L707.5 721.6L710.5 719.1L713.5 717.9L716.5 717.5L719.5 716L722.5 716.3L725.5 716.4L728.5 717.8L731.5 721.1L734.5 724.4L737.5 726.1L740.5 725.7L743.5 726.3L746.5 726.5L749.5 725.9L752.5 724.4L755.5 722.5L758.5 720.6L761.5 718.7L764.5 719.3L767.5 718.1L770.5 719L773.5 721.6L776.5 723.1L779.5 723.4L782.5 722.9L785.5 723L788.5 724.2L791.5 725L794.5 723.3L797.5 722.5L800.5 722.3L803.5 721.9L806.5 722.6L809.5 719.9L812.5 719.5L815.5 717.8L818.5 717L821.5 715.1L824.5 716.8L827.5 719.1L830.5 720.6L833.5 723.3L836.5 724.8L839.5 726.5L842.5 728.3L845.5 727.3L848.5 725.5L851.5 724.5L854.5 721.8L857.5 721L860.5 717.2L863.5 714.2L866.5 715L869.5 716.3L872.5 716.7L875.5 718.3L878.5 718.5L881.5 719.5L884.5 720L887.5 721L890.5 723.7L893.5 725L896.5 725.4L899.5 725.9L902.5 725.6L905.5 724.5L908.5 725L911.5 726.6L914.5 727.1L917.5 727L920.5 726.5L923.5 725.2L926.5 724.1L929.5 723.6L932.5 723.4L935.5 720.6L938.5 719.6L941.5 718.5L944.5 718.5L947.5 720L950.5 719.8L953.5 720.9L956.5 721.7L959.5 721.9L962.5 721.9L965.5 723.8L968.5 723.9L971.5 723.5L974.5 723L977.5 722L980.5 722.1L983.5 720.9L986.5 721.4L989.5 720.4L992.5 719.3L995.5 718.7L998.5 717.2L1001.5 717.3L1004.5 717.7L1007.5 719.3L1010.5 722.1L1013.5 725.2L1016.5 726.5L1019.5 727.1L1022.5 728M584.5 735L587.5 734.1L590.5 732.4L593.5 735L596.5 738.9L599.5 740.2L602.5 741.3L605.5 741.4L608.5 741.8L611.5 741.8L614.5 741.5L617.5 739.1L620.5 736L623.5 732L626.5 730.2L629.5 731.9L632.5 733.7L635.5 737.2L638.5 739.2L641.5 742.2L644.5 743.3L647.5 743.4L650.5 743.8L653.5 742.6L656.5 739.9L659.5 741.2L662.5 740.5L665.5 739.4L668.5 734.1L671.5 731.7L674.5 730.7L677.5 730.4L680.5 730.8L683.5 730.7L686.5 733.1L689.5 734.7L692.5 735.2L695.5 736.9L698.5 741.6L701.5 742.9L704.5 744.2L707.5 744.7L710.5 744.8L713.5 742.7L716.5 743L719.5 740.7L722.5 741L725.5 738.8L728.5 735.8L731.5 733.4L734.5 732.9L737.5 729.5L740.5 729.8L743.5 729.9L746.5 732.6L749.5 736.3L752.5 738.6L755.5 740.2L758.5 740.7L761.5 742.6L764.5 743.1L767.5 741.2L770.5 739.1L773.5 737.8L776.5 736L779.5 735L782.5 732.2L785.5 730L788.5 730.4L791.5 729.1L794.5 729.2L797.5 730.2L800.5 732.7L803.5 736.2L806.5 735.9L809.5 738.3L812.5 740.6L815.5 740.3L818.5 740.5L821.5 740L824.5 738.4L827.5 737.9L830.5 737.2L833.5 736.8L836.5 735.5L839.5 734.7L842.5 734.4L845.5 733.2L848.5 732.7L851.5 731.6L854.5 731.3L857.5 730.8L860.5 731.5L863.5 735.7L866.5 737.6L869.5 741.9L872.5 742.3L875.5 741.5L878.5 741L881.5 739.3L884.5 736.9L887.5 735.4L890.5 735.4L893.5 734.6L896.5 732.3L899.5 731.5L902.5 732.5L905.5 731.8L908.5 733L911.5 733.5L914.5 733.7L917.5 734.4L920.5 736.4L923.5 738.4L926.5 739.5L929.5 741.1L932.5 740.5L935.5 740.3L938.5 740.8L941.5 741L944.5 740.7L947.5 739.6L950.5 739.5L953.5 739.9L956.5 738.3L959.5 737.5L962.5 737L965.5 736L968.5 735.3L971.5 735.6L974.5 735.5L977.5 735.9L980.5 737.1L983.5 738.5L986.5 737.9L989.5 738L992.5 739.6L995.5 739.2L998.5 739.5L1001.5 739.5L1004.5 738.5L1007.5 738.5L1010.5 737.4L1013.5 736.6L1016.5 735.9L1019.5 735.9L1022.5 735.2M584.5 746.1L587.5 746.7L590.5 747.5L593.5 749.5L596.5 754.3L599.5 754L602.5 757.8L605.5 760.8L608.5 759.2L611.5 757.2L614.5 755.8L617.5 753.4L620.5 749.8L623.5 749.4L626.5 749.3L629.5 746.9L632.5 746.9L635.5 746.6L638.5 747.2L641.5 749.1L644.5 751.2L647.5 755.4L650.5 757.5L653.5 757.1L656.5 759.1L659.5 760.7L662.5 759.4L665.5 757.8L668.5 755.2L671.5 750.8L674.5 749.9L677.5 748.7L680.5 747.1L683.5 746L686.5 745.8L689.5 745.6L692.5 747.5L695.5 749.8L698.5 750.6L701.5 752.7L704.5 753.7L707.5 754.3L710.5 755.9L713.5 757.6L716.5 759.3L719.5 759.8L722.5 758.3L725.5 756.6L728.5 753.2L731.5 752.9L734.5 752.1L737.5 750.5L740.5 748L743.5 747.1L746.5 746.9L749.5 747.9L752.5 748.7L755.5 751.1L758.5 753.7L761.5 756L764.5 758.4L767.5 760.4L770.5 759.9L773.5 756.5L776.5 753L779.5 749.2L782.5 748.6L785.5 746.6L788.5 745.8L791.5 745.2L794.5 745.9L797.5 747L800.5 749.2L803.5 749.3L806.5 751.5L809.5 751.8L812.5 755.3L815.5 757.8L818.5 759.5L821.5 760.6L824.5 760.2L827.5 759.4L830.5 756.6L833.5 755.1L836.5 751.4L839.5 748.9L842.5 747L845.5 745.9L848.5 745.2L851.5 748.5L854.5 751.7L857.5 758.4L860.5 759.7L863.5 760.8L866.5 762.2L869.5 759.2L872.5 758.8L875.5 756.3L878.5 754.1L881.5 749.9L884.5 748.8L887.5 747.1L890.5 746.4L893.5 746.1L896.5 747.5L899.5 748L902.5 749L905.5 752.7L908.5 757.2L911.5 759.9L914.5 761.7L917.5 762.4L920.5 758.4L923.5 756.9L926.5 755L929.5 753.4L932.5 752.5L935.5 749.5L938.5 748.6L941.5 747.9L944.5 746.5L947.5 745.7L950.5 746.4L953.5 748.3L956.5 752.7L959.5 752.4L962.5 756L965.5 755.8L968.5 755.6L971.5 757.6L974.5 758.7L977.5 759L980.5 760L983.5 759.5L986.5 756.8L989.5 754.8L992.5 754.8L995.5 752.4L998.5 748.3L1001.5 747.1L1004.5 745.1L1007.5 745.7L1010.5 745.7L1013.5 745.8L1016.5 746.3L1019.5 748.9L1022.5 751M584.5 769.2L587.5 766.6L590.5 764.5L593.5 764.1L596.5 763.7L599.5 765.9L602.5 769.2L605.5 771.2L608.5 772.8L611.5 774.5L614.5 774.9L617.5 773.9L620.5 772.9L623.5 771L626.5 767.7L629.5 766.3L632.5 764L635.5 762.1L638.5 761.6L641.5 762.2L644.5 763.1L647.5 764.1L650.5 767.3L653.5 770.1L656.5 771.7L659.5 772L662.5 772.5L665.5 772.6L668.5 772.6L671.5 773.2L674.5 773.6L677.5 771.6L680.5 772.3L683.5 773.2L686.5 769.4L689.5 770.2L692.5 767.2L695.5 766.5L698.5 764.6L701.5 764.5L704.5 763.8L707.5 764.1L710.5 765.1L713.5 766L716.5 765.8L719.5 766.9L722.5 766.7L725.5 766.9L728.5 768.2L731.5 770.3L734.5 771.1L737.5 773.9L740.5 776L743.5 775.6L746.5 773L749.5 769.9L752.5 767.8L755.5 766.8L758.5 762.8L761.5 761.6L764.5 762.1L767.5 763.6L770.5 764.7L773.5 766.2L776.5 766L779.5 768.1L782.5 768.6L785.5 770.2L788.5 772.8L791.5 773.5L794.5 773.6L797.5 773.1L800.5 772.5L803.5 770.5L806.5 768.8L809.5 764.6L812.5 761.8L815.5 761.9L818.5 761.1L821.5 761.9L824.5 762.9L827.5 767.8L830.5 774L833.5 774.7L836.5 774L839.5 771.1L842.5 768L845.5 765.3L848.5 763.6L851.5 761.7L854.5 760.9L857.5 761L860.5 763.2L863.5 767L866.5 768.1L869.5 770.2L872.5 771.3L875.5 771.5L878.5 772.2L881.5 771.8L884.5 771L887.5 768.4L890.5 764.1L893.5 763.3L896.5 762.9L899.5 761.6L902.5 759.1L905.5 759.2L908.5 759.1L911.5 758.2L914.5 760.5L917.5 763.9L920.5 767.4L923.5 770.6L926.5 771.2L929.5 771.5L932.5 771.6L935.5 772.3L938.5 770L941.5 768.9L944.5 768.1L947.5 766.6L950.5 763.1L953.5 763.9L956.5 761.4L959.5 760.4L962.5 761.2L965.5 762.3L968.5 760.1L971.5 760.1L974.5 761.1L977.5 762L980.5 765.8L983.5 765.7L986.5 764.4L989.5 765.1L992.5 766.7L995.5 765.2L998.5 768L1001.5 771.6L1004.5 772.1L1007.5 772.6L1010.5 768.4L1013.5 767.1L1016.5 765.1L1019.5 762.6L1022.5 761M584.5 778.3L587.5 780L590.5 781.8L593.5 785.2L596.5 784.1L599.5 784.7L602.5 784.8L605.5 785.4L608.5 783.1L611.5 782.3L614.5 781.3L617.5 780.7L620.5 780.4L623.5 780.5L626.5 780.8L629.5 780.5L632.5 781.2L635.5 780.5L638.5 780.7L641.5 781.6L644.5 782.2L647.5 782.4L650.5 783.7L653.5 783.8L656.5 783.3L659.5 782.9L662.5 781.8L665.5 781.6L668.5 781.2L671.5 780.2L674.5 778.7L677.5 779.5L680.5 779.1L683.5 778.6L686.5 779.6L689.5 780L692.5 780.3L695.5 781.2L698.5 782.1L701.5 782.5L704.5 783.1L707.5 783.4L710.5 783.8L713.5 783L716.5 782.7L719.5 782.7L722.5 781.6L725.5 780L728.5 779.5L731.5 779.3L734.5 779L737.5 778.7L740.5 778L743.5 778L746.5 779L749.5 779.6L752.5 779.7L755.5 781.1L758.5 782.7L761.5 784.2L764.5 784.5L767.5 785L770.5 784.8L773.5 784.2L776.5 782.2L779.5 781.2L782.5 780.1L785.5 779.9L788.5 778.8L791.5 779.7L794.5 780.6L797.5 781L800.5 782.2L803.5 783L806.5 783.1L809.5 783.1L812.5 783.4L815.5 783.1L818.5 783.3L821.5 784.1L824.5 784.1L827.5 784L830.5 783.2L833.5 782.1L836.5 780.8L839.5 780L842.5 780.2L845.5 779.6L848.5 779.4L851.5 779.8L854.5 780.3L857.5 781.2L860.5 782.3L863.5 783.3L866.5 784.3L869.5 784.7L872.5 784.7L875.5 785.3L878.5 784.3L881.5 782.5L884.5 781.5L887.5 781L890.5 780.4L893.5 780.5L896.5 780.3L899.5 780.2L902.5 781.2L905.5 783.1L908.5 784.3L911.5 783L914.5 782.8L917.5 783.5L920.5 783.6L923.5 783.3L926.5 782.7L929.5 782.9L932.5 782.2L935.5 781.4L938.5 781.6L941.5 781L944.5 780.3L947.5 780.5L950.5 780.3L953.5 779L956.5 778.9L959.5 779.8L962.5 780.9L965.5 781.9L968.5 782.2L971.5 782.9L974.5 784.1L977.5 784.1L980.5 784.6L983.5 784.5L986.5 784.1L989.5 782.9L992.5 782.5L995.5 781.6L998.5 780.4L1001.5 779.8L1004.5 779.8L1007.5 780.2L1010.5 780.4L1013.5 783.1L1016.5 783.3L1019.5 783.3L1022.5 784.1M584.5 791.6L587.5 790.7L590.5 790L593.5 792.9L596.5 796.2L599.5 799.4L602.5 800.1L605.5 799L608.5 799.6L611.5 799L614.5 797.9L617.5 796.3L620.5 795.7L623.5 795L626.5 793.7L629.5 791.4L632.5 791.4L635.5 791.8L638.5 792.5L641.5 792.4L644.5 795.3L647.5 796.6L650.5 798.1L653.5 799.6L656.5 798.6L659.5 798.6L662.5 798.8L665.5 798L668.5 795.6L671.5 794.1L674.5 792.6L677.5 792.4L680.5 792.3L683.5 791.2L686.5 790.1L689.5 791.2L692.5 792.4L695.5 793.5L698.5 794.8L701.5 795.2L704.5 796.6L707.5 797.8L710.5 797.3L713.5 797.9L716.5 798L719.5 798.5L722.5 798.3L725.5 796.7L728.5 794.4L731.5 792.8L734.5 792.8L737.5 792.7L740.5 792.6L743.5 792.8L746.5 793.6L749.5 794.4L752.5 794.8L755.5 796L758.5 796.8L761.5 797.1L764.5 797.1L767.5 797L770.5 796L773.5 795.9L776.5 794.7L779.5 794.1L782.5 793.6L785.5 794L788.5 794.3L791.5 794.2L794.5 793.3L797.5 792.8L800.5 793.4L803.5 792.5L806.5 793.8L809.5 794.1L812.5 796.4L815.5 795.9L818.5 795.7L821.5 796.5L824.5 796.6L827.5 797.4L830.5 796.6L833.5 796.5L836.5 796.4L839.5 794.8L842.5 793.4L845.5 792.8L848.5 792.6L851.5 794L854.5 795.7L857.5 797L860.5 797.8L863.5 798.4L866.5 797.9L869.5 797.3L872.5 797.5L875.5 797.2L878.5 796.9L881.5 796.9L884.5 796.6L887.5 796.4L890.5 795.7L893.5 794.5L896.5 794L899.5 793.2L902.5 793.7L905.5 793.3L908.5 793.4L911.5 795.9L914.5 798.1L917.5 799.3L920.5 799.9L923.5 800.7L926.5 800.5L929.5 799.1L932.5 797.5L935.5 796.8L938.5 793.8L941.5 793.2L944.5 793.7L947.5 792.1L950.5 791.4L953.5 792.2L956.5 793.7L959.5 794.4L962.5 794L965.5 796.6L968.5 798.4L971.5 800.6L974.5 802L977.5 802.9L980.5 802.6L983.5 801.6L986.5 799.5L989.5 797.7L992.5 796.8L995.5 795.4L998.5 791.1L1001.5 790.3L1004.5 789.2L1007.5 787.5L1010.5 786.4L1013.5 787L1016.5 787.9L1019.5 786.6L1022.5 787M584.5 807.2L587.5 807.4L590.5 809L593.5 811.1L596.5 811.9L599.5 815L602.5 816.1L605.5 815.7L608.5 816.2L611.5 814.5L614.5 813.4L617.5 808.1L620.5 805.6L623.5 803.3L626.5 803.6L629.5 804.1L632.5 805.1L635.5 805.6L638.5 806.5L641.5 809.7L644.5 812.5L647.5 814.5L650.5 813.4L653.5 813.7L656.5 813.5L659.5 809.7L662.5 807.2L665.5 806.6L668.5 807.3L671.5 807L674.5 806.4L677.5 806.3L680.5 807.3L683.5 807.8L686.5 808.4L689.5 808.6L692.5 808.4L695.5 808.6L698.5 809.1L701.5 810.1L704.5 810.5L707.5 810.3L710.5 811.1L713.5 810.3L716.5 811.9L719.5 812.4L722.5 811.9L725.5 810.2L728.5 810.4L731.5 809.9L734.5 807.7L737.5 803.5L740.5 802.7L743.5 803.1L746.5 803.5L749.5 804.4L752.5 804.6L755.5 806.4L758.5 809.5L761.5 809.6L764.5 811.7L767.5 812L770.5 810.5L773.5 807.6L776.5 806.3L779.5 805.4L782.5 803.9L785.5 802.8L788.5 802.8L791.5 805L794.5 807.7L797.5 810.2L800.5 810.7L803.5 811.9L806.5 810.8L809.5 810.2L812.5 809.5L815.5 808.2L818.5 806.4L821.5 804.7L824.5 804.4L827.5 802.6L830.5 802.2L833.5 801.5L836.5 802.8L839.5 805.2L842.5 806.5L845.5 809.5L848.5 808.2L851.5 807.6L854.5 807.5L857.5 810.2L860.5 812.6L863.5 812.7L866.5 812.1L869.5 811.6L872.5 810.3L875.5 807.4L878.5 805.8L881.5 804.7L884.5 803.9L887.5 803.4L890.5 803L893.5 803.4L896.5 804.7L899.5 805.8L902.5 807.5L905.5 807.5L908.5 810.6L911.5 811.8L914.5 812.4L917.5 811.6L920.5 810.2L923.5 808.6L926.5 808.1L929.5 807.5L932.5 807.2L935.5 806.9L938.5 805.1L941.5 804.5L944.5 804.4L947.5 804L950.5 803.9L953.5 805.1L956.5 805.4L959.5 805.3L962.5 807.2L965.5 810.5L968.5 812.5L971.5 812.5L974.5 811.8L977.5 810.8L980.5 810.5L983.5 810.6L986.5 810.3L989.5 810L992.5 809.6L995.5 809.1L998.5 808.3L1001.5 808L1004.5 808.1L1007.5 807.5L1010.5 807.8L1013.5 808.3L1016.5 807.6L1019.5 807.9L1022.5 808.8M584.5 826.5L587.5 824.5L590.5 820.4L593.5 819.5L596.5 818.7L599.5 819.6L602.5 823.1L605.5 824.5L608.5 828.4L611.5 832.2L614.5 831.8L617.5 831.2L620.5 829.3L623.5 828.4L626.5 825.7L629.5 825L632.5 823.9L635.5 823.9L638.5 821.4L641.5 821.3L644.5 821.9L647.5 822.4L650.5 823.3L653.5 824.5L656.5 827.5L659.5 828.5L662.5 829.5L665.5 831L668.5 831.1L671.5 831.3L674.5 832L677.5 831.1L680.5 830.8L683.5 830.2L686.5 829.4L689.5 829.2L692.5 827.2L695.5 824.6L698.5 822.5L701.5 821.9L704.5 820L707.5 818.7L710.5 819L713.5 820.1L716.5 821.8L719.5 824.4L722.5 828.8L725.5 831.6L728.5 832.5L731.5 831.9L734.5 833.1L737.5 833L740.5 834.4L743.5 834.4L746.5 833.9L749.5 832.5L752.5 829L755.5 830.1L758.5 824.5L761.5 823.6L764.5 822.1L767.5 821.5L770.5 822.6L773.5 823.6L776.5 825.2L779.5 827L782.5 830.3L785.5 832.4L788.5 834L791.5 834.7L794.5 834.3L797.5 833L800.5 830.6L803.5 829.7L806.5 827.7L809.5 825.5L812.5 824.2L815.5 824.1L818.5 823.8L821.5 824.4L824.5 827.6L827.5 827.9L830.5 829.8L833.5 830.4L836.5 832.8L839.5 832.1L842.5 830.5L845.5 829.6L848.5 828L851.5 827.4L854.5 826.1L857.5 826.1L860.5 825.9L863.5 826.4L866.5 826.2L869.5 825.8L872.5 825.6L875.5 825.7L878.5 827.2L881.5 827.5L884.5 827.6L887.5 828.9L890.5 829.2L893.5 828.9L896.5 829.9L899.5 829.1L902.5 830.2L905.5 829.6L908.5 826.3L911.5 824.5L914.5 822.6L917.5 822L920.5 820.8L923.5 821.1L926.5 821.5L929.5 822.2L932.5 823.4L935.5 825.5L938.5 827.7L941.5 829L944.5 830.3L947.5 830.3L950.5 829.4L953.5 827.9L956.5 826.9L959.5 825.6L962.5 825.2L965.5 823.4L968.5 821.6L971.5 822L974.5 822.4L977.5 822.6L980.5 822.1L983.5 822.1L986.5 823L989.5 823.6L992.5 823.8L995.5 828.6L998.5 828.2L1001.5 828.4L1004.5 829.5L1007.5 830.4L1010.5 830.3L1013.5 829.6L1016.5 827.6L1019.5 826.4L1022.5 825.6"/></g><g fill="none" stroke="#fff" stroke-width="1.5" stroke-opacity="0.062" stroke-linejoin="round" filter="url(#b1)"><use href="#dlines"/></g><g filter="url(#b2)"><ellipse cx="618" cy="560" rx="10" ry="2.2" fill="#fff" fill-opacity="0.12"/><ellipse cx="620.5" cy="576.3" rx="9" ry="2.2" fill="#fff" fill-opacity="0.10"/><ellipse cx="685" cy="567.5" rx="10" ry="2.2" fill="#fff" fill-opacity="0.08" transform="rotate(-5 685 567.5)"/><ellipse cx="696.5" cy="578.9" rx="9.5" ry="2.2" fill="#fff" fill-opacity="0.11" transform="rotate(5 696.5 578.9)"/><ellipse cx="692.4" cy="525" rx="9" ry="2.2" fill="#fff" fill-opacity="0.10" transform="rotate(5 692.4 525)"/><ellipse cx="742" cy="580" rx="9.5" ry="2.2" fill="#fff" fill-opacity="0.09" transform="rotate(-5 742 580)"/><ellipse cx="713" cy="628" rx="11" ry="2.2" fill="#fff" fill-opacity="0.11" transform="rotate(3 713 628)"/><ellipse cx="724" cy="629.8" rx="9" ry="2.2" fill="#fff" fill-opacity="0.10" transform="rotate(6 724 629.8)"/><ellipse cx="770" cy="620.2" rx="9.5" ry="2.2" fill="#fff" fill-opacity="0.14"/><ellipse cx="650" cy="634.7" rx="9" ry="2.2" fill="#fff" fill-opacity="0.10" transform="rotate(5 650 634.7)"/><ellipse cx="801" cy="586.5" rx="10" ry="2.2" fill="#fff" fill-opacity="0.12"/><ellipse cx="804" cy="523" rx="9" ry="2.2" fill="#fff" fill-opacity="0.09"/><ellipse cx="835" cy="602" rx="9" ry="2.2" fill="#fff" fill-opacity="0.12"/><ellipse cx="831" cy="616" rx="8.5" ry="2.2" fill="#fff" fill-opacity="0.09"/><ellipse cx="893" cy="612.6" rx="9.5" ry="2.2" fill="#fff" fill-opacity="0.14" transform="rotate(5 893 612.6)"/><ellipse cx="922" cy="592.3" rx="11" ry="2.2" fill="#fff" fill-opacity="0.23"/><ellipse cx="932" cy="591.5" rx="9" ry="2.2" fill="#fff" fill-opacity="0.11"/><ellipse cx="950" cy="608.9" rx="10.5" ry="2.2" fill="#fff" fill-opacity="0.22"/><ellipse cx="983" cy="594.8" rx="10" ry="2.2" fill="#fff" fill-opacity="0.24" transform="rotate(5 983 594.8)"/><ellipse cx="992" cy="598" rx="9" ry="2.2" fill="#fff" fill-opacity="0.12" transform="rotate(15 992 598)"/><ellipse cx="937.5" cy="553" rx="9.5" ry="2.2" fill="#fff" fill-opacity="0.10"/><ellipse cx="667" cy="697" rx="9.5" ry="2.2" fill="#fff" fill-opacity="0.09" transform="rotate(5 667 697)"/><ellipse cx="777" cy="703.5" rx="9.5" ry="2.2" fill="#fff" fill-opacity="0.09"/><ellipse cx="807" cy="766" rx="9" ry="2.2" fill="#fff" fill-opacity="0.07"/><ellipse cx="999.5" cy="808.5" rx="9" ry="2.2" fill="#fff" fill-opacity="0.10"/><ellipse cx="694.5" cy="531" rx="8.5" ry="2.2" fill="#fff" fill-opacity="0.07"/><ellipse cx="865" cy="533" rx="8.5" ry="2.2" fill="#fff" fill-opacity="0.07"/><ellipse cx="882.7" cy="506.5" rx="8.5" ry="2.2" fill="#fff" fill-opacity="0.07" transform="rotate(10 882.7 506.5)"/><ellipse cx="949" cy="520" rx="8.5" ry="2.2" fill="#fff" fill-opacity="0.07" transform="rotate(-10 949 520)"/><ellipse cx="962" cy="536.5" rx="9" ry="2.2" fill="#fff" fill-opacity="0.07" transform="rotate(5 962 536.5)"/><ellipse cx="640" cy="522" rx="9" ry="2.2" fill="#fff" fill-opacity="0.06"/><ellipse cx="850" cy="640" rx="9" ry="2.2" fill="#fff" fill-opacity="0.07"/><ellipse cx="905" cy="690" rx="9" ry="2.2" fill="#fff" fill-opacity="0.07"/><ellipse cx="730" cy="740" rx="9" ry="2.2" fill="#fff" fill-opacity="0.06"/><ellipse cx="1006" cy="602" rx="9" ry="2.2" fill="#fff" fill-opacity="0.10" transform="rotate(20 1006 602)"/><ellipse cx="760" cy="560" rx="8.5" ry="2.2" fill="#fff" fill-opacity="0.07"/></g><g filter="url(#b0p7)"><ellipse cx="618" cy="560" rx="4.5" ry="0.8" fill="#fff" fill-opacity="0.34"/><ellipse cx="620.5" cy="576.3" rx="3.5" ry="0.8" fill="#fff" fill-opacity="0.28"/><ellipse cx="685" cy="567.5" rx="4.5" ry="0.8" fill="#fff" fill-opacity="0.24" transform="rotate(-5 685 567.5)"/><ellipse cx="696.5" cy="578.9" rx="4" ry="0.8" fill="#fff" fill-opacity="0.31" transform="rotate(5 696.5 578.9)"/><ellipse cx="692.4" cy="525" rx="3.5" ry="0.8" fill="#fff" fill-opacity="0.28" transform="rotate(5 692.4 525)"/><ellipse cx="742" cy="580" rx="4" ry="0.8" fill="#fff" fill-opacity="0.26" transform="rotate(-5 742 580)"/><ellipse cx="713" cy="628" rx="5.5" ry="0.8" fill="#fff" fill-opacity="0.31" transform="rotate(3 713 628)"/><ellipse cx="724" cy="629.8" rx="3.5" ry="0.8" fill="#fff" fill-opacity="0.28" transform="rotate(6 724 629.8)"/><ellipse cx="770" cy="620.2" rx="4" ry="0.8" fill="#fff" fill-opacity="0.38"/><ellipse cx="650" cy="634.7" rx="3.5" ry="0.8" fill="#fff" fill-opacity="0.28" transform="rotate(5 650 634.7)"/><ellipse cx="801" cy="586.5" rx="4.5" ry="0.8" fill="#fff" fill-opacity="0.34"/><ellipse cx="804" cy="523" rx="3.5" ry="0.8" fill="#fff" fill-opacity="0.26"/><ellipse cx="835" cy="602" rx="3.5" ry="0.8" fill="#fff" fill-opacity="0.34"/><ellipse cx="831" cy="616" rx="3" ry="0.8" fill="#fff" fill-opacity="0.26"/><ellipse cx="893" cy="612.6" rx="4" ry="0.8" fill="#fff" fill-opacity="0.41" transform="rotate(5 893 612.6)"/><ellipse cx="922" cy="592.3" rx="5.5" ry="0.8" fill="#fff" fill-opacity="0.66"/><ellipse cx="932" cy="591.5" rx="3.5" ry="0.8" fill="#fff" fill-opacity="0.31"/><ellipse cx="950" cy="608.9" rx="5" ry="0.8" fill="#fff" fill-opacity="0.64"/><ellipse cx="983" cy="594.8" rx="4.5" ry="0.8" fill="#fff" fill-opacity="0.68" transform="rotate(5 983 594.8)"/><ellipse cx="992" cy="598" rx="3.5" ry="0.8" fill="#fff" fill-opacity="0.34" transform="rotate(15 992 598)"/><ellipse cx="937.5" cy="553" rx="4" ry="0.8" fill="#fff" fill-opacity="0.28"/><ellipse cx="667" cy="697" rx="4" ry="0.8" fill="#fff" fill-opacity="0.26" transform="rotate(5 667 697)"/><ellipse cx="777" cy="703.5" rx="4" ry="0.8" fill="#fff" fill-opacity="0.26"/><ellipse cx="807" cy="766" rx="3.5" ry="0.8" fill="#fff" fill-opacity="0.19"/><ellipse cx="999.5" cy="808.5" rx="3.5" ry="0.8" fill="#fff" fill-opacity="0.28"/><ellipse cx="694.5" cy="531" rx="3" ry="0.8" fill="#fff" fill-opacity="0.19"/><ellipse cx="865" cy="533" rx="3" ry="0.8" fill="#fff" fill-opacity="0.21"/><ellipse cx="882.7" cy="506.5" rx="3" ry="0.8" fill="#fff" fill-opacity="0.21" transform="rotate(10 882.7 506.5)"/><ellipse cx="949" cy="520" rx="3" ry="0.8" fill="#fff" fill-opacity="0.21" transform="rotate(-10 949 520)"/><ellipse cx="962" cy="536.5" rx="3.5" ry="0.8" fill="#fff" fill-opacity="0.21" transform="rotate(5 962 536.5)"/><ellipse cx="640" cy="522" rx="3.5" ry="0.8" fill="#fff" fill-opacity="0.17"/><ellipse cx="850" cy="640" rx="3.5" ry="0.8" fill="#fff" fill-opacity="0.19"/><ellipse cx="905" cy="690" rx="3.5" ry="0.8" fill="#fff" fill-opacity="0.19"/><ellipse cx="730" cy="740" rx="3.5" ry="0.8" fill="#fff" fill-opacity="0.17"/><ellipse cx="1006" cy="602" rx="3.5" ry="0.8" fill="#fff" fill-opacity="0.28" transform="rotate(20 1006 602)"/><ellipse cx="760" cy="560" rx="3" ry="0.8" fill="#fff" fill-opacity="0.19"/></g>
</g>
<rect x="590.5" y="492.5" width="422" height="326" fill="none" stroke="#262626" stroke-width="0.9"/><path d="M632.7 818.5v-4.5 M632.7 492.5v4.5M674.9 818.5v-4.5 M674.9 492.5v4.5M717.2 818.5v-4.5 M717.2 492.5v4.5M759.4 818.5v-4.5 M759.4 492.5v4.5M801.6 818.5v-4.5 M801.6 492.5v4.5M843.8 818.5v-4.5 M843.8 492.5v4.5M886 818.5v-4.5 M886 492.5v4.5M928.3 818.5v-4.5 M928.3 492.5v4.5M970.5 818.5v-4.5 M970.5 492.5v4.5M590.5 786.5h4.5 M1012.5 786.5h-4.5M590.5 754.7h4.5 M1012.5 754.7h-4.5M590.5 722.9h4.5 M1012.5 722.9h-4.5M590.5 691.1h4.5 M1012.5 691.1h-4.5M590.5 659.3h4.5 M1012.5 659.3h-4.5M590.5 627.5h4.5 M1012.5 627.5h-4.5M590.5 595.7h4.5 M1012.5 595.7h-4.5M590.5 563.9h4.5 M1012.5 563.9h-4.5M590.5 532.1h4.5 M1012.5 532.1h-4.5M590.5 500.3h4.5 M1012.5 500.3h-4.5" stroke="#262626" stroke-width="0.8" fill="none"/><text x="631.9" y="836.9" text-anchor="middle" class="tk">0.1</text><text x="674.1" y="836.9" text-anchor="middle" class="tk">0.2</text><text x="716.4" y="836.9" text-anchor="middle" class="tk">0.3</text><text x="758.6" y="836.9" text-anchor="middle" class="tk">0.4</text><text x="800.8" y="836.9" text-anchor="middle" class="tk">0.5</text><text x="843" y="836.9" text-anchor="middle" class="tk">0.6</text><text x="885.2" y="836.9" text-anchor="middle" class="tk">0.7</text><text x="927.5" y="836.9" text-anchor="middle" class="tk">0.8</text><text x="969.7" y="836.9" text-anchor="middle" class="tk">0.9</text><text x="1011.9" y="836.9" text-anchor="middle" class="tk">1</text><text x="585" y="791.7" text-anchor="end" class="tk">50</text><text x="585" y="759.9" text-anchor="end" class="tk">100</text><text x="585" y="728.1" text-anchor="end" class="tk">150</text><text x="585" y="696.3" text-anchor="end" class="tk">200</text><text x="585" y="664.5" text-anchor="end" class="tk">250</text><text x="585" y="632.7" text-anchor="end" class="tk">300</text><text x="585" y="600.9" text-anchor="end" class="tk">350</text><text x="585" y="569.1" text-anchor="end" class="tk">400</text><text x="585" y="537.3" text-anchor="end" class="tk">450</text><text x="585" y="505.5" text-anchor="end" class="tk">500</text><text x="801.5" y="865.6" text-anchor="middle" class="lb">Time/s</text><text x="555.1" y="655.5" text-anchor="middle" class="lb" transform="rotate(-90 555.1 655.5)">Frequency/Hz</text><text x="757" y="922.5" text-anchor="middle" class="cap">(d)</text>
</g>
</svg></body></html>
